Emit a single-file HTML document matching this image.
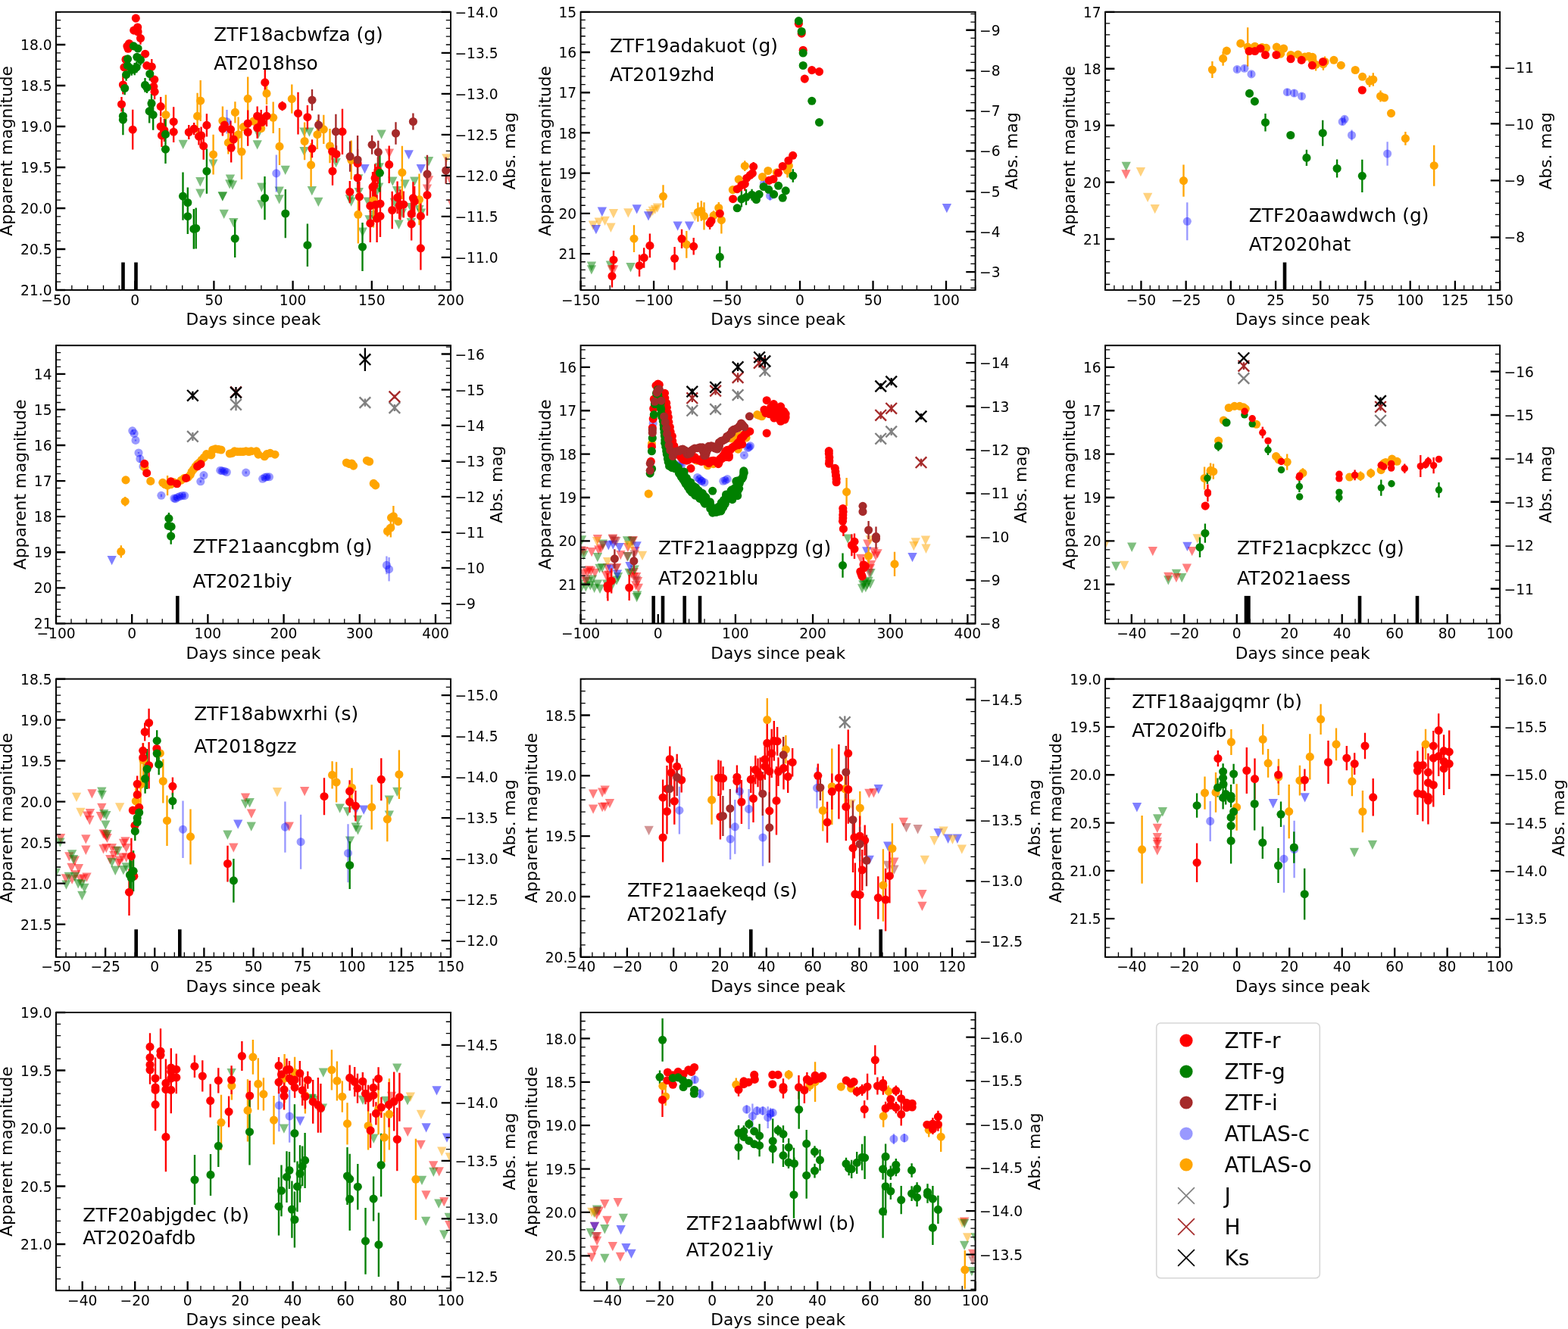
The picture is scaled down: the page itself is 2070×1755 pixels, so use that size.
<!DOCTYPE html>
<html lang="en"><head><meta charset="utf-8"><title>Light curves</title>
<style>html,body{margin:0;padding:0;background:#fff}body{width:2070px;height:1755px;overflow:hidden}svg{display:block}</style>
</head><body>
<svg xmlns="http://www.w3.org/2000/svg" width="2070" height="1755" viewBox="0 0 2070 1755">
<style>text{font-family:"DejaVu Sans","Liberation Sans",sans-serif;fill:#000}.t0{font-size:18.67px}.t1{font-size:21.78px}.t2{font-size:24.89px}.t3{font-size:28.0px}.fr{fill:none;stroke:#000;stroke-width:1.95;stroke-linejoin:miter}.mj{fill:none;stroke:#000;stroke-width:2.31}.mn{fill:none;stroke:#000;stroke-width:1.30}.e{fill:none;stroke-width:2.35}</style>
<rect width="2070" height="1755" fill="#fff"/>
<g id="p00">
<clipPath id="c0"><rect x="74" y="15.8" width="521" height="367.2"/></clipPath>
<g clip-path="url(#c0)">
<g fill="#008000" fill-opacity="0.5"><path d="M235.6 184.7h12.3l-6.2 12.3z"/><path d="M333.6 185.3h12.3l-6.2 12.3z"/><path d="M334.8 170.9h12.3l-6.2 12.3z"/></g>
<g fill="#008000" fill-opacity="0.5"><path d="M395.4 168.4h12.3l-6.2 12.3z"/><path d="M402.3 168.4h12.3l-6.2 12.3z"/><path d="M497.5 171.5h12.3l-6.2 12.3z"/></g>
<g fill="#008000" fill-opacity="0.5"><path d="M275.2 210.5h12.3l-6.2 12.3z"/><path d="M258.2 234.1h12.3l-6.2 12.3z"/><path d="M258.2 249.5h12.3l-6.2 12.3z"/><path d="M297.8 230.6h12.3l-6.2 12.3z"/><path d="M297.1 237.2h12.3l-6.2 12.3z"/><path d="M300.9 238.5h12.3l-6.2 12.3z"/><path d="M287.7 253.3h12.3l-6.2 12.3z"/><path d="M287.7 253.5h12.3l-6.2 12.3z"/><path d="M289.6 276.8h12.3l-6.2 12.3z"/><path d="M302.2 288.1h12.3l-6.2 12.3z"/><path d="M339.2 241.6h12.3l-6.2 12.3z"/><path d="M339.2 264.2h12.3l-6.2 12.3z"/><path d="M362.5 246.6h12.3l-6.2 12.3z"/><path d="M362.5 257.3h12.3l-6.2 12.3z"/><path d="M370.6 218.7h12.3l-6.2 12.3z"/></g>
<g fill="#008000" fill-opacity="0.5"><path d="M395.4 193.9h12.3l-6.2 12.3z"/><path d="M437.5 208.9h12.3l-6.2 12.3z"/><path d="M405.7 246h12.3l-6.2 12.3z"/><path d="M414.2 260.7h12.3l-6.2 12.3z"/><path d="M455.7 257.3h12.3l-6.2 12.3z"/><path d="M457.6 260.4h12.3l-6.2 12.3z"/><path d="M467.6 247.9h12.3l-6.2 12.3z"/><path d="M467 230.3h12.3l-6.2 12.3z"/><path d="M494.6 215.2h12.3l-6.2 12.3z"/><path d="M494 241.6h12.3l-6.2 12.3z"/><path d="M479.6 260.4h12.3l-6.2 12.3z"/><path d="M512.2 233.4h12.3l-6.2 12.3z"/><path d="M528.5 237.2h12.3l-6.2 12.3z"/><path d="M541.1 233.4h12.3l-6.2 12.3z"/><path d="M517.9 246h12.3l-6.2 12.3z"/><path d="M559.9 207.1h12.3l-6.2 12.3z"/><path d="M486.5 278h12.3l-6.2 12.3z"/><path d="M481.4 284.3h12.3l-6.2 12.3z"/><path d="M472.6 300.6h12.3l-6.2 12.3z"/><path d="M520.4 290.6h12.3l-6.2 12.3z"/><path d="M524.8 275.5h12.3l-6.2 12.3z"/><path d="M536.7 288.1h12.3l-6.2 12.3z"/><path d="M536.1 268h12.3l-6.2 12.3z"/><path d="M547.4 271.1h12.3l-6.2 12.3z"/><path d="M549.9 275.5h12.3l-6.2 12.3z"/><path d="M514.7 261.7h12.3l-6.2 12.3z"/><path d="M490.9 247.9h12.3l-6.2 12.3z"/></g>
<g fill="#0000ff" fill-opacity="0.5"><path d="M533.6 198.3h12.3l-6.2 12.3z"/><path d="M475.4 217.1h12.3l-6.2 12.3z"/><path d="M549.6 217.1h12.3l-6.2 12.3z"/></g>
<g fill="#ff0000" fill-opacity="0.5"><path d="M507.8 196.4h12.3l-6.2 12.3z"/><path d="M559.9 232.2h12.3l-6.2 12.3z"/><path d="M557.8 243.5h12.3l-6.2 12.3z"/><path d="M588.8 232.8h12.3l-6.2 12.3z"/><path d="M590.1 263h12.3l-6.2 12.3z"/></g>
<g fill="#ffa500" fill-opacity="0.5"><path d="M583.2 203.3h12.3l-6.2 12.3z"/></g>
<path class="e" stroke="#0000ff" stroke-opacity="0.4" d="M299.5 145v31.4"/>
<path class="e" stroke="#0000ff" stroke-opacity="0.4" d="M364.8 204.4v49"/>
<path class="e" stroke="#ffa500" d="M218.9 125.2v52.8M264.7 106.1v54M260.6 122.7v61.5M293.9 140.6v37.7M310.4 134.3v28.1M327.2 101.4v57.8M352 109v28.9M385.3 111.5v38.2M360.7 134.6v41.4M314.6 154.4v46.5M301.4 173.3v30.1M369 168.9v49M402.1 161.6v49.7M281.6 177.7v52.8M319 163.9v72.9"/>
<path class="e" stroke="#ffa500" d="M427.3 151.7v38.2M418.9 158.2v38.9M435.5 170.1v45.2"/>
<path class="e" stroke="#ffa500" d="M410.6 189v57.8M463.7 185.6v51.5M472.8 245v76.6M493 228.9v71.6M530.9 192.7v70.3M553.5 229.5v67.8"/>
<path class="e" stroke="#ff0000" d="M185.5 42.4v16.3M200.3 78.1v20.1M204.1 111.1v20.1M162.4 99.4v25.1M160.5 127.9v19.6M212.2 128.1v25.1M175.2 144.8v52.8M212.2 154.4v25.1M216.9 157v30.1M213.5 163.9v30.1M229.2 141.3v38.9M229.2 160.3v27.6M249.3 165.1v18.8M256.2 162v16.3M272.9 150.3v30.1M262.5 168.9v22.6M265.6 167.6v22.6M268.7 174.8v35.9M293.9 160.7v18.8M296.4 157.6v15.1M304.5 159.5v22.6M308.3 173.9v20.1M305.2 176v38.4M327.2 145.4v35.2M327.2 156.3v36.4M339.7 140.6v25.1M344.7 145v22.6M352 139.4v27.6M339.7 155.1v27.6M349.8 91.3v35.2M372.7 133.7v12.6M393.5 121.8v55.8"/>
<path class="e" stroke="#ff0000" d="M405.9 139v31.4M452 143.8v60.3"/>
<path class="e" stroke="#ff0000" d="M412 184.3v23.9M438.6 188.7v22.6M444 192.2v22.6M439 207.6v37.2M472.1 196.9v37.7M472.1 216.1v37.7M461.8 239v28.9M474.4 239.8v40.2M495.1 216.4v37.7M498.9 207.6v35.2M492 227v40.2M493.9 226.4v37.7M488.8 249.3v45.2M495.7 249v42.7M502 246.5v45.2M497.6 257.2v62.8M502 257.8v55.3M488.8 269.7v50.2M513.7 192.6v49.5M517.7 252.8v49.5M524.6 239.6v42.7M528.4 250.3v40.2M532.8 252.4v35.2M527.2 254v35.2M545.4 240.2v42.7M547.2 245.9v40.2M543.2 263.7v37.7M543.2 274.3v43.2M555.4 266.6v37.7M555.4 299.1v57.3M564 230.3v54.5"/>
<path class="e" stroke="#008000" d="M185.5 71.5v15.1M180.2 81.2v15.1M173.7 84.7v15.1M177.7 82.9v16.3M166.6 90.4v16.3M197.8 88.8v17.6M164.7 107.7v17.6M191.5 102.9v18.8M194 108v15.1M200 124v25.1M197.2 131.2v31.4M202.2 131.5v40.2M162.4 134.3v37.7M162.4 138.1v40.2M218.5 157.3v40.2M218.5 178.3v37.7"/>
<path class="e" stroke="#008000" d="M272.9 196.5v59.3M241.5 227.4v63.3M247.8 247.4v40.2M247.8 262.3v46.7M255.8 276v52.8M258.7 274.6v53.8M310.2 289.8v50.2M349.5 232.9v57.3M376.8 249.9v64.3"/>
<path class="e" stroke="#008000" d="M405.9 295.6v56.3M478.5 294.1v63.8M501.4 203.2v50.2"/>
<path class="e" stroke="#a52a2a" d="M412 118v28.1M420.6 151.3v27.6M443.4 150.7v46.5M491.1 178.7v25.1M499.3 185.8v30.1M522.5 161.2v29.6M545.4 149.4v22.1"/>
<path class="e" stroke="#a52a2a" d="M462.1 186.5v40.2M472.1 178.9v64.1M564 204.8v50.2M588.7 207.6v35.2"/>
<g fill="#0000ff" fill-opacity="0.4"><circle cx="299.5" cy="160.7" r="5.55"/></g>
<g fill="#0000ff" fill-opacity="0.4"><circle cx="364.8" cy="228.9" r="5.55"/></g>
<g fill="#ffa500"><circle cx="218.9" cy="151.6" r="5.55"/><circle cx="264.7" cy="133.1" r="5.55"/><circle cx="260.6" cy="153.4" r="5.55"/><circle cx="293.9" cy="159.5" r="5.55"/><circle cx="310.4" cy="148.4" r="5.55"/><circle cx="327.2" cy="130.3" r="5.55"/><circle cx="352" cy="123.4" r="5.55"/><circle cx="385.3" cy="130.6" r="5.55"/><circle cx="360.7" cy="155.3" r="5.55"/><circle cx="334.7" cy="160.1" r="5.55"/><circle cx="321.5" cy="167.6" r="5.55"/><circle cx="344.7" cy="169.5" r="5.55"/><circle cx="314.6" cy="177.7" r="5.55"/><circle cx="301.4" cy="188.4" r="5.55"/><circle cx="369" cy="193.4" r="5.55"/><circle cx="402.1" cy="186.5" r="5.55"/><circle cx="281.6" cy="204.1" r="5.55"/><circle cx="319" cy="200.3" r="5.55"/></g>
<g fill="#ffa500"><circle cx="427.3" cy="170.8" r="5.55"/><circle cx="418.9" cy="177.7" r="5.55"/><circle cx="435.5" cy="192.8" r="5.55"/></g>
<g fill="#ffa500"><circle cx="410.6" cy="217.9" r="5.55"/><circle cx="463.7" cy="211.3" r="5.55"/><circle cx="472.8" cy="283.3" r="5.55"/><circle cx="493" cy="264.7" r="5.55"/><circle cx="530.9" cy="227.9" r="5.55"/><circle cx="553.5" cy="263.5" r="5.55"/></g>
<g fill="#ff0000"><circle cx="179.3" cy="24.1" r="5.55"/><circle cx="181.7" cy="36" r="5.55"/><circle cx="176.7" cy="40.1" r="5.55"/><circle cx="182.1" cy="42" r="5.55"/><circle cx="185.5" cy="50.6" r="5.55"/><circle cx="170.5" cy="57.5" r="5.55"/><circle cx="167.9" cy="60.9" r="5.55"/><circle cx="169.1" cy="64.3" r="5.55"/><circle cx="191.7" cy="71.2" r="5.55"/><circle cx="166" cy="78.5" r="5.55"/><circle cx="163.9" cy="88.8" r="5.55"/><circle cx="193.8" cy="86.6" r="5.55"/><circle cx="200.3" cy="88.1" r="5.55"/><circle cx="203.8" cy="105.1" r="5.55"/><circle cx="202.8" cy="114.3" r="5.55"/><circle cx="204.1" cy="121.2" r="5.55"/><circle cx="162.4" cy="112" r="5.55"/><circle cx="160.5" cy="137.7" r="5.55"/><circle cx="212.2" cy="140.6" r="5.55"/><circle cx="175.2" cy="171.2" r="5.55"/><circle cx="212.2" cy="167" r="5.55"/><circle cx="216.9" cy="172" r="5.55"/><circle cx="213.5" cy="178.9" r="5.55"/><circle cx="229.2" cy="160.7" r="5.55"/><circle cx="229.2" cy="174.2" r="5.55"/><circle cx="249.3" cy="174.5" r="5.55"/><circle cx="256.2" cy="170.1" r="5.55"/><circle cx="272.9" cy="165.4" r="5.55"/><circle cx="262.5" cy="180.2" r="5.55"/><circle cx="265.6" cy="178.9" r="5.55"/><circle cx="268.7" cy="192.8" r="5.55"/><circle cx="293.9" cy="170.1" r="5.55"/><circle cx="296.4" cy="165.1" r="5.55"/><circle cx="304.5" cy="170.8" r="5.55"/><circle cx="308.3" cy="184" r="5.55"/><circle cx="305.2" cy="195.3" r="5.55"/><circle cx="327.2" cy="163" r="5.55"/><circle cx="327.2" cy="174.5" r="5.55"/><circle cx="339.7" cy="153.2" r="5.55"/><circle cx="344.7" cy="156.3" r="5.55"/><circle cx="352" cy="153.2" r="5.55"/><circle cx="346" cy="161.4" r="5.55"/><circle cx="339.7" cy="168.9" r="5.55"/><circle cx="349.8" cy="108.9" r="5.55"/><circle cx="372.7" cy="140" r="5.55"/><circle cx="393.5" cy="149.7" r="5.55"/></g>
<g fill="#ff0000"><circle cx="405.9" cy="154.7" r="5.55"/><circle cx="452" cy="173.9" r="5.55"/></g>
<g fill="#ff0000"><circle cx="412" cy="196.3" r="5.55"/><circle cx="438.6" cy="200" r="5.55"/><circle cx="444" cy="203.5" r="5.55"/><circle cx="439" cy="226.1" r="5.55"/><circle cx="472.1" cy="215.7" r="5.55"/><circle cx="472.1" cy="234.9" r="5.55"/><circle cx="461.8" cy="253.4" r="5.55"/><circle cx="474.4" cy="259.9" r="5.55"/><circle cx="495.1" cy="235.2" r="5.55"/><circle cx="498.9" cy="225.1" r="5.55"/><circle cx="492" cy="247.1" r="5.55"/><circle cx="493.9" cy="245.2" r="5.55"/><circle cx="488.8" cy="271.9" r="5.55"/><circle cx="495.7" cy="270.4" r="5.55"/><circle cx="502" cy="269.1" r="5.55"/><circle cx="497.6" cy="288.6" r="5.55"/><circle cx="502" cy="285.4" r="5.55"/><circle cx="488.8" cy="294.9" r="5.55"/><circle cx="513.7" cy="217.4" r="5.55"/><circle cx="517.7" cy="277.5" r="5.55"/><circle cx="524.6" cy="260.9" r="5.55"/><circle cx="528.4" cy="270.4" r="5.55"/><circle cx="532.8" cy="270" r="5.55"/><circle cx="527.2" cy="271.6" r="5.55"/><circle cx="545.4" cy="261.6" r="5.55"/><circle cx="547.2" cy="266" r="5.55"/><circle cx="543.2" cy="282.5" r="5.55"/><circle cx="543.2" cy="295.9" r="5.55"/><circle cx="555.4" cy="285.4" r="5.55"/><circle cx="555.4" cy="327.8" r="5.55"/><circle cx="564" cy="257.6" r="5.55"/></g>
<g fill="#008000"><circle cx="176.4" cy="60.9" r="5.55"/><circle cx="182.1" cy="64" r="5.55"/><circle cx="180.8" cy="75.3" r="5.55"/><circle cx="185.5" cy="79.1" r="5.55"/><circle cx="168.6" cy="77.8" r="5.55"/><circle cx="168.3" cy="86.6" r="5.55"/><circle cx="180.2" cy="88.8" r="5.55"/><circle cx="173.7" cy="92.3" r="5.55"/><circle cx="177.7" cy="91" r="5.55"/><circle cx="166.6" cy="98.6" r="5.55"/><circle cx="197.8" cy="97.5" r="5.55"/><circle cx="164.7" cy="116.5" r="5.55"/><circle cx="191.5" cy="112.4" r="5.55"/><circle cx="194" cy="115.5" r="5.55"/><circle cx="200" cy="136.6" r="5.55"/><circle cx="197.2" cy="146.9" r="5.55"/><circle cx="202.2" cy="151.6" r="5.55"/><circle cx="162.4" cy="153.2" r="5.55"/><circle cx="162.4" cy="158.2" r="5.55"/><circle cx="218.5" cy="177.4" r="5.55"/><circle cx="218.5" cy="197.2" r="5.55"/></g>
<g fill="#008000"><circle cx="272.9" cy="226.1" r="5.55"/><circle cx="241.5" cy="259.1" r="5.55"/><circle cx="247.8" cy="267.5" r="5.55"/><circle cx="247.8" cy="285.7" r="5.55"/><circle cx="255.8" cy="302.4" r="5.55"/><circle cx="258.7" cy="301.5" r="5.55"/><circle cx="310.2" cy="315" r="5.55"/><circle cx="349.5" cy="261.6" r="5.55"/><circle cx="376.8" cy="282" r="5.55"/></g>
<g fill="#008000"><circle cx="405.9" cy="323.7" r="5.55"/><circle cx="478.5" cy="326" r="5.55"/><circle cx="501.4" cy="228.3" r="5.55"/></g>
<g fill="#a52a2a"><circle cx="412" cy="132.1" r="5.55"/><circle cx="420.6" cy="165.1" r="5.55"/><circle cx="443.4" cy="173.9" r="5.55"/><circle cx="491.1" cy="191.2" r="5.55"/><circle cx="499.3" cy="200.9" r="5.55"/><circle cx="522.5" cy="176" r="5.55"/><circle cx="545.4" cy="160.5" r="5.55"/></g>
<g fill="#a52a2a"><circle cx="462.1" cy="206.6" r="5.55"/><circle cx="472.1" cy="211" r="5.55"/><circle cx="564" cy="229.9" r="5.55"/><circle cx="588.7" cy="225.1" r="5.55"/></g>
<rect x="160.2" y="346.5" width="4.6" height="37" fill="#000"/>
<rect x="177.2" y="346.5" width="4.6" height="37" fill="#000"/>
</g>
<path class="mn" d="M94.84 383v-6.2M115.68 383v-6.2M136.52 383v-6.2M157.36 383v-6.2M199.04 383v-6.2M219.88 383v-6.2M240.72 383v-6.2M261.56 383v-6.2M303.24 383v-6.2M324.08 383v-6.2M344.92 383v-6.2M365.76 383v-6.2M407.44 383v-6.2M428.28 383v-6.2M449.12 383v-6.2M469.96 383v-6.2M511.64 383v-6.2M532.48 383v-6.2M553.32 383v-6.2M574.16 383v-6.2M74 15.80h6.2M74 26.60h6.2M74 37.40h6.2M74 48.20h6.2M74 69.80h6.2M74 80.60h6.2M74 91.40h6.2M74 102.20h6.2M74 123.80h6.2M74 134.60h6.2M74 145.40h6.2M74 156.20h6.2M74 177.80h6.2M74 188.60h6.2M74 199.40h6.2M74 210.20h6.2M74 231.80h6.2M74 242.60h6.2M74 253.40h6.2M74 264.20h6.2M74 285.80h6.2M74 296.60h6.2M74 307.40h6.2M74 318.20h6.2M74 339.80h6.2M74 350.60h6.2M74 361.40h6.2M74 372.20h6.2M595 26.60h-6.2M595 37.40h-6.2M595 48.20h-6.2M595 59.00h-6.2M595 80.60h-6.2M595 91.40h-6.2M595 102.20h-6.2M595 113.00h-6.2M595 134.60h-6.2M595 145.40h-6.2M595 156.20h-6.2M595 167.00h-6.2M595 188.60h-6.2M595 199.40h-6.2M595 210.20h-6.2M595 221.00h-6.2M595 242.60h-6.2M595 253.40h-6.2M595 264.20h-6.2M595 275.00h-6.2M595 296.60h-6.2M595 307.40h-6.2M595 318.20h-6.2M595 329.00h-6.2M595 350.60h-6.2M595 361.40h-6.2M595 372.20h-6.2M595 383.00h-6.2"/>
<path class="mj" d="M74.00 383v-12.3M178.20 383v-12.3M282.40 383v-12.3M386.60 383v-12.3M490.80 383v-12.3M595.00 383v-12.3M74 59.00h12.3M74 113.00h12.3M74 167.00h12.3M74 221.00h12.3M74 275.00h12.3M74 329.00h12.3M74 383.00h12.3M595 15.80h-12.3M595 69.80h-12.3M595 123.80h-12.3M595 177.80h-12.3M595 231.80h-12.3M595 285.80h-12.3M595 339.80h-12.3"/>
<rect class="fr" x="74" y="15.8" width="521" height="367.2"/>
</g>
<g id="p01">
<clipPath id="c1"><rect x="766.6" y="15.8" width="521" height="367.2"/></clipPath>
<g clip-path="url(#c1)">
<g fill="#ffa500" fill-opacity="0.5"><path d="M776.8 291.6h12.3l-6.2 12.3z"/><path d="M784.6 287.4h12.3l-6.2 12.3z"/><path d="M792.5 285.8h12.3l-6.2 12.3z"/><path d="M800.3 294.6h12.3l-6.2 12.3z"/><path d="M803.8 275.9h12.3l-6.2 12.3z"/><path d="M823.2 275.3h12.3l-6.2 12.3z"/><path d="M852.4 275.9h12.3l-6.2 12.3z"/><path d="M855.6 272.8h12.3l-6.2 12.3z"/><path d="M858.7 270.7h12.3l-6.2 12.3z"/><path d="M861.8 268.4h12.3l-6.2 12.3z"/><path d="M911.2 280.2h12.3l-6.2 12.3z"/></g>
<g fill="#0000ff" fill-opacity="0.5"><path d="M788.7 273.6h12.3l-6.2 12.3z"/><path d="M780.8 296.9h12.3l-6.2 12.3z"/><path d="M834.6 270.2h12.3l-6.2 12.3z"/><path d="M849.9 279.3h12.3l-6.2 12.3z"/><path d="M888.5 292.5h12.3l-6.2 12.3z"/><path d="M903.9 292.5h12.3l-6.2 12.3z"/></g>
<g fill="#0000ff" fill-opacity="0.5"><path d="M1243.8 268.9h12.3l-6.2 12.3z"/></g>
<g fill="#008000" fill-opacity="0.5"><path d="M774.8 345.6h12.3l-6.2 12.3z"/><path d="M774.8 350.3h12.3l-6.2 12.3z"/><path d="M799.7 344.6h12.3l-6.2 12.3z"/><path d="M826.4 347.1h12.3l-6.2 12.3z"/></g>
<g fill="#ff0000" fill-opacity="0.5"><path d="M801.6 350.3h12.3l-6.2 12.3z"/><path d="M804.1 350.3h12.3l-6.2 12.3z"/></g>
<path class="e" stroke="#0000ff" stroke-opacity="0.4" d="M1008.4 238.4v7.5M1016.6 252.2v12.6"/>
<path class="e" stroke="#ffa500" d="M875.5 244.2v30.1M837 297.2v35.9M906.3 305v35.7M921.4 267.6v25.1M925.8 265.3v26.4M929.5 267.2v36.4M948.8 267v15.1M942.1 278.3v12.6M952.4 272.7v35.9"/>
<path class="e" stroke="#ffa500" d="M983.3 212.3v13.8M1039.5 215.7v18.8"/>
<path class="e" stroke="#ff0000" d="M810 331v24.4M808 349.5v30.1M844.1 336.3v28.9M850.2 327.3v26.4M857.9 308.5v31.7M890.6 326v30.6M900 302.8v25.1M915.7 313.9v22.6M937.1 286.7v16.3M939 285.4v12.6"/>
<path class="e" stroke="#ff0000" d="M978.9 237.1v15.1M983.3 233.3v18.8M994.7 213.9v12.6"/>
<path class="e" stroke="#008000" d="M950.3 325.4v28.1"/>
<path class="e" stroke="#008000" d="M978.9 252.2v21.4M985 250v20.7M992.6 249.7v15.1M1046.8 223.2v17.6"/>
<g fill="#0000ff" fill-opacity="0.4"><circle cx="1008.4" cy="242.1" r="5.55"/><circle cx="1016.6" cy="258.5" r="5.55"/></g>
<g fill="#ffa500"><circle cx="875.5" cy="259.3" r="5.55"/><circle cx="837" cy="315.2" r="5.55"/><circle cx="906.3" cy="322.9" r="5.55"/><circle cx="921.4" cy="280.2" r="5.55"/><circle cx="925.8" cy="278.5" r="5.55"/><circle cx="929.5" cy="285.4" r="5.55"/><circle cx="948.8" cy="274.5" r="5.55"/><circle cx="942.1" cy="284.6" r="5.55"/><circle cx="952.4" cy="290.7" r="5.55"/></g>
<g fill="#ffa500"><circle cx="983.3" cy="219.2" r="5.55"/><circle cx="975.2" cy="236.8" r="5.55"/><circle cx="967.3" cy="250.6" r="5.55"/><circle cx="1006.5" cy="233.5" r="5.55"/><circle cx="1013.9" cy="225.5" r="5.55"/><circle cx="1025.4" cy="227.7" r="5.55"/><circle cx="1041.4" cy="218.9" r="5.55"/><circle cx="1039.5" cy="225.2" r="5.55"/></g>
<g fill="#ff0000"><circle cx="810" cy="343.2" r="5.55"/><circle cx="808" cy="364.6" r="5.55"/><circle cx="844.1" cy="350.7" r="5.55"/><circle cx="850.2" cy="340.4" r="5.55"/><circle cx="857.9" cy="324.4" r="5.55"/><circle cx="890.6" cy="341.3" r="5.55"/><circle cx="900" cy="315.3" r="5.55"/><circle cx="915.7" cy="325.3" r="5.55"/><circle cx="937.1" cy="294.9" r="5.55"/><circle cx="939" cy="291.7" r="5.55"/><circle cx="950.3" cy="282" r="5.55"/></g>
<g fill="#ff0000"><circle cx="967.6" cy="262.7" r="5.55"/><circle cx="973.2" cy="249.7" r="5.55"/><circle cx="978.9" cy="244.6" r="5.55"/><circle cx="983.3" cy="242.8" r="5.55"/><circle cx="985.8" cy="235.2" r="5.55"/><circle cx="990.2" cy="231.4" r="5.55"/><circle cx="993.3" cy="228.9" r="5.55"/><circle cx="994.7" cy="220.1" r="5.55"/><circle cx="1015.3" cy="238.4" r="5.55"/><circle cx="1021" cy="236.5" r="5.55"/><circle cx="1027.4" cy="228.3" r="5.55"/><circle cx="1033.2" cy="219.5" r="5.55"/><circle cx="1040.9" cy="212" r="5.55"/><circle cx="1046.7" cy="205.3" r="5.55"/></g>
<g fill="#ff0000"><circle cx="1054.4" cy="31.3" r="5.55"/><circle cx="1058.2" cy="44.1" r="5.55"/><circle cx="1060.2" cy="66.2" r="5.55"/><circle cx="1071.8" cy="92.6" r="5.55"/><circle cx="1081.5" cy="94.6" r="5.55"/><circle cx="1062.3" cy="104.1" r="5.55"/></g>
<g fill="#008000"><circle cx="950.3" cy="339.4" r="5.55"/></g>
<g fill="#008000"><circle cx="973.2" cy="274.8" r="5.55"/><circle cx="978.9" cy="262.9" r="5.55"/><circle cx="985" cy="260.3" r="5.55"/><circle cx="992.6" cy="257.2" r="5.55"/><circle cx="998.4" cy="263.5" r="5.55"/><circle cx="1002.1" cy="256.6" r="5.55"/><circle cx="1008.1" cy="246.5" r="5.55"/><circle cx="1014.7" cy="250.3" r="5.55"/><circle cx="1021.6" cy="256.6" r="5.55"/><circle cx="1027.6" cy="245.3" r="5.55"/><circle cx="1037.2" cy="251.9" r="5.55"/><circle cx="1033.2" cy="261.3" r="5.55"/><circle cx="1046.8" cy="232" r="5.55"/></g>
<g fill="#008000"><circle cx="1054.4" cy="27.6" r="5.55"/><circle cx="1058.2" cy="41.5" r="5.55"/><circle cx="1060.2" cy="70" r="5.55"/><circle cx="1060.2" cy="86.5" r="5.55"/><circle cx="1071.8" cy="133.3" r="5.55"/><circle cx="1081.5" cy="161.6" r="5.55"/></g>
</g>
<path class="mn" d="M785.90 383v-6.2M805.19 383v-6.2M824.49 383v-6.2M843.79 383v-6.2M882.38 383v-6.2M901.67 383v-6.2M920.97 383v-6.2M940.27 383v-6.2M978.86 383v-6.2M998.16 383v-6.2M1017.45 383v-6.2M1036.75 383v-6.2M1075.34 383v-6.2M1094.64 383v-6.2M1113.93 383v-6.2M1133.23 383v-6.2M1171.82 383v-6.2M1191.12 383v-6.2M1210.41 383v-6.2M1229.71 383v-6.2M1268.30 383v-6.2M1287.60 383v-6.2M766.6 26.44h6.2M766.6 37.09h6.2M766.6 47.73h6.2M766.6 58.37h6.2M766.6 79.66h6.2M766.6 90.30h6.2M766.6 100.95h6.2M766.6 111.59h6.2M766.6 132.88h6.2M766.6 143.52h6.2M766.6 154.17h6.2M766.6 164.81h6.2M766.6 186.10h6.2M766.6 196.74h6.2M766.6 207.38h6.2M766.6 218.03h6.2M766.6 239.31h6.2M766.6 249.96h6.2M766.6 260.60h6.2M766.6 271.24h6.2M766.6 292.53h6.2M766.6 303.17h6.2M766.6 313.82h6.2M766.6 324.46h6.2M766.6 345.75h6.2M766.6 356.39h6.2M766.6 367.03h6.2M766.6 377.68h6.2M1287.6 18.46h-6.2M1287.6 29.10h-6.2M1287.6 50.39h-6.2M1287.6 61.03h-6.2M1287.6 71.68h-6.2M1287.6 82.32h-6.2M1287.6 103.61h-6.2M1287.6 114.25h-6.2M1287.6 124.90h-6.2M1287.6 135.54h-6.2M1287.6 156.83h-6.2M1287.6 167.47h-6.2M1287.6 178.11h-6.2M1287.6 188.76h-6.2M1287.6 210.04h-6.2M1287.6 220.69h-6.2M1287.6 231.33h-6.2M1287.6 241.97h-6.2M1287.6 263.26h-6.2M1287.6 273.90h-6.2M1287.6 284.55h-6.2M1287.6 295.19h-6.2M1287.6 316.48h-6.2M1287.6 327.12h-6.2M1287.6 337.77h-6.2M1287.6 348.41h-6.2M1287.6 369.70h-6.2M1287.6 380.34h-6.2"/>
<path class="mj" d="M766.60 383v-12.3M863.08 383v-12.3M959.56 383v-12.3M1056.04 383v-12.3M1152.53 383v-12.3M1249.01 383v-12.3M766.6 15.80h12.3M766.6 69.02h12.3M766.6 122.23h12.3M766.6 175.45h12.3M766.6 228.67h12.3M766.6 281.89h12.3M766.6 335.10h12.3M1287.6 39.75h-12.3M1287.6 92.97h-12.3M1287.6 146.18h-12.3M1287.6 199.40h-12.3M1287.6 252.62h-12.3M1287.6 305.83h-12.3M1287.6 359.05h-12.3"/>
<rect class="fr" x="766.6" y="15.8" width="521" height="367.2"/>
</g>
<g id="p02">
<clipPath id="c2"><rect x="1459.1" y="15.8" width="521" height="367.2"/></clipPath>
<g clip-path="url(#c2)">
<g fill="#008000" fill-opacity="0.5"><path d="M1480.6 213.7h12.3l-6.2 12.3z"/></g>
<g fill="#ff0000" fill-opacity="0.5"><path d="M1480.3 224.2h12.3l-6.2 12.3z"/></g>
<g fill="#ffa500" fill-opacity="0.5"><path d="M1499.8 221h12.3l-6.2 12.3z"/><path d="M1509 254.7h12.3l-6.2 12.3z"/><path d="M1518.6 270h12.3l-6.2 12.3z"/></g>
<path class="e" stroke="#0000ff" stroke-opacity="0.4" d="M1567.3 267.3v50"/>
<path class="e" stroke="#0000ff" stroke-opacity="0.4" d="M1633.2 87.8v7.5M1642.9 86.6v7.5M1652 94.1v7.5M1699.4 117.3v8.8M1708.5 118.6v8.8M1718.5 122.7v8.8M1772.2 156.3v8.8M1775 153.5v7.5M1784.5 171.6v13.8"/>
<path class="e" stroke="#0000ff" stroke-opacity="0.4" d="M1831.6 187.3v31.4"/>
<path class="e" stroke="#ffa500" d="M1562.5 217.5v42.2"/>
<path class="e" stroke="#ffa500" d="M1600.4 80.9v22.1M1614.6 68v18.8M1647.2 36.3v51.5M1737.1 77.2v16.3M1746.9 76.5v16.3M1749 74.6v13.8M1808 99.8v15.1M1812.8 96.2v17.6M1822.5 119.5v15.1"/>
<path class="e" stroke="#ffa500" d="M1855.4 174.1v17.6M1893.2 191.7v54"/>
<path class="e" stroke="#008000" d="M1670.5 150v23.4M1746.2 158.8v33.9M1724.9 197.7v21.4"/>
<path class="e" stroke="#008000" d="M1765.1 210.5v23.9M1798.3 210.7v43.2"/>
<g fill="#0000ff" fill-opacity="0.4"><circle cx="1567.3" cy="292.3" r="5.55"/></g>
<g fill="#0000ff" fill-opacity="0.4"><circle cx="1633.2" cy="91.6" r="5.55"/><circle cx="1642.9" cy="90.3" r="5.55"/><circle cx="1652" cy="97.9" r="5.55"/><circle cx="1699.4" cy="121.7" r="5.55"/><circle cx="1708.5" cy="123" r="5.55"/><circle cx="1718.5" cy="127.1" r="5.55"/><circle cx="1772.2" cy="160.7" r="5.55"/><circle cx="1775" cy="157.3" r="5.55"/><circle cx="1784.5" cy="178.5" r="5.55"/></g>
<g fill="#0000ff" fill-opacity="0.4"><circle cx="1831.6" cy="203" r="5.55"/></g>
<g fill="#ffa500"><circle cx="1562.5" cy="238.6" r="5.55"/></g>
<g fill="#ffa500"><circle cx="1600.4" cy="92" r="5.55"/><circle cx="1614.6" cy="77.4" r="5.55"/><circle cx="1619.4" cy="67.1" r="5.55"/><circle cx="1637.8" cy="57.4" r="5.55"/><circle cx="1647.2" cy="62.1" r="5.55"/><circle cx="1656.7" cy="61.2" r="5.55"/><circle cx="1666.1" cy="62.5" r="5.55"/><circle cx="1671.5" cy="63.3" r="5.55"/><circle cx="1685.3" cy="62.1" r="5.55"/><circle cx="1694.6" cy="64" r="5.55"/><circle cx="1690.6" cy="71.2" r="5.55"/><circle cx="1704.1" cy="72.5" r="5.55"/><circle cx="1713.6" cy="72.1" r="5.55"/><circle cx="1722.6" cy="75" r="5.55"/><circle cx="1727.6" cy="74.4" r="5.55"/><circle cx="1732.7" cy="75.3" r="5.55"/><circle cx="1732.7" cy="80.3" r="5.55"/><circle cx="1737.1" cy="85.3" r="5.55"/><circle cx="1746.9" cy="84.7" r="5.55"/><circle cx="1749" cy="81.5" r="5.55"/><circle cx="1760.9" cy="79.3" r="5.55"/><circle cx="1770.3" cy="86.2" r="5.55"/><circle cx="1789.2" cy="92.5" r="5.55"/><circle cx="1798.6" cy="101.3" r="5.55"/><circle cx="1808" cy="107.3" r="5.55"/><circle cx="1812.8" cy="105" r="5.55"/><circle cx="1822.5" cy="127" r="5.55"/><circle cx="1827.5" cy="129" r="5.55"/></g>
<g fill="#ffa500"><circle cx="1836.5" cy="149.6" r="5.55"/><circle cx="1855.4" cy="182.9" r="5.55"/><circle cx="1893.2" cy="218.7" r="5.55"/></g>
<g fill="#ff0000"><circle cx="1649.1" cy="67.5" r="5.55"/><circle cx="1656.7" cy="67.5" r="5.55"/><circle cx="1664" cy="64" r="5.55"/><circle cx="1670.5" cy="72.5" r="5.55"/><circle cx="1684.9" cy="72.5" r="5.55"/><circle cx="1704" cy="77.8" r="5.55"/><circle cx="1718.2" cy="79.4" r="5.55"/><circle cx="1732.3" cy="86.3" r="5.55"/><circle cx="1746.5" cy="81.5" r="5.55"/><circle cx="1798.3" cy="119" r="5.55"/></g>
<g fill="#008000"><circle cx="1649.5" cy="123.4" r="5.55"/><circle cx="1656.4" cy="133.9" r="5.55"/><circle cx="1670.5" cy="161.7" r="5.55"/><circle cx="1703.8" cy="178.5" r="5.55"/><circle cx="1746.2" cy="175.7" r="5.55"/><circle cx="1724.9" cy="208.4" r="5.55"/></g>
<g fill="#008000"><circle cx="1765.1" cy="222.5" r="5.55"/><circle cx="1798.3" cy="232.3" r="5.55"/></g>
<rect x="1693.7" y="346.5" width="4.6" height="37" fill="#000"/>
</g>
<path class="mn" d="M1459.10 383v-6.2M1470.94 383v-6.2M1482.78 383v-6.2M1494.62 383v-6.2M1518.30 383v-6.2M1530.15 383v-6.2M1541.99 383v-6.2M1553.83 383v-6.2M1577.51 383v-6.2M1589.35 383v-6.2M1601.19 383v-6.2M1613.03 383v-6.2M1636.71 383v-6.2M1648.55 383v-6.2M1660.40 383v-6.2M1672.24 383v-6.2M1695.92 383v-6.2M1707.76 383v-6.2M1719.60 383v-6.2M1731.44 383v-6.2M1755.12 383v-6.2M1766.96 383v-6.2M1778.80 383v-6.2M1790.65 383v-6.2M1814.33 383v-6.2M1826.17 383v-6.2M1838.01 383v-6.2M1849.85 383v-6.2M1873.53 383v-6.2M1885.37 383v-6.2M1897.21 383v-6.2M1909.05 383v-6.2M1932.74 383v-6.2M1944.58 383v-6.2M1956.42 383v-6.2M1968.26 383v-6.2M1459.1 30.79h6.2M1459.1 45.78h6.2M1459.1 60.76h6.2M1459.1 75.75h6.2M1459.1 105.73h6.2M1459.1 120.71h6.2M1459.1 135.70h6.2M1459.1 150.69h6.2M1459.1 180.67h6.2M1459.1 195.65h6.2M1459.1 210.64h6.2M1459.1 225.63h6.2M1459.1 255.60h6.2M1459.1 270.59h6.2M1459.1 285.58h6.2M1459.1 300.57h6.2M1459.1 330.54h6.2M1459.1 345.53h6.2M1459.1 360.52h6.2M1459.1 375.51h6.2M1980.1 28.54h-6.2M1980.1 43.53h-6.2M1980.1 58.52h-6.2M1980.1 73.50h-6.2M1980.1 103.48h-6.2M1980.1 118.47h-6.2M1980.1 133.45h-6.2M1980.1 148.44h-6.2M1980.1 178.42h-6.2M1980.1 193.40h-6.2M1980.1 208.39h-6.2M1980.1 223.38h-6.2M1980.1 253.36h-6.2M1980.1 268.34h-6.2M1980.1 283.33h-6.2M1980.1 298.32h-6.2M1980.1 328.29h-6.2M1980.1 343.28h-6.2M1980.1 358.27h-6.2M1980.1 373.26h-6.2"/>
<path class="mj" d="M1506.46 383v-12.3M1565.67 383v-12.3M1624.87 383v-12.3M1684.08 383v-12.3M1743.28 383v-12.3M1802.49 383v-12.3M1861.69 383v-12.3M1920.90 383v-12.3M1980.10 383v-12.3M1459.1 15.80h12.3M1459.1 90.74h12.3M1459.1 165.68h12.3M1459.1 240.62h12.3M1459.1 315.56h12.3M1980.1 88.49h-12.3M1980.1 163.43h-12.3M1980.1 238.37h-12.3M1980.1 313.31h-12.3"/>
<rect class="fr" x="1459.1" y="15.8" width="521" height="367.2"/>
</g>
<g id="p10">
<clipPath id="c3"><rect x="74" y="456.2" width="521" height="367.2"/></clipPath>
<g clip-path="url(#c3)">
<g fill="#0000ff" fill-opacity="0.5"><path d="M141.5 733.9h12.3l-6.2 12.3z"/></g>
<path class="e" stroke="#0000ff" stroke-opacity="0.4" d="M174.8 567.3v3M177.1 570.9v3M179 580.4v2M183 597v2M184.9 600.9v10M189 614.7v2.5M212.9 652.4v3.8M264.8 634.3v3M269 625.7v3.8M231.7 656.1v5M234.3 654.3v5M237.4 653v5M240.5 652v5M243.7 652.1v5M229.9 655.5v5M290.8 618.7v5M293.3 619.3v5M296.4 619.7v5M299.3 621.6v3.8M324.7 622.6v3M346.7 629.8v5M349.8 627.9v5M352.3 627.2v5M355.5 627.2v5"/>
<path class="e" stroke="#0000ff" stroke-opacity="0.4" d="M510.4 734.4v23.9M513.6 736v31.4"/>
<path class="e" stroke="#ffa500" d="M165.2 655.9v12.6M159.8 720.2v16.3M221.1 627.9v26.4"/>
<path class="e" stroke="#ffa500" d="M519.4 667.9v27.6M515.8 684.5v25.1M511.5 694.6v13.8"/>
<path class="e" stroke="#008000" d="M222.9 677.1v15.1M225.7 697.3v21.4"/>
<path class="e" stroke="#808080" stroke-width="2.0" d="M254.4 570.9v11M311.5 526.3v16M481.9 526.4v10.4M520.9 534v9"/>
<path class="e" stroke="#a52a2a" stroke-width="2.0" d="M520.9 521.4v5"/>
<path class="e" stroke="#000000" stroke-width="2.0" d="M254.4 516.8v11M311.5 510.9v15M481.9 459.5v30.4"/>
<g fill="#0000ff" fill-opacity="0.4"><circle cx="174.8" cy="568.8" r="5.55"/><circle cx="177.1" cy="572.4" r="5.55"/><circle cx="179" cy="581.4" r="5.55"/><circle cx="183" cy="598" r="5.55"/><circle cx="184.9" cy="605.9" r="5.55"/><circle cx="189" cy="615.9" r="5.55"/><circle cx="212.9" cy="654.3" r="5.55"/><circle cx="264.8" cy="635.8" r="5.55"/><circle cx="269" cy="627.6" r="5.55"/><circle cx="231.7" cy="658.6" r="5.55"/><circle cx="234.3" cy="656.8" r="5.55"/><circle cx="237.4" cy="655.5" r="5.55"/><circle cx="240.5" cy="654.5" r="5.55"/><circle cx="243.7" cy="654.6" r="5.55"/><circle cx="229.9" cy="658" r="5.55"/><circle cx="290.8" cy="621.2" r="5.55"/><circle cx="293.3" cy="621.8" r="5.55"/><circle cx="296.4" cy="622.2" r="5.55"/><circle cx="299.3" cy="623.5" r="5.55"/><circle cx="324.7" cy="624.1" r="5.55"/><circle cx="346.7" cy="632.3" r="5.55"/><circle cx="349.8" cy="630.4" r="5.55"/><circle cx="352.3" cy="629.8" r="5.55"/><circle cx="355.5" cy="629.8" r="5.55"/></g>
<g fill="#0000ff" fill-opacity="0.4"><circle cx="510.4" cy="746.4" r="5.55"/><circle cx="513.6" cy="751.7" r="5.55"/></g>
<g fill="#ffa500"><circle cx="166" cy="633.9" r="5.55"/><circle cx="165.2" cy="662.2" r="5.55"/><circle cx="159.8" cy="728.4" r="5.55"/><circle cx="190.9" cy="617.2" r="5.55"/><circle cx="198.8" cy="635.4" r="5.55"/><circle cx="214.8" cy="637.3" r="5.55"/><circle cx="217.9" cy="639.8" r="5.55"/><circle cx="221.1" cy="641.1" r="5.55"/><circle cx="225.5" cy="639.8" r="5.55"/><circle cx="229.2" cy="636.7" r="5.55"/><circle cx="239.3" cy="634.2" r="5.55"/><circle cx="243" cy="631.6" r="5.55"/><circle cx="248.1" cy="630.4" r="5.55"/><circle cx="251.2" cy="627.2" r="5.55"/><circle cx="253.1" cy="622.9" r="5.55"/><circle cx="255.6" cy="619.7" r="5.55"/><circle cx="258.1" cy="615.9" r="5.55"/><circle cx="260.6" cy="612.8" r="5.55"/><circle cx="263.8" cy="610.3" r="5.55"/><circle cx="266.3" cy="607.2" r="5.55"/><circle cx="269.4" cy="604" r="5.55"/><circle cx="272.6" cy="599.6" r="5.55"/><circle cx="275.7" cy="600.2" r="5.55"/><circle cx="278.8" cy="600.9" r="5.55"/><circle cx="280.7" cy="594" r="5.55"/><circle cx="284.5" cy="592.7" r="5.55"/><circle cx="288.3" cy="593.3" r="5.55"/><circle cx="292" cy="594" r="5.55"/><circle cx="303.3" cy="599" r="5.55"/><circle cx="306.5" cy="598.4" r="5.55"/><circle cx="309.6" cy="595.8" r="5.55"/><circle cx="313.4" cy="596.5" r="5.55"/><circle cx="317.2" cy="596.5" r="5.55"/><circle cx="320.9" cy="596.5" r="5.55"/><circle cx="324.7" cy="595.8" r="5.55"/><circle cx="328.5" cy="596.5" r="5.55"/><circle cx="331.6" cy="595.8" r="5.55"/><circle cx="338.5" cy="595.8" r="5.55"/><circle cx="341" cy="600.2" r="5.55"/><circle cx="349.2" cy="602.8" r="5.55"/><circle cx="352.3" cy="599.6" r="5.55"/><circle cx="356.7" cy="598.4" r="5.55"/><circle cx="363" cy="600.2" r="5.55"/></g>
<g fill="#ffa500"><circle cx="457.4" cy="611" r="5.55"/><circle cx="461.2" cy="612.6" r="5.55"/><circle cx="464.3" cy="612" r="5.55"/><circle cx="466.6" cy="615.1" r="5.55"/><circle cx="484.4" cy="608.2" r="5.55"/><circle cx="487.6" cy="609.5" r="5.55"/><circle cx="493.2" cy="638.4" r="5.55"/><circle cx="495.7" cy="640.9" r="5.55"/><circle cx="519.4" cy="681.7" r="5.55"/><circle cx="516.5" cy="683.6" r="5.55"/><circle cx="525.6" cy="688.6" r="5.55"/><circle cx="515.8" cy="697" r="5.55"/><circle cx="511.5" cy="701.5" r="5.55"/></g>
<g fill="#ff0000"><circle cx="190.7" cy="612.4" r="5.55"/><circle cx="193.7" cy="624.7" r="5.55"/><circle cx="225.5" cy="635.8" r="5.55"/><circle cx="233.6" cy="638.8" r="5.55"/><circle cx="245.6" cy="631.4" r="5.55"/><circle cx="260.6" cy="615.9" r="5.55"/><circle cx="265" cy="612.8" r="5.55"/></g>
<g fill="#008000"><circle cx="222.9" cy="684.6" r="5.55"/><circle cx="222.3" cy="694.4" r="5.55"/><circle cx="226.1" cy="695.4" r="5.55"/><circle cx="225.7" cy="708" r="5.55"/></g>
<path fill="none" stroke="#808080" stroke-width="2.35" d="M247.1 569.1l14.6 14.6m0 -14.6l-14.6 14.6M304.2 527l14.6 14.6m0 -14.6l-14.6 14.6M474.6 524.3l14.6 14.6m0 -14.6l-14.6 14.6M513.6 531.2l14.6 14.6m0 -14.6l-14.6 14.6"/>
<path fill="none" stroke="#a52a2a" stroke-width="2.35" d="M304.2 510.4l14.6 14.6m0 -14.6l-14.6 14.6M513.6 516.6l14.6 14.6m0 -14.6l-14.6 14.6"/>
<path fill="none" stroke="#000000" stroke-width="2.35" d="M247.1 515l14.6 14.6m0 -14.6l-14.6 14.6M304.2 511.1l14.6 14.6m0 -14.6l-14.6 14.6M474.6 467.4l14.6 14.6m0 -14.6l-14.6 14.6"/>
<rect x="232" y="786.9" width="4.6" height="37" fill="#000"/>
</g>
<path class="mn" d="M94.04 823.4v-6.2M114.08 823.4v-6.2M134.12 823.4v-6.2M154.15 823.4v-6.2M194.23 823.4v-6.2M214.27 823.4v-6.2M234.31 823.4v-6.2M254.35 823.4v-6.2M294.42 823.4v-6.2M314.46 823.4v-6.2M334.50 823.4v-6.2M354.54 823.4v-6.2M394.62 823.4v-6.2M414.65 823.4v-6.2M434.69 823.4v-6.2M454.73 823.4v-6.2M494.81 823.4v-6.2M514.85 823.4v-6.2M534.88 823.4v-6.2M554.92 823.4v-6.2M595.00 823.4v-6.2M74 456.20h6.2M74 465.62h6.2M74 475.03h6.2M74 484.45h6.2M74 503.28h6.2M74 512.69h6.2M74 522.11h6.2M74 531.52h6.2M74 550.35h6.2M74 559.77h6.2M74 569.18h6.2M74 578.60h6.2M74 597.43h6.2M74 606.85h6.2M74 616.26h6.2M74 625.68h6.2M74 644.51h6.2M74 653.92h6.2M74 663.34h6.2M74 672.75h6.2M74 691.58h6.2M74 701.00h6.2M74 710.42h6.2M74 719.83h6.2M74 738.66h6.2M74 748.08h6.2M74 757.49h6.2M74 766.91h6.2M74 785.74h6.2M74 795.15h6.2M74 804.57h6.2M74 813.98h6.2M595 458.08h-6.2M595 476.91h-6.2M595 486.33h-6.2M595 495.74h-6.2M595 505.16h-6.2M595 523.99h-6.2M595 533.41h-6.2M595 542.82h-6.2M595 552.24h-6.2M595 571.07h-6.2M595 580.48h-6.2M595 589.90h-6.2M595 599.31h-6.2M595 618.14h-6.2M595 627.56h-6.2M595 636.98h-6.2M595 646.39h-6.2M595 665.22h-6.2M595 674.64h-6.2M595 684.05h-6.2M595 693.47h-6.2M595 712.30h-6.2M595 721.71h-6.2M595 731.13h-6.2M595 740.54h-6.2M595 759.38h-6.2M595 768.79h-6.2M595 778.21h-6.2M595 787.62h-6.2M595 806.45h-6.2M595 815.87h-6.2"/>
<path class="mj" d="M74.00 823.4v-12.3M174.19 823.4v-12.3M274.38 823.4v-12.3M374.58 823.4v-12.3M474.77 823.4v-12.3M574.96 823.4v-12.3M74 493.86h12.3M74 540.94h12.3M74 588.02h12.3M74 635.09h12.3M74 682.17h12.3M74 729.25h12.3M74 776.32h12.3M74 823.40h12.3M595 467.50h-12.3M595 514.58h-12.3M595 561.65h-12.3M595 608.73h-12.3M595 655.81h-12.3M595 702.88h-12.3M595 749.96h-12.3M595 797.04h-12.3"/>
<rect class="fr" x="74" y="456.2" width="521" height="367.2"/>
</g>
<g id="p11">
<clipPath id="c4"><rect x="766.6" y="456.2" width="521" height="367.2"/></clipPath>
<g clip-path="url(#c4)">
<g fill="#ff0000" fill-opacity="0.5"><path d="M782.8 706h12.3l-6.2 12.3z"/><path d="M775 723h12.3l-6.2 12.3z"/><path d="M784.1 720.4h12.3l-6.2 12.3z"/><path d="M787.2 718.6h12.3l-6.2 12.3z"/><path d="M764.5 722.1h12.3l-6.2 12.3z"/><path d="M813.2 726.9h12.3l-6.2 12.3z"/><path d="M802.8 705.6h12.3l-6.2 12.3z"/><path d="M805.4 708.6h12.3l-6.2 12.3z"/><path d="M829.8 708.2h12.3l-6.2 12.3z"/><path d="M822.8 716.9h12.3l-6.2 12.3z"/><path d="M832.4 722.1h12.3l-6.2 12.3z"/><path d="M771.5 747.3h12.3l-6.2 12.3z"/><path d="M764.5 751.7h12.3l-6.2 12.3z"/><path d="M768.9 749.9h12.3l-6.2 12.3z"/><path d="M779.3 750.8h12.3l-6.2 12.3z"/><path d="M774.1 748.2h12.3l-6.2 12.3z"/><path d="M795.9 743.9h12.3l-6.2 12.3z"/><path d="M808 743.9h12.3l-6.2 12.3z"/><path d="M797.6 753.4h12.3l-6.2 12.3z"/><path d="M794.1 754.3h12.3l-6.2 12.3z"/><path d="M827.2 751.7h12.3l-6.2 12.3z"/><path d="M830.6 756h12.3l-6.2 12.3z"/><path d="M834.1 756h12.3l-6.2 12.3z"/><path d="M835.9 762.1h12.3l-6.2 12.3z"/><path d="M836.7 770.8h12.3l-6.2 12.3z"/><path d="M833.2 767.3h12.3l-6.2 12.3z"/><path d="M830.6 749.9h12.3l-6.2 12.3z"/><path d="M767.2 762.1h12.3l-6.2 12.3z"/></g>
<g fill="#008000" fill-opacity="0.5"><path d="M761.9 707.3h12.3l-6.2 12.3z"/><path d="M782.8 729.9h12.3l-6.2 12.3z"/><path d="M789.8 712.5h12.3l-6.2 12.3z"/><path d="M785.4 744.7h12.3l-6.2 12.3z"/><path d="M788.9 743.9h12.3l-6.2 12.3z"/><path d="M821.9 708.2h12.3l-6.2 12.3z"/><path d="M828 709.1h12.3l-6.2 12.3z"/><path d="M822.8 729.1h12.3l-6.2 12.3z"/><path d="M764.5 727.3h12.3l-6.2 12.3z"/><path d="M775.9 759.5h12.3l-6.2 12.3z"/><path d="M767.2 769.1h12.3l-6.2 12.3z"/><path d="M773.2 767.3h12.3l-6.2 12.3z"/><path d="M778.5 770.8h12.3l-6.2 12.3z"/><path d="M785.9 771.7h12.3l-6.2 12.3z"/><path d="M782.8 765.6h12.3l-6.2 12.3z"/><path d="M770.6 762.1h12.3l-6.2 12.3z"/><path d="M808 760.4h12.3l-6.2 12.3z"/><path d="M809.8 756h12.3l-6.2 12.3z"/><path d="M795 765.6h12.3l-6.2 12.3z"/><path d="M824.5 750.8h12.3l-6.2 12.3z"/><path d="M831.5 746.5h12.3l-6.2 12.3z"/><path d="M835 780.4h12.3l-6.2 12.3z"/><path d="M834.5 783h12.3l-6.2 12.3z"/><path d="M801.9 767.3h12.3l-6.2 12.3z"/><path d="M758.5 765.6h12.3l-6.2 12.3z"/><path d="M761.1 770.8h12.3l-6.2 12.3z"/></g>
<g fill="#ffa500" fill-opacity="0.5"><path d="M781.9 709.1h12.3l-6.2 12.3z"/><path d="M795.9 736h12.3l-6.2 12.3z"/><path d="M823.7 714.3h12.3l-6.2 12.3z"/><path d="M828 715.2h12.3l-6.2 12.3z"/><path d="M841.9 727.8h12.3l-6.2 12.3z"/></g>
<g fill="#0000ff" fill-opacity="0.5"><path d="M797.2 714.3h12.3l-6.2 12.3z"/><path d="M803.2 713.4h12.3l-6.2 12.3z"/><path d="M811.5 716.9h12.3l-6.2 12.3z"/><path d="M834.5 715.2h12.3l-6.2 12.3z"/><path d="M800.2 745.6h12.3l-6.2 12.3z"/><path d="M808.9 752.5h12.3l-6.2 12.3z"/><path d="M825.4 742.1h12.3l-6.2 12.3z"/></g>
<g fill="#a52a2a" fill-opacity="0.5"><path d="M802.8 706.5h12.3l-6.2 12.3z"/><path d="M807.2 709.1h12.3l-6.2 12.3z"/><path d="M828.9 708.2h12.3l-6.2 12.3z"/><path d="M789.8 714.3h12.3l-6.2 12.3z"/><path d="M821.9 729.1h12.3l-6.2 12.3z"/><path d="M767.2 759.5h12.3l-6.2 12.3z"/><path d="M807.2 744.7h12.3l-6.2 12.3z"/><path d="M834.1 760.4h12.3l-6.2 12.3z"/><path d="M761.1 721.2h12.3l-6.2 12.3z"/><path d="M831.5 726.5h12.3l-6.2 12.3z"/></g>
<g fill="#008000" fill-opacity="0.5"><path d="M1113.1 705.4h12.3l-6.2 12.3z"/><path d="M1143.4 750.9h12.3l-6.2 12.3z"/><path d="M1135.6 762.9h12.3l-6.2 12.3z"/><path d="M1140.4 761.7h12.3l-6.2 12.3z"/><path d="M1142.8 765.3h12.3l-6.2 12.3z"/><path d="M1133.2 766.5h12.3l-6.2 12.3z"/><path d="M1132 771.2h12.3l-6.2 12.3z"/><path d="M1136.8 770h12.3l-6.2 12.3z"/><path d="M1134.4 765.3h12.3l-6.2 12.3z"/><path d="M1138.6 766.5h12.3l-6.2 12.3z"/></g>
<g fill="#ff0000" fill-opacity="0.5"><path d="M1139.2 712.6h12.3l-6.2 12.3z"/><path d="M1147.6 722.8h12.3l-6.2 12.3z"/><path d="M1152.4 725.2h12.3l-6.2 12.3z"/><path d="M1150 728.2h12.3l-6.2 12.3z"/><path d="M1130.2 731.8h12.3l-6.2 12.3z"/><path d="M1144 740.1h12.3l-6.2 12.3z"/><path d="M1142.8 744.9h12.3l-6.2 12.3z"/></g>
<g fill="#ffa500" fill-opacity="0.5"><path d="M1142.8 707.2h12.3l-6.2 12.3z"/><path d="M1202.6 710.2h12.3l-6.2 12.3z"/><path d="M1200.2 715h12.3l-6.2 12.3z"/><path d="M1215.8 707.6h12.3l-6.2 12.3z"/><path d="M1216.4 718.6h12.3l-6.2 12.3z"/></g>
<g fill="#0000ff" fill-opacity="0.5"><path d="M1138 722.2h12.3l-6.2 12.3z"/><path d="M1198.4 730h12.3l-6.2 12.3z"/></g>
<g fill="#a52a2a" fill-opacity="0.5"><path d="M1141.6 750.9h12.3l-6.2 12.3z"/></g>
<path class="e" stroke="#0000ff" stroke-opacity="0.4" d="M862.2 557.9v2.2M899.5 612.6v3.2M920.7 628.8v3.2M925.5 632.6v4.3M929.9 634.8v4.3M926.6 633.2v4.3M923.4 631v3.2M954.8 633.2v4.3M960.2 630.5v4.3M957.5 632.1v4.3M982.4 599.9v2.6M987.2 589.9v3.2M990.5 586.6v4.3M988.9 588.8v3.2M897.4 611v3.2"/>
<path class="e" stroke="#ffa500" d="M1117.6 631.1v37.1M1146.6 722.4v23.9M1181 728.7v32.3"/>
<path class="e" stroke="#ff0000" d="M807.2 750.4v33M802 757v33M802.4 760.4v33M830.7 759.1v33.9"/>
<path class="e" stroke="#ff0000" d="M1113.4 688.9v19.1M1128 704.4v21.5M1124.4 705.6v28.7M1128 711.6v26.3M1140 736.1v19.1"/>
<path class="e" stroke="#008000" d="M1112.5 730.5v32.3"/>
<path class="e" stroke="#a52a2a" d="M811.4 725.2v25.2M836.8 727.8v26.1"/>
<path class="e" stroke="#a52a2a" d="M1146.6 688v23.9M1156.5 695.4v26.3M1156.5 698.4v26.3"/>
<path class="e" stroke="#808080" stroke-width="2.0" d="M913.8 536.8v10.8M944.6 534.9v10.8M974.1 516.2v10.8M1009.8 484.1v12.2"/>
<path class="e" stroke="#808080" stroke-width="2.0" d="M1162.7 574.3v10M1176.7 565v10"/>
<path class="e" stroke="#a52a2a" stroke-width="2.0" d="M913.8 520.3v10.8M944.6 510.8v10.8M974.1 492.5v12.2M1002.3 473.3v12.2"/>
<path class="e" stroke="#a52a2a" stroke-width="2.0" d="M1162.7 543.3v10M1176.7 534.3v10M1216 605.7v10"/>
<path class="e" stroke="#000000" stroke-width="2.0" d="M913.8 513v8.1M944.6 506.5v9.5M974.1 479.1v10.8M1002.6 466.4v10.8M1009.8 468.9v16.2"/>
<path class="e" stroke="#000000" stroke-width="2.0" d="M1162.7 506v8M1176.7 499v10M1216 546v8"/>
<g fill="#0000ff" fill-opacity="0.4"><circle cx="862.2" cy="559" r="5.55"/><circle cx="899.5" cy="614.2" r="5.55"/><circle cx="920.7" cy="630.5" r="5.55"/><circle cx="925.5" cy="634.8" r="5.55"/><circle cx="929.9" cy="637" r="5.55"/><circle cx="926.6" cy="635.3" r="5.55"/><circle cx="923.4" cy="632.6" r="5.55"/><circle cx="954.8" cy="635.3" r="5.55"/><circle cx="960.2" cy="632.6" r="5.55"/><circle cx="957.5" cy="634.3" r="5.55"/><circle cx="982.4" cy="601.2" r="5.55"/><circle cx="987.2" cy="591.5" r="5.55"/><circle cx="990.5" cy="588.8" r="5.55"/><circle cx="988.9" cy="590.4" r="5.55"/><circle cx="897.4" cy="612.6" r="5.55"/></g>
<g fill="#ffa500"><circle cx="856.2" cy="652.1" r="5.55"/><circle cx="860.4" cy="586.1" r="5.55"/><circle cx="999.7" cy="547.6" r="5.55"/><circle cx="1005.7" cy="549.8" r="5.55"/><circle cx="934.2" cy="614.8" r="5.55"/><circle cx="974.3" cy="593.1" r="5.55"/><circle cx="985.1" cy="578" r="5.55"/><circle cx="971" cy="575.8" r="5.55"/><circle cx="941.8" cy="612.6" r="5.55"/><circle cx="1002.4" cy="548.7" r="5.55"/><circle cx="920.1" cy="608.3" r="5.55"/><circle cx="965.6" cy="579" r="5.55"/><circle cx="978.6" cy="574.7" r="5.55"/></g>
<g fill="#ffa500"><circle cx="1117.6" cy="649.6" r="5.55"/><circle cx="1146.6" cy="734.3" r="5.55"/><circle cx="1181" cy="744.9" r="5.55"/></g>
<g fill="#ff0000"><circle cx="859.3" cy="609.4" r="5.55"/><circle cx="860.4" cy="589.9" r="5.55"/><circle cx="861.3" cy="565" r="5.55"/><circle cx="862.2" cy="553.1" r="5.55"/><circle cx="862.7" cy="539.5" r="5.55"/><circle cx="863.3" cy="527.1" r="5.55"/><circle cx="868.7" cy="507" r="5.55"/><circle cx="866" cy="509.2" r="5.55"/><circle cx="870.3" cy="508.1" r="5.55"/><circle cx="912" cy="618.6" r="5.55"/><circle cx="1012.2" cy="572" r="5.55"/><circle cx="877.5" cy="519.2" r="5.55"/><circle cx="877.8" cy="525.6" r="5.55"/><circle cx="879.7" cy="532.2" r="5.55"/><circle cx="880.3" cy="538.2" r="5.55"/><circle cx="881.3" cy="544.9" r="5.55"/><circle cx="882.3" cy="550.9" r="5.55"/><circle cx="882.8" cy="557.3" r="5.55"/><circle cx="884.4" cy="564.1" r="5.55"/><circle cx="885.1" cy="570.2" r="5.55"/><circle cx="887.4" cy="576.1" r="5.55"/><circle cx="887.7" cy="582.5" r="5.55"/><circle cx="889.8" cy="588.7" r="5.55"/><circle cx="893.1" cy="594.6" r="5.55"/><circle cx="896.1" cy="599.5" r="5.55"/><circle cx="898.3" cy="603.1" r="5.55"/><circle cx="901.1" cy="606" r="5.55"/><circle cx="901.2" cy="604.9" r="5.55"/><circle cx="903.3" cy="607.3" r="5.55"/><circle cx="906.4" cy="608.2" r="5.55"/><circle cx="908.2" cy="607.7" r="5.55"/><circle cx="909.8" cy="604" r="5.55"/><circle cx="912.4" cy="604.8" r="5.55"/><circle cx="911.5" cy="604.8" r="5.55"/><circle cx="916.9" cy="603.5" r="5.55"/><circle cx="917.1" cy="606.5" r="5.55"/><circle cx="918.4" cy="605.3" r="5.55"/><circle cx="922" cy="607.6" r="5.55"/><circle cx="924.6" cy="606.9" r="5.55"/><circle cx="925.8" cy="609.4" r="5.55"/><circle cx="927.3" cy="608.7" r="5.55"/><circle cx="930.4" cy="609" r="5.55"/><circle cx="932.5" cy="608.5" r="5.55"/><circle cx="935.8" cy="611.7" r="5.55"/><circle cx="937.2" cy="609.9" r="5.55"/><circle cx="938.6" cy="608.9" r="5.55"/><circle cx="941.5" cy="608.3" r="5.55"/><circle cx="942.2" cy="608.6" r="5.55"/><circle cx="943.4" cy="608.9" r="5.55"/><circle cx="946.5" cy="610" r="5.55"/><circle cx="948.3" cy="610.2" r="5.55"/><circle cx="949.1" cy="610.5" r="5.55"/><circle cx="950.2" cy="606.5" r="5.55"/><circle cx="952.7" cy="605.9" r="5.55"/><circle cx="952.1" cy="604.7" r="5.55"/><circle cx="956.6" cy="603.8" r="5.55"/><circle cx="958.3" cy="603.4" r="5.55"/><circle cx="958.7" cy="601.8" r="5.55"/><circle cx="962.3" cy="601.3" r="5.55"/><circle cx="954.8" cy="601.7" r="5.55"/><circle cx="957.2" cy="597.9" r="5.55"/><circle cx="958.2" cy="596.4" r="5.55"/><circle cx="959.1" cy="594.8" r="5.55"/><circle cx="960.4" cy="594.3" r="5.55"/><circle cx="962.9" cy="593.8" r="5.55"/><circle cx="964.3" cy="593.8" r="5.55"/><circle cx="967.1" cy="590.7" r="5.55"/><circle cx="967.7" cy="590.4" r="5.55"/><circle cx="970.3" cy="588.7" r="5.55"/><circle cx="971.4" cy="588.3" r="5.55"/><circle cx="973.4" cy="585.8" r="5.55"/><circle cx="974.5" cy="584.6" r="5.55"/><circle cx="977.8" cy="580.8" r="5.55"/><circle cx="978.3" cy="579.8" r="5.55"/><circle cx="979.7" cy="577.5" r="5.55"/><circle cx="978.4" cy="578.2" r="5.55"/><circle cx="981.6" cy="576.1" r="5.55"/><circle cx="983" cy="573.8" r="5.55"/><circle cx="985.5" cy="572.1" r="5.55"/><circle cx="984.9" cy="571.6" r="5.55"/><circle cx="989.8" cy="569.7" r="5.55"/><circle cx="979.7" cy="586.6" r="5.55"/><circle cx="975.3" cy="587.7" r="5.55"/><circle cx="962.3" cy="603.9" r="5.55"/><circle cx="948.3" cy="612.6" r="5.55"/><circle cx="1012.2" cy="528.7" r="5.55"/><circle cx="1021.4" cy="533.6" r="5.55"/><circle cx="1030.6" cy="536.8" r="5.55"/><circle cx="1008.9" cy="541.1" r="5.55"/><circle cx="1013.2" cy="543.3" r="5.55"/><circle cx="1018.6" cy="542.2" r="5.55"/><circle cx="1024.1" cy="543.3" r="5.55"/><circle cx="1029.5" cy="545.5" r="5.55"/><circle cx="1034.9" cy="543.3" r="5.55"/><circle cx="1037.1" cy="546.6" r="5.55"/><circle cx="1032.7" cy="550.9" r="5.55"/><circle cx="1024.1" cy="548.7" r="5.55"/><circle cx="1029.5" cy="554.1" r="5.55"/><circle cx="1037.1" cy="550.9" r="5.55"/><circle cx="1017.6" cy="537.9" r="5.55"/><circle cx="1026.2" cy="540.1" r="5.55"/><circle cx="1033.8" cy="547.6" r="5.55"/><circle cx="1011.1" cy="545.5" r="5.55"/><circle cx="1015.4" cy="546.6" r="5.55"/><circle cx="1020.8" cy="547.6" r="5.55"/><circle cx="1027.3" cy="549.8" r="5.55"/><circle cx="1030.6" cy="556.3" r="5.55"/><circle cx="1036" cy="554.1" r="5.55"/><circle cx="1021.9" cy="552" r="5.55"/></g>
<g fill="#ff0000"><circle cx="807.2" cy="767" r="5.55"/><circle cx="802" cy="773.5" r="5.55"/><circle cx="802.4" cy="777" r="5.55"/><circle cx="830.7" cy="776.1" r="5.55"/></g>
<g fill="#ff0000"><circle cx="1094.3" cy="595.6" r="5.55"/><circle cx="1094.3" cy="599.1" r="5.55"/><circle cx="1094.8" cy="603.9" r="5.55"/><circle cx="1094.8" cy="608.7" r="5.55"/><circle cx="1094.5" cy="612.3" r="5.55"/><circle cx="1102.3" cy="618.3" r="5.55"/><circle cx="1102.9" cy="623.1" r="5.55"/><circle cx="1103.5" cy="627.9" r="5.55"/><circle cx="1104.1" cy="632.6" r="5.55"/><circle cx="1104.1" cy="636.8" r="5.55"/><circle cx="1112.8" cy="671.5" r="5.55"/><circle cx="1113.1" cy="675.7" r="5.55"/><circle cx="1112.8" cy="679.9" r="5.55"/><circle cx="1112.8" cy="684.1" r="5.55"/><circle cx="1112.5" cy="688.3" r="5.55"/><circle cx="1113.4" cy="698.4" r="5.55"/><circle cx="1128" cy="715.2" r="5.55"/><circle cx="1124.4" cy="720" r="5.55"/><circle cx="1128" cy="724.8" r="5.55"/><circle cx="1140" cy="745.7" r="5.55"/><circle cx="1142.4" cy="747.5" r="5.55"/><circle cx="1135.8" cy="754.7" r="5.55"/><circle cx="1138.2" cy="761.2" r="5.55"/><circle cx="1140.6" cy="749.9" r="5.55"/><circle cx="1137" cy="758.3" r="5.55"/></g>
<g fill="#008000"><circle cx="858.2" cy="625.1" r="5.55"/><circle cx="860.6" cy="619.1" r="5.55"/><circle cx="860.4" cy="595.8" r="5.55"/><circle cx="861.3" cy="578.5" r="5.55"/><circle cx="863.3" cy="547.6" r="5.55"/><circle cx="864.4" cy="533.6" r="5.55"/><circle cx="868.2" cy="514.6" r="5.55"/><circle cx="866.5" cy="519.5" r="5.55"/><circle cx="940.7" cy="648.3" r="5.55"/><circle cx="868.8" cy="521.5" r="5.55"/><circle cx="870.4" cy="526.9" r="5.55"/><circle cx="872.3" cy="531.6" r="5.55"/><circle cx="871.9" cy="536.9" r="5.55"/><circle cx="872.6" cy="540.2" r="5.55"/><circle cx="873.1" cy="546.3" r="5.55"/><circle cx="873.8" cy="550.7" r="5.55"/><circle cx="875.3" cy="555.9" r="5.55"/><circle cx="876.1" cy="561.1" r="5.55"/><circle cx="876.4" cy="566" r="5.55"/><circle cx="877" cy="571" r="5.55"/><circle cx="877.4" cy="575.6" r="5.55"/><circle cx="877.8" cy="581.1" r="5.55"/><circle cx="877.7" cy="585.2" r="5.55"/><circle cx="878.8" cy="590.2" r="5.55"/><circle cx="879.7" cy="595.5" r="5.55"/><circle cx="880.3" cy="599.7" r="5.55"/><circle cx="881.4" cy="605.8" r="5.55"/><circle cx="882.2" cy="610.1" r="5.55"/><circle cx="883.6" cy="615.4" r="5.55"/><circle cx="887.1" cy="617.6" r="5.55"/><circle cx="891.2" cy="618.9" r="5.55"/><circle cx="885.7" cy="609.1" r="5.55"/><circle cx="888" cy="610.5" r="5.55"/><circle cx="888.2" cy="611.5" r="5.55"/><circle cx="890.9" cy="614.1" r="5.55"/><circle cx="892" cy="616.6" r="5.55"/><circle cx="895.1" cy="617.4" r="5.55"/><circle cx="894" cy="618.7" r="5.55"/><circle cx="897.3" cy="621.7" r="5.55"/><circle cx="896.5" cy="625.2" r="5.55"/><circle cx="897.2" cy="624.9" r="5.55"/><circle cx="898.6" cy="627.2" r="5.55"/><circle cx="899.1" cy="629.3" r="5.55"/><circle cx="901.6" cy="632.8" r="5.55"/><circle cx="903.7" cy="631.7" r="5.55"/><circle cx="903.8" cy="636.2" r="5.55"/><circle cx="905.3" cy="639.2" r="5.55"/><circle cx="907.9" cy="638.8" r="5.55"/><circle cx="908.1" cy="643" r="5.55"/><circle cx="909.7" cy="643.7" r="5.55"/><circle cx="910.7" cy="644.3" r="5.55"/><circle cx="910.6" cy="647" r="5.55"/><circle cx="914.6" cy="647" r="5.55"/><circle cx="913.2" cy="650.1" r="5.55"/><circle cx="917.6" cy="654.1" r="5.55"/><circle cx="919" cy="652.2" r="5.55"/><circle cx="922.4" cy="656.2" r="5.55"/><circle cx="923" cy="655.5" r="5.55"/><circle cx="923.9" cy="658.4" r="5.55"/><circle cx="926.8" cy="659.1" r="5.55"/><circle cx="927.2" cy="658.5" r="5.55"/><circle cx="928.9" cy="662.3" r="5.55"/><circle cx="930.5" cy="665.1" r="5.55"/><circle cx="932" cy="663.8" r="5.55"/><circle cx="934.1" cy="662.5" r="5.55"/><circle cx="935.6" cy="663.3" r="5.55"/><circle cx="937.4" cy="662.9" r="5.55"/><circle cx="935.8" cy="664.1" r="5.55"/><circle cx="938.3" cy="667.6" r="5.55"/><circle cx="937.7" cy="671.6" r="5.55"/><circle cx="940.6" cy="672.5" r="5.55"/><circle cx="942" cy="675.7" r="5.55"/><circle cx="940.7" cy="677.1" r="5.55"/><circle cx="945.1" cy="676.4" r="5.55"/><circle cx="947.1" cy="675.9" r="5.55"/><circle cx="948.1" cy="675.3" r="5.55"/><circle cx="951.4" cy="675" r="5.55"/><circle cx="952.1" cy="674.3" r="5.55"/><circle cx="951.8" cy="671.6" r="5.55"/><circle cx="954.7" cy="669.8" r="5.55"/><circle cx="956" cy="666.6" r="5.55"/><circle cx="957.3" cy="665.3" r="5.55"/><circle cx="956.5" cy="662.3" r="5.55"/><circle cx="959.1" cy="660.1" r="5.55"/><circle cx="960" cy="656.8" r="5.55"/><circle cx="958.6" cy="654.3" r="5.55"/><circle cx="960.2" cy="655.3" r="5.55"/><circle cx="962.3" cy="656.5" r="5.55"/><circle cx="963.3" cy="658.4" r="5.55"/><circle cx="966.8" cy="659.6" r="5.55"/><circle cx="965.7" cy="656.5" r="5.55"/><circle cx="965.1" cy="657.4" r="5.55"/><circle cx="965.9" cy="653" r="5.55"/><circle cx="967.3" cy="649.1" r="5.55"/><circle cx="970.9" cy="649.8" r="5.55"/><circle cx="969.9" cy="651" r="5.55"/><circle cx="971.9" cy="651.6" r="5.55"/><circle cx="973.7" cy="654.6" r="5.55"/><circle cx="973.2" cy="650.2" r="5.55"/><circle cx="975.7" cy="645.3" r="5.55"/><circle cx="972.6" cy="647.1" r="5.55"/><circle cx="973.9" cy="643.2" r="5.55"/><circle cx="973.4" cy="643.1" r="5.55"/><circle cx="973.8" cy="638.5" r="5.55"/><circle cx="971.9" cy="635.4" r="5.55"/><circle cx="975.1" cy="636.1" r="5.55"/><circle cx="974.4" cy="634.9" r="5.55"/><circle cx="976" cy="638.2" r="5.55"/><circle cx="976" cy="638.7" r="5.55"/><circle cx="977" cy="635" r="5.55"/><circle cx="979.2" cy="632.6" r="5.55"/><circle cx="980.5" cy="630.6" r="5.55"/><circle cx="981" cy="629.1" r="5.55"/><circle cx="981.9" cy="624.9" r="5.55"/><circle cx="982.1" cy="624.2" r="5.55"/><circle cx="981.8" cy="621.9" r="5.55"/><circle cx="903.1" cy="623" r="5.55"/><circle cx="901.9" cy="625.3" r="5.55"/><circle cx="902.9" cy="626.5" r="5.55"/><circle cx="906.3" cy="631.2" r="5.55"/><circle cx="906.7" cy="633.4" r="5.55"/><circle cx="909.6" cy="636.2" r="5.55"/><circle cx="911.7" cy="637" r="5.55"/><circle cx="915" cy="641.7" r="5.55"/><circle cx="915.6" cy="642.3" r="5.55"/><circle cx="918.6" cy="643.8" r="5.55"/><circle cx="918.3" cy="645.4" r="5.55"/><circle cx="922.3" cy="647.9" r="5.55"/><circle cx="927.2" cy="651.4" r="5.55"/><circle cx="927.2" cy="652.1" r="5.55"/><circle cx="929.8" cy="655.4" r="5.55"/><circle cx="931.8" cy="656.6" r="5.55"/><circle cx="938.9" cy="670.4" r="5.55"/><circle cx="941" cy="671.3" r="5.55"/><circle cx="942.9" cy="672.5" r="5.55"/><circle cx="943.3" cy="672.3" r="5.55"/><circle cx="948.1" cy="669.6" r="5.55"/><circle cx="950.9" cy="667.9" r="5.55"/><circle cx="952.3" cy="663.9" r="5.55"/><circle cx="954.7" cy="664" r="5.55"/><circle cx="955.4" cy="660.4" r="5.55"/><circle cx="957.4" cy="659.8" r="5.55"/><circle cx="958.6" cy="653" r="5.55"/><circle cx="962.9" cy="653.5" r="5.55"/><circle cx="963.6" cy="651.6" r="5.55"/><circle cx="965.1" cy="648" r="5.55"/><circle cx="966.2" cy="646.7" r="5.55"/><circle cx="969.7" cy="644.9" r="5.55"/><circle cx="972.8" cy="641.9" r="5.55"/><circle cx="973.1" cy="638" r="5.55"/><circle cx="973.2" cy="635.8" r="5.55"/><circle cx="976.9" cy="634.3" r="5.55"/></g>
<g fill="#008000"><circle cx="1112.5" cy="746.6" r="5.55"/></g>
<g fill="#a52a2a"><circle cx="858.2" cy="621.3" r="5.55"/><circle cx="858.2" cy="612.1" r="5.55"/><circle cx="861.3" cy="571.5" r="5.55"/><circle cx="861.3" cy="567.7" r="5.55"/><circle cx="864.4" cy="530.3" r="5.55"/><circle cx="868.7" cy="515.7" r="5.55"/><circle cx="867.1" cy="518.4" r="5.55"/><circle cx="873" cy="529.2" r="5.55"/><circle cx="870.3" cy="514.1" r="5.55"/><circle cx="989.4" cy="549.8" r="5.55"/><circle cx="876.7" cy="550" r="5.55"/><circle cx="878.3" cy="557.5" r="5.55"/><circle cx="879.7" cy="565.3" r="5.55"/><circle cx="880.6" cy="573" r="5.55"/><circle cx="882.3" cy="580" r="5.55"/><circle cx="883.1" cy="588.1" r="5.55"/><circle cx="884.8" cy="594.6" r="5.55"/><circle cx="888.2" cy="602.5" r="5.55"/><circle cx="889.9" cy="598" r="5.55"/><circle cx="892.7" cy="596.1" r="5.55"/><circle cx="896.7" cy="595.6" r="5.55"/><circle cx="898.8" cy="593.8" r="5.55"/><circle cx="901.3" cy="593" r="5.55"/><circle cx="904.3" cy="594.7" r="5.55"/><circle cx="906.4" cy="597.4" r="5.55"/><circle cx="907.3" cy="599.9" r="5.55"/><circle cx="908.9" cy="599.5" r="5.55"/><circle cx="911.5" cy="598.4" r="5.55"/><circle cx="912.2" cy="595.4" r="5.55"/><circle cx="914.2" cy="593.9" r="5.55"/><circle cx="917.1" cy="592.1" r="5.55"/><circle cx="921.2" cy="591.7" r="5.55"/><circle cx="924.1" cy="590.8" r="5.55"/><circle cx="927.4" cy="590.9" r="5.55"/><circle cx="927.5" cy="592.9" r="5.55"/><circle cx="928.2" cy="595.5" r="5.55"/><circle cx="929.8" cy="598.9" r="5.55"/><circle cx="929.8" cy="601.5" r="5.55"/><circle cx="931.5" cy="601.1" r="5.55"/><circle cx="932.4" cy="598.1" r="5.55"/><circle cx="932.6" cy="595.4" r="5.55"/><circle cx="934.3" cy="593.7" r="5.55"/><circle cx="935.6" cy="589.3" r="5.55"/><circle cx="939" cy="588.8" r="5.55"/><circle cx="942.4" cy="589.8" r="5.55"/><circle cx="943.4" cy="591.9" r="5.55"/><circle cx="946.2" cy="592.2" r="5.55"/><circle cx="946.9" cy="593" r="5.55"/><circle cx="949.1" cy="590.4" r="5.55"/><circle cx="949.5" cy="587.7" r="5.55"/><circle cx="949.4" cy="584.2" r="5.55"/><circle cx="952" cy="582.3" r="5.55"/><circle cx="953.1" cy="582.3" r="5.55"/><circle cx="956.2" cy="580.9" r="5.55"/><circle cx="958.6" cy="579.3" r="5.55"/><circle cx="959.7" cy="576.2" r="5.55"/><circle cx="963.3" cy="573.9" r="5.55"/><circle cx="965.7" cy="572" r="5.55"/><circle cx="966.5" cy="569" r="5.55"/><circle cx="968.6" cy="567.2" r="5.55"/><circle cx="972.6" cy="565.7" r="5.55"/><circle cx="975" cy="564.7" r="5.55"/><circle cx="976.4" cy="562.5" r="5.55"/><circle cx="978.5" cy="559" r="5.55"/><circle cx="980.6" cy="561.3" r="5.55"/><circle cx="982.8" cy="563.9" r="5.55"/></g>
<g fill="#a52a2a"><circle cx="811.4" cy="737.8" r="5.55"/><circle cx="836.8" cy="740.9" r="5.55"/></g>
<g fill="#a52a2a"><circle cx="1139" cy="668.3" r="5.55"/><circle cx="1139" cy="675.7" r="5.55"/><circle cx="1146.6" cy="700" r="5.55"/><circle cx="1156.5" cy="708.6" r="5.55"/><circle cx="1156.5" cy="711.6" r="5.55"/></g>
<path fill="none" stroke="#808080" stroke-width="2.35" d="M906.5 534.9l14.6 14.6m0 -14.6l-14.6 14.6M937.3 533.1l14.6 14.6m0 -14.6l-14.6 14.6M966.8 514.3l14.6 14.6m0 -14.6l-14.6 14.6M1002.5 482.9l14.6 14.6m0 -14.6l-14.6 14.6"/>
<path fill="none" stroke="#808080" stroke-width="2.35" d="M1155.4 572l14.6 14.6m0 -14.6l-14.6 14.6M1169.4 562.7l14.6 14.6m0 -14.6l-14.6 14.6"/>
<path fill="none" stroke="#a52a2a" stroke-width="2.35" d="M906.5 518.4l14.6 14.6m0 -14.6l-14.6 14.6M937.3 508.9l14.6 14.6m0 -14.6l-14.6 14.6M966.8 491.3l14.6 14.6m0 -14.6l-14.6 14.6M995 472l14.6 14.6m0 -14.6l-14.6 14.6"/>
<path fill="none" stroke="#a52a2a" stroke-width="2.35" d="M1155.4 541l14.6 14.6m0 -14.6l-14.6 14.6M1169.4 532l14.6 14.6m0 -14.6l-14.6 14.6M1208.7 603.4l14.6 14.6m0 -14.6l-14.6 14.6"/>
<path fill="none" stroke="#000000" stroke-width="2.35" d="M906.5 509.8l14.6 14.6m0 -14.6l-14.6 14.6M937.3 504l14.6 14.6m0 -14.6l-14.6 14.6M966.8 477.3l14.6 14.6m0 -14.6l-14.6 14.6M995.3 464.5l14.6 14.6m0 -14.6l-14.6 14.6M1002.5 469.7l14.6 14.6m0 -14.6l-14.6 14.6"/>
<path fill="none" stroke="#000000" stroke-width="2.35" d="M1155.4 502.7l14.6 14.6m0 -14.6l-14.6 14.6M1169.4 496.7l14.6 14.6m0 -14.6l-14.6 14.6M1208.7 542.7l14.6 14.6m0 -14.6l-14.6 14.6"/>
<rect x="860.4" y="786.9" width="4.6" height="37" fill="#000"/>
<rect x="872.7" y="786.9" width="4.6" height="37" fill="#000"/>
<rect x="901.4" y="786.9" width="4.6" height="37" fill="#000"/>
<rect x="921.7" y="786.9" width="4.6" height="37" fill="#000"/>
</g>
<path class="mn" d="M787.03 823.4v-6.2M807.46 823.4v-6.2M827.89 823.4v-6.2M848.33 823.4v-6.2M889.19 823.4v-6.2M909.62 823.4v-6.2M930.05 823.4v-6.2M950.48 823.4v-6.2M991.35 823.4v-6.2M1011.78 823.4v-6.2M1032.21 823.4v-6.2M1052.64 823.4v-6.2M1093.50 823.4v-6.2M1113.93 823.4v-6.2M1134.36 823.4v-6.2M1154.80 823.4v-6.2M1195.66 823.4v-6.2M1216.09 823.4v-6.2M1236.52 823.4v-6.2M1256.95 823.4v-6.2M766.6 461.94h6.2M766.6 473.41h6.2M766.6 496.36h6.2M766.6 507.84h6.2M766.6 519.31h6.2M766.6 530.79h6.2M766.6 553.74h6.2M766.6 565.21h6.2M766.6 576.69h6.2M766.6 588.16h6.2M766.6 611.11h6.2M766.6 622.59h6.2M766.6 634.06h6.2M766.6 645.54h6.2M766.6 668.49h6.2M766.6 679.96h6.2M766.6 691.44h6.2M766.6 702.91h6.2M766.6 725.86h6.2M766.6 737.34h6.2M766.6 748.81h6.2M766.6 760.29h6.2M766.6 783.24h6.2M766.6 794.71h6.2M766.6 806.19h6.2M766.6 817.66h6.2M1287.6 456.20h-6.2M1287.6 467.67h-6.2M1287.6 490.62h-6.2M1287.6 502.10h-6.2M1287.6 513.57h-6.2M1287.6 525.05h-6.2M1287.6 548.00h-6.2M1287.6 559.47h-6.2M1287.6 570.95h-6.2M1287.6 582.42h-6.2M1287.6 605.37h-6.2M1287.6 616.85h-6.2M1287.6 628.32h-6.2M1287.6 639.80h-6.2M1287.6 662.75h-6.2M1287.6 674.23h-6.2M1287.6 685.70h-6.2M1287.6 697.17h-6.2M1287.6 720.12h-6.2M1287.6 731.60h-6.2M1287.6 743.08h-6.2M1287.6 754.55h-6.2M1287.6 777.50h-6.2M1287.6 788.97h-6.2M1287.6 800.45h-6.2M1287.6 811.92h-6.2"/>
<path class="mj" d="M766.60 823.4v-12.3M868.76 823.4v-12.3M970.91 823.4v-12.3M1073.07 823.4v-12.3M1175.23 823.4v-12.3M1277.38 823.4v-12.3M766.6 484.89h12.3M766.6 542.26h12.3M766.6 599.64h12.3M766.6 657.01h12.3M766.6 714.39h12.3M766.6 771.76h12.3M1287.6 479.15h-12.3M1287.6 536.52h-12.3M1287.6 593.90h-12.3M1287.6 651.27h-12.3M1287.6 708.65h-12.3M1287.6 766.02h-12.3M1287.6 823.40h-12.3"/>
<rect class="fr" x="766.6" y="456.2" width="521" height="367.2"/>
</g>
<g id="p12">
<clipPath id="c5"><rect x="1459.1" y="456.2" width="521" height="367.2"/></clipPath>
<g clip-path="url(#c5)">
<g fill="#008000" fill-opacity="0.5"><path d="M1488.1 716.6h12.3l-6.2 12.3z"/><path d="M1467.1 741.7h12.3l-6.2 12.3z"/><path d="M1546.8 751.8h12.3l-6.2 12.3z"/><path d="M1536.2 760.2h12.3l-6.2 12.3z"/><path d="M1554.1 757h12.3l-6.2 12.3z"/></g>
<g fill="#ff0000" fill-opacity="0.5"><path d="M1515.7 721.9h12.3l-6.2 12.3z"/><path d="M1567.6 721.9h12.3l-6.2 12.3z"/><path d="M1560.7 744.5h12.3l-6.2 12.3z"/><path d="M1536.2 755.8h12.3l-6.2 12.3z"/><path d="M1546.8 757h12.3l-6.2 12.3z"/></g>
<g fill="#0000ff" fill-opacity="0.5"><path d="M1561.3 715.8h12.3l-6.2 12.3z"/></g>
<g fill="#ffa500" fill-opacity="0.5"><path d="M1574.5 705.3h12.3l-6.2 12.3z"/><path d="M1478.1 740.7h12.3l-6.2 12.3z"/><path d="M1452.9 713.1h12.3l-6.2 12.3z"/></g>
<path class="e" stroke="#ffa500" d="M1699.2 599.4v21.4M1590.1 616.4v30.1M1598.1 611.4v20.1M1601.8 612.6v20.1M1719.9 618.3v12.6M1796.1 622.4v12.6M1809.7 618.7v12.6"/>
<path class="e" stroke="#008000" d="M1608.4 581.9v13.8"/>
<path class="e" stroke="#008000" d="M1590.9 691.6v25.1M1584 709.6v26.4"/>
<path class="e" stroke="#008000" d="M1593.9 623.9v15.1M1674 587.3v13.8M1715.4 635v15.1"/>
<path class="e" stroke="#008000" d="M1767.9 650.7v12.6M1823.3 633.4v21.4M1899.5 636.9v20.1"/>
<path class="e" stroke="#ff0000" d="M1594.4 639.5v21.4M1594.4 641v21.4"/>
<path class="e" stroke="#ff0000" d="M1666.8 563.6v15.1"/>
<path class="e" stroke="#ff0000" d="M1788.6 620.5v13.8M1854.3 612.4v12.6M1875.3 601.1v28.9M1881.9 608.6v10M1885.4 603.6v11.3M1892.6 603.9v21.4"/>
<path class="e" stroke="#a52a2a" stroke-width="2.0" d="M1641.9 478.2v10"/>
<path class="e" stroke="#a52a2a" stroke-width="2.0" d="M1822.5 532.3v10"/>
<path class="e" stroke="#000000" stroke-width="2.0" d="M1822.5 524.5v10"/>
<g fill="#ffa500"><circle cx="1622.2" cy="538.5" r="5.55"/><circle cx="1629.7" cy="536.4" r="5.55"/><circle cx="1636.6" cy="536.4" r="5.55"/><circle cx="1641.6" cy="537.9" r="5.55"/><circle cx="1644.2" cy="539.8" r="5.55"/><circle cx="1615.3" cy="555.1" r="5.55"/><circle cx="1608.6" cy="582.1" r="5.55"/><circle cx="1658.6" cy="560.3" r="5.55"/><circle cx="1684.6" cy="602.6" r="5.55"/><circle cx="1688.1" cy="607" r="5.55"/><circle cx="1699.2" cy="610.1" r="5.55"/><circle cx="1590.1" cy="631.5" r="5.55"/><circle cx="1598.1" cy="621.4" r="5.55"/><circle cx="1601.8" cy="622.7" r="5.55"/><circle cx="1719.9" cy="624.6" r="5.55"/><circle cx="1781.7" cy="630" r="5.55"/><circle cx="1796.1" cy="628.7" r="5.55"/><circle cx="1809.7" cy="624.9" r="5.55"/></g>
<g fill="#ffa500"><circle cx="1823.2" cy="620.6" r="5.55"/><circle cx="1826.7" cy="611.8" r="5.55"/><circle cx="1829.2" cy="610.5" r="5.55"/><circle cx="1837.7" cy="606.1" r="5.55"/><circle cx="1844.3" cy="609.3" r="5.55"/></g>
<g fill="#008000"><circle cx="1619" cy="558" r="5.55"/><circle cx="1608.4" cy="588.8" r="5.55"/></g>
<g fill="#008000"><circle cx="1590.9" cy="704.2" r="5.55"/><circle cx="1584" cy="722.7" r="5.55"/></g>
<g fill="#008000"><circle cx="1593.9" cy="631.5" r="4.7"/><circle cx="1642.9" cy="547.9" r="4.7"/><circle cx="1653.2" cy="559.9" r="4.7"/><circle cx="1674" cy="594.2" r="4.7"/><circle cx="1691.5" cy="620.5" r="4.7"/><circle cx="1715.4" cy="642.5" r="4.7"/></g>
<g fill="#008000"><circle cx="1767.9" cy="650.1" r="4.7"/><circle cx="1767.9" cy="657" r="4.7"/><circle cx="1823.3" cy="644.1" r="4.7"/><circle cx="1837" cy="638.8" r="4.7"/><circle cx="1899.5" cy="647" r="4.7"/></g>
<g fill="#ff0000"><circle cx="1591.2" cy="668.1" r="5.55"/></g>
<g fill="#ff0000"><circle cx="1594.4" cy="650.1" r="4.7"/><circle cx="1594.4" cy="651.7" r="4.7"/></g>
<g fill="#ff0000"><circle cx="1643.2" cy="543.3" r="4.7"/><circle cx="1653.2" cy="552.7" r="4.7"/><circle cx="1666.8" cy="571.2" r="4.7"/><circle cx="1674" cy="582.1" r="4.7"/><circle cx="1691.5" cy="609.5" r="4.7"/><circle cx="1715.7" cy="628.1" r="4.7"/><circle cx="1715.1" cy="630.2" r="4.7"/></g>
<g fill="#ff0000"><circle cx="1767.9" cy="626.2" r="4.7"/><circle cx="1767.9" cy="631.9" r="4.7"/><circle cx="1788.6" cy="627.4" r="4.7"/><circle cx="1823.2" cy="614.3" r="4.7"/><circle cx="1826.7" cy="616.2" r="4.7"/><circle cx="1836.7" cy="612.4" r="4.7"/><circle cx="1836.7" cy="618.1" r="4.7"/><circle cx="1854.3" cy="618.7" r="4.7"/><circle cx="1875.3" cy="615.6" r="4.7"/><circle cx="1881.9" cy="613.7" r="4.7"/><circle cx="1885.4" cy="609.3" r="4.7"/><circle cx="1892.6" cy="614.6" r="4.7"/><circle cx="1899.5" cy="606.4" r="4.7"/></g>
<path fill="none" stroke="#808080" stroke-width="2.35" d="M1634.6 492.3l14.6 14.6m0 -14.6l-14.6 14.6"/>
<path fill="none" stroke="#808080" stroke-width="2.35" d="M1815.2 548l14.6 14.6m0 -14.6l-14.6 14.6"/>
<path fill="none" stroke="#a52a2a" stroke-width="2.35" d="M1634.6 476l14.6 14.6m0 -14.6l-14.6 14.6"/>
<path fill="none" stroke="#a52a2a" stroke-width="2.35" d="M1815.2 530l14.6 14.6m0 -14.6l-14.6 14.6"/>
<path fill="none" stroke="#000000" stroke-width="2.35" d="M1634.6 465.5l14.6 14.6m0 -14.6l-14.6 14.6"/>
<path fill="none" stroke="#000000" stroke-width="2.35" d="M1815.2 522.2l14.6 14.6m0 -14.6l-14.6 14.6"/>
<g fill="#008000"><circle cx="1715.7" cy="656" r="4.7"/></g>
<rect x="1642.7" y="786.9" width="8" height="37" fill="#000"/>
<rect x="1792.7" y="786.9" width="4.6" height="37" fill="#000"/>
<rect x="1868.7" y="786.9" width="4.6" height="37" fill="#000"/>
</g>
<path class="mn" d="M1459.10 823.4v-6.2M1476.47 823.4v-6.2M1511.20 823.4v-6.2M1528.57 823.4v-6.2M1545.93 823.4v-6.2M1580.67 823.4v-6.2M1598.03 823.4v-6.2M1615.40 823.4v-6.2M1650.13 823.4v-6.2M1667.50 823.4v-6.2M1684.87 823.4v-6.2M1719.60 823.4v-6.2M1736.97 823.4v-6.2M1754.33 823.4v-6.2M1789.07 823.4v-6.2M1806.43 823.4v-6.2M1823.80 823.4v-6.2M1858.53 823.4v-6.2M1875.90 823.4v-6.2M1893.27 823.4v-6.2M1928.00 823.4v-6.2M1945.37 823.4v-6.2M1962.73 823.4v-6.2M1459.1 461.94h6.2M1459.1 473.41h6.2M1459.1 496.36h6.2M1459.1 507.84h6.2M1459.1 519.31h6.2M1459.1 530.79h6.2M1459.1 553.74h6.2M1459.1 565.21h6.2M1459.1 576.69h6.2M1459.1 588.16h6.2M1459.1 611.11h6.2M1459.1 622.59h6.2M1459.1 634.06h6.2M1459.1 645.54h6.2M1459.1 668.49h6.2M1459.1 679.96h6.2M1459.1 691.44h6.2M1459.1 702.91h6.2M1459.1 725.86h6.2M1459.1 737.34h6.2M1459.1 748.81h6.2M1459.1 760.29h6.2M1459.1 783.24h6.2M1459.1 794.71h6.2M1459.1 806.19h6.2M1459.1 817.66h6.2M1980.1 456.20h-6.2M1980.1 467.68h-6.2M1980.1 479.15h-6.2M1980.1 502.10h-6.2M1980.1 513.58h-6.2M1980.1 525.05h-6.2M1980.1 536.53h-6.2M1980.1 559.48h-6.2M1980.1 570.95h-6.2M1980.1 582.43h-6.2M1980.1 593.90h-6.2M1980.1 616.85h-6.2M1980.1 628.33h-6.2M1980.1 639.80h-6.2M1980.1 651.28h-6.2M1980.1 674.23h-6.2M1980.1 685.70h-6.2M1980.1 697.18h-6.2M1980.1 708.65h-6.2M1980.1 731.60h-6.2M1980.1 743.08h-6.2M1980.1 754.55h-6.2M1980.1 766.03h-6.2M1980.1 788.98h-6.2M1980.1 800.45h-6.2M1980.1 811.93h-6.2M1980.1 823.40h-6.2"/>
<path class="mj" d="M1493.83 823.4v-12.3M1563.30 823.4v-12.3M1632.77 823.4v-12.3M1702.23 823.4v-12.3M1771.70 823.4v-12.3M1841.17 823.4v-12.3M1910.63 823.4v-12.3M1980.10 823.4v-12.3M1459.1 484.89h12.3M1459.1 542.26h12.3M1459.1 599.64h12.3M1459.1 657.01h12.3M1459.1 714.39h12.3M1459.1 771.76h12.3M1980.1 490.63h-12.3M1980.1 548.00h-12.3M1980.1 605.38h-12.3M1980.1 662.75h-12.3M1980.1 720.13h-12.3M1980.1 777.50h-12.3"/>
<rect class="fr" x="1459.1" y="456.2" width="521" height="367.2"/>
</g>
<g id="p20">
<clipPath id="c6"><rect x="74" y="896.6" width="521" height="367.2"/></clipPath>
<g clip-path="url(#c6)">
<g fill="#ffa500" fill-opacity="0.5"><path d="M94.9 1046.7h12.3l-6.2 12.3z"/><path d="M100.3 1066.8h12.3l-6.2 12.3z"/><path d="M152 1060.2h12.3l-6.2 12.3z"/></g>
<g fill="#ffa500" fill-opacity="0.5"><path d="M359.9 1040.1h12.3l-6.2 12.3z"/></g>
<g fill="#ff0000" fill-opacity="0.5"><path d="M115.3 1042.2h12.3l-6.2 12.3z"/><path d="M128.2 1060.8h12.3l-6.2 12.3z"/><path d="M112.8 1068.1h12.3l-6.2 12.3z"/><path d="M109.1 1071.5h12.3l-6.2 12.3z"/><path d="M126.7 1072.1h12.3l-6.2 12.3z"/></g>
<g fill="#ff0000" fill-opacity="0.5"><path d="M112.2 1077.1h12.3l-6.2 12.3z"/><path d="M130.4 1095.3h12.3l-6.2 12.3z"/><path d="M134.2 1098.5h12.3l-6.2 12.3z"/><path d="M107.2 1102.2h12.3l-6.2 12.3z"/><path d="M73.9 1101h12.3l-6.2 12.3z"/><path d="M135.4 1100.9h12.3l-6.2 12.3z"/><path d="M132.3 1096.5h12.3l-6.2 12.3z"/><path d="M107.2 1116.6h12.3l-6.2 12.3z"/><path d="M130.4 1115.3h12.3l-6.2 12.3z"/><path d="M134.2 1114h12.3l-6.2 12.3z"/><path d="M141.7 1114h12.3l-6.2 12.3z"/><path d="M159.3 1105.3h12.3l-6.2 12.3z"/><path d="M156.8 1107.8h12.3l-6.2 12.3z"/><path d="M160.6 1114h12.3l-6.2 12.3z"/><path d="M85.2 1125.3h12.3l-6.2 12.3z"/><path d="M92.7 1130.4h12.3l-6.2 12.3z"/><path d="M88.3 1139.8h12.3l-6.2 12.3z"/><path d="M97.8 1141h12.3l-6.2 12.3z"/><path d="M94 1149.2h12.3l-6.2 12.3z"/><path d="M80.8 1154.2h12.3l-6.2 12.3z"/><path d="M89 1155.5h12.3l-6.2 12.3z"/><path d="M100.3 1155.5h12.3l-6.2 12.3z"/><path d="M104 1154.2h12.3l-6.2 12.3z"/><path d="M108.4 1152.4h12.3l-6.2 12.3z"/><path d="M139.2 1129.1h12.3l-6.2 12.3z"/><path d="M144.2 1124.1h12.3l-6.2 12.3z"/><path d="M151.8 1130.4h12.3l-6.2 12.3z"/><path d="M155.5 1126.6h12.3l-6.2 12.3z"/><path d="M150.5 1134.1h12.3l-6.2 12.3z"/><path d="M160.6 1126.6h12.3l-6.2 12.3z"/><path d="M302.2 1113.4h12.3l-6.2 12.3z"/><path d="M146.7 1117.8h12.3l-6.2 12.3z"/></g>
<g fill="#ff0000" fill-opacity="0.5"><path d="M317.9 1047.4h12.3l-6.2 12.3z"/><path d="M325.8 1068.4h12.3l-6.2 12.3z"/><path d="M375.6 1085.5h12.3l-6.2 12.3z"/><path d="M396 1039h12.3l-6.2 12.3z"/></g>
<g fill="#008000" fill-opacity="0.5"><path d="M128.2 1039.5h12.3l-6.2 12.3z"/><path d="M128.5 1043.9h12.3l-6.2 12.3z"/><path d="M131 1069h12.3l-6.2 12.3z"/><path d="M134.2 1070.9h12.3l-6.2 12.3z"/></g>
<g fill="#008000" fill-opacity="0.5"><path d="M133.2 1083.4h12.3l-6.2 12.3z"/><path d="M135.4 1096h12.3l-6.2 12.3z"/><path d="M294.3 1096.6h12.3l-6.2 12.3z"/><path d="M73.3 1106.5h12.3l-6.2 12.3z"/><path d="M89 1122.2h12.3l-6.2 12.3z"/><path d="M90.9 1129.1h12.3l-6.2 12.3z"/><path d="M149.3 1117.8h12.3l-6.2 12.3z"/><path d="M141.7 1132.9h12.3l-6.2 12.3z"/><path d="M146.1 1143.6h12.3l-6.2 12.3z"/><path d="M156.8 1142.9h12.3l-6.2 12.3z"/><path d="M160.6 1139.2h12.3l-6.2 12.3z"/><path d="M81.4 1162.4h12.3l-6.2 12.3z"/><path d="M84.6 1151.7h12.3l-6.2 12.3z"/><path d="M92.7 1151.7h12.3l-6.2 12.3z"/><path d="M97.1 1161.1h12.3l-6.2 12.3z"/><path d="M101.5 1161.8h12.3l-6.2 12.3z"/><path d="M105.3 1166.8h12.3l-6.2 12.3z"/><path d="M102.2 1176.8h12.3l-6.2 12.3z"/><path d="M67.6 1146.7h12.3l-6.2 12.3z"/></g>
<g fill="#008000" fill-opacity="0.5"><path d="M317.9 1055.8h12.3l-6.2 12.3z"/><path d="M323.5 1054.1h12.3l-6.2 12.3z"/><path d="M325.6 1085.5h12.3l-6.2 12.3z"/><path d="M442.5 1061.4h12.3l-6.2 12.3z"/><path d="M452.8 1065.9h12.3l-6.2 12.3z"/><path d="M466.1 1076.8h12.3l-6.2 12.3z"/><path d="M463.6 1086.6h12.3l-6.2 12.3z"/><path d="M466.4 1090.1h12.3l-6.2 12.3z"/><path d="M455.9 1104.4h12.3l-6.2 12.3z"/><path d="M507.7 1050.6h12.3l-6.2 12.3z"/><path d="M518.2 1039.7h12.3l-6.2 12.3z"/><path d="M507.7 1070.5h12.3l-6.2 12.3z"/></g>
<g fill="#0000ff" fill-opacity="0.5"><path d="M308.1 1082.4h12.3l-6.2 12.3z"/><path d="M463.6 1063.5h12.3l-6.2 12.3z"/><path d="M474.1 1063.5h12.3l-6.2 12.3z"/></g>
<path class="e" stroke="#0000ff" stroke-opacity="0.4" d="M241.5 1057.5v75.4"/>
<path class="e" stroke="#0000ff" stroke-opacity="0.4" d="M376.4 1058.5v67.2M397.1 1075.7v72M459.5 1088.2v77.1"/>
<path class="e" stroke="#ffa500" d="M189.1 980.9v45.2M185.6 1002.3v67.8M179.3 1040.2v35.2M215.3 1002.6v57.8M220.5 1050.4v66.6M251.5 1068.5v72.9"/>
<path class="e" stroke="#ffa500" d="M438.6 1005.2v36.4M444.1 1006.3v53.2M464.5 1014.3v51.8M490.7 1036.2v59.4M511.3 1052.4v58.8M526.9 990.5v64.4"/>
<path class="e" stroke="#ff0000" d="M196.6 935.7v37.7M191.2 954.5v23.9M188.7 981.3v20.1M196.6 979.9v61.5M181.2 1024.6v21.4M227.9 1026.4v23.9"/>
<path class="e" stroke="#ff0000" d="M173.4 1106.8v47.7M170.5 1147.4v61.5M300.5 1116.7v47.7"/>
<path class="e" stroke="#ff0000" d="M428 1027.2v49M461.6 1030.2v29.4M461.6 1044.9v28M469.4 1044v40.6M503.3 1001.3v56"/>
<path class="e" stroke="#008000" d="M207.2 964.3v27.6M207.2 982.4v25.1M209.7 995.6v27.6M194.1 989.1v52.8M191.6 1008.8v38.9M227.9 1047.1v21.4M178.3 1085.2v25.1"/>
<path class="e" stroke="#008000" d="M176.1 1123.3v54M171.5 1132.8v45.2M173.4 1136.8v45.2M308.4 1134v57.8"/>
<path class="e" stroke="#008000" d="M461.7 1111v63"/>
<g fill="#0000ff" fill-opacity="0.4"><circle cx="241.5" cy="1095.2" r="5.55"/></g>
<g fill="#0000ff" fill-opacity="0.4"><circle cx="376.4" cy="1092.1" r="5.55"/><circle cx="397.1" cy="1111.7" r="5.55"/><circle cx="459.5" cy="1126.7" r="5.55"/></g>
<g fill="#ffa500"><circle cx="211.3" cy="994.7" r="5.55"/><circle cx="189.1" cy="1003.5" r="5.55"/><circle cx="185.6" cy="1036.2" r="5.55"/><circle cx="179.3" cy="1057.8" r="5.55"/><circle cx="215.3" cy="1031.5" r="5.55"/><circle cx="220.5" cy="1083.7" r="5.55"/><circle cx="251.5" cy="1104.9" r="5.55"/></g>
<g fill="#ffa500"><circle cx="438.6" cy="1023.4" r="5.55"/><circle cx="444.1" cy="1033" r="5.55"/><circle cx="464.5" cy="1040.2" r="5.55"/><circle cx="490.7" cy="1065.9" r="5.55"/><circle cx="511.3" cy="1081.8" r="5.55"/><circle cx="526.9" cy="1022.7" r="5.55"/></g>
<g fill="#ff0000"><circle cx="196.6" cy="954.5" r="5.55"/><circle cx="191.2" cy="966.5" r="5.55"/><circle cx="188.7" cy="991.3" r="5.55"/><circle cx="188.7" cy="1000.4" r="5.55"/><circle cx="196.6" cy="1010.7" r="5.55"/><circle cx="181.2" cy="1035.3" r="5.55"/><circle cx="181.2" cy="1049.4" r="5.55"/><circle cx="183.7" cy="1066.3" r="5.55"/><circle cx="175.3" cy="1070.1" r="5.55"/><circle cx="178" cy="1090.2" r="5.55"/><circle cx="227.9" cy="1038.3" r="5.55"/><circle cx="206.9" cy="988.5" r="5.55"/></g>
<g fill="#ff0000"><circle cx="173.4" cy="1130.6" r="5.55"/><circle cx="170.5" cy="1178.2" r="5.55"/><circle cx="300.5" cy="1140.5" r="5.55"/><circle cx="176.8" cy="1157.2" r="5.55"/></g>
<g fill="#ff0000"><circle cx="428" cy="1051.7" r="5.55"/><circle cx="461.6" cy="1044.9" r="5.55"/><circle cx="461.6" cy="1058.9" r="5.55"/><circle cx="469.4" cy="1064.3" r="5.55"/><circle cx="503.3" cy="1029.3" r="5.55"/></g>
<g fill="#008000"><circle cx="207.2" cy="978.2" r="5.55"/><circle cx="207.2" cy="995" r="5.55"/><circle cx="209.7" cy="1009.4" r="5.55"/><circle cx="194.1" cy="1015.5" r="5.55"/><circle cx="191.6" cy="1028.3" r="5.55"/><circle cx="227.9" cy="1057.8" r="5.55"/><circle cx="183.7" cy="1073" r="5.55"/><circle cx="181.2" cy="1080.1" r="5.55"/><circle cx="181.2" cy="1085.8" r="5.55"/><circle cx="178.3" cy="1097.7" r="5.55"/></g>
<g fill="#008000"><circle cx="176.1" cy="1150.3" r="5.55"/><circle cx="171.5" cy="1155.4" r="5.55"/><circle cx="173.4" cy="1159.4" r="5.55"/><circle cx="308.4" cy="1162.9" r="5.55"/></g>
<g fill="#008000"><circle cx="461.7" cy="1142.5" r="5.55"/></g>
<rect x="177.4" y="1227.3" width="4.6" height="37" fill="#000"/>
<rect x="235" y="1227.3" width="4.6" height="37" fill="#000"/>
</g>
<path class="mn" d="M87.03 1263.8v-6.2M100.05 1263.8v-6.2M113.07 1263.8v-6.2M126.10 1263.8v-6.2M152.15 1263.8v-6.2M165.18 1263.8v-6.2M178.20 1263.8v-6.2M191.23 1263.8v-6.2M217.28 1263.8v-6.2M230.30 1263.8v-6.2M243.33 1263.8v-6.2M256.35 1263.8v-6.2M282.40 1263.8v-6.2M295.42 1263.8v-6.2M308.45 1263.8v-6.2M321.48 1263.8v-6.2M347.53 1263.8v-6.2M360.55 1263.8v-6.2M373.57 1263.8v-6.2M386.60 1263.8v-6.2M412.65 1263.8v-6.2M425.68 1263.8v-6.2M438.70 1263.8v-6.2M451.72 1263.8v-6.2M477.78 1263.8v-6.2M490.80 1263.8v-6.2M503.82 1263.8v-6.2M516.85 1263.8v-6.2M542.90 1263.8v-6.2M555.92 1263.8v-6.2M568.95 1263.8v-6.2M581.97 1263.8v-6.2M74 907.40h6.2M74 918.20h6.2M74 929.00h6.2M74 939.80h6.2M74 961.40h6.2M74 972.20h6.2M74 983.00h6.2M74 993.80h6.2M74 1015.40h6.2M74 1026.20h6.2M74 1037.00h6.2M74 1047.80h6.2M74 1069.40h6.2M74 1080.20h6.2M74 1091.00h6.2M74 1101.80h6.2M74 1123.40h6.2M74 1134.20h6.2M74 1145.00h6.2M74 1155.80h6.2M74 1177.40h6.2M74 1188.20h6.2M74 1199.00h6.2M74 1209.80h6.2M74 1231.40h6.2M74 1242.20h6.2M74 1253.00h6.2M74 1263.80h6.2M595 896.60h-6.2M595 907.40h-6.2M595 929.00h-6.2M595 939.80h-6.2M595 950.60h-6.2M595 961.40h-6.2M595 983.00h-6.2M595 993.80h-6.2M595 1004.60h-6.2M595 1015.40h-6.2M595 1037.00h-6.2M595 1047.80h-6.2M595 1058.60h-6.2M595 1069.40h-6.2M595 1091.00h-6.2M595 1101.80h-6.2M595 1112.60h-6.2M595 1123.40h-6.2M595 1145.00h-6.2M595 1155.80h-6.2M595 1166.60h-6.2M595 1177.40h-6.2M595 1199.00h-6.2M595 1209.80h-6.2M595 1220.60h-6.2M595 1231.40h-6.2M595 1253.00h-6.2M595 1263.80h-6.2"/>
<path class="mj" d="M74.00 1263.8v-12.3M139.12 1263.8v-12.3M204.25 1263.8v-12.3M269.38 1263.8v-12.3M334.50 1263.8v-12.3M399.62 1263.8v-12.3M464.75 1263.8v-12.3M529.88 1263.8v-12.3M595.00 1263.8v-12.3M74 896.60h12.3M74 950.60h12.3M74 1004.60h12.3M74 1058.60h12.3M74 1112.60h12.3M74 1166.60h12.3M74 1220.60h12.3M595 918.20h-12.3M595 972.20h-12.3M595 1026.20h-12.3M595 1080.20h-12.3M595 1134.20h-12.3M595 1188.20h-12.3M595 1242.20h-12.3"/>
<rect class="fr" x="74" y="896.6" width="521" height="367.2"/>
</g>
<g id="p21">
<clipPath id="c7"><rect x="766.6" y="896.6" width="521" height="367.2"/></clipPath>
<g clip-path="url(#c7)">
<g fill="#ff0000" fill-opacity="0.5"><path d="M777 1042.4h12.3l-6.2 12.3z"/><path d="M789 1040.6h12.3l-6.2 12.3z"/><path d="M792.5 1037.4h12.3l-6.2 12.3z"/><path d="M777 1062.5h12.3l-6.2 12.3z"/><path d="M789 1060h12.3l-6.2 12.3z"/><path d="M792.5 1059.4h12.3l-6.2 12.3z"/><path d="M798.8 1055h12.3l-6.2 12.3z"/></g>
<g fill="#a52a2a" fill-opacity="0.5"><path d="M850.5 1090.8h12.3l-6.2 12.3z"/></g>
<g fill="#ff0000" fill-opacity="0.5"><path d="M1141.2 1041.8h12.3l-6.2 12.3z"/><path d="M1147.3 1041.1h12.3l-6.2 12.3z"/><path d="M1186.7 1079.7h12.3l-6.2 12.3z"/></g>
<g fill="#0000ff" fill-opacity="0.5"><path d="M1153.6 1036.1h12.3l-6.2 12.3z"/><path d="M1232.5 1093.9h12.3l-6.2 12.3z"/></g>
<g fill="#ffa500" fill-opacity="0.5"><path d="M1117.6 1055.6h12.3l-6.2 12.3z"/><path d="M1239.4 1091.6h12.3l-6.2 12.3z"/></g>
<g fill="#a52a2a" fill-opacity="0.5"><path d="M1190.4 1087h12.3l-6.2 12.3z"/><path d="M1205.5 1089.1h12.3l-6.2 12.3z"/></g>
<g fill="#0000ff" fill-opacity="0.5"><path d="M1166.1 1111.6h12.3l-6.2 12.3z"/><path d="M1141.6 1129.8h12.3l-6.2 12.3z"/><path d="M1245.5 1101.6h12.3l-6.2 12.3z"/><path d="M1257.8 1101.6h12.3l-6.2 12.3z"/></g>
<g fill="#ffa500" fill-opacity="0.5"><path d="M1227.3 1104.1h12.3l-6.2 12.3z"/><path d="M1251.4 1102.8h12.3l-6.2 12.3z"/><path d="M1263.7 1115.4h12.3l-6.2 12.3z"/><path d="M1214.7 1129.8h12.3l-6.2 12.3z"/></g>
<g fill="#ff0000" fill-opacity="0.5"><path d="M1174.3 1132.4h12.3l-6.2 12.3z"/><path d="M1211.3 1175.1h12.3l-6.2 12.3z"/><path d="M1211.3 1190.8h12.3l-6.2 12.3z"/></g>
<g fill="#a52a2a" fill-opacity="0.5"><path d="M1165.4 1136.7h12.3l-6.2 12.3z"/><path d="M1174.3 1142.4h12.3l-6.2 12.3z"/></g>
<path class="e" stroke="#0000ff" stroke-opacity="0.4" d="M896.9 1038.8v62.8M976.4 1025.6v38.9M970.3 1056.1v71.6M964.1 1081v54M988.6 1042.1v52.8M1007 1068.3v75.4"/>
<path class="e" stroke="#0000ff" stroke-opacity="0.4" d="M1078.5 1013.6v54"/>
<path class="e" stroke="#ffa500" d="M939.6 1024v64.8M1012.8 922v57.3"/>
<path class="e" stroke="#ffa500" d="M1037.4 970.9v37.7M1098.3 988.5v100.5M1086.3 1043.4v54M1115.6 1023v37.7M1135.3 1045v44"/>
<path class="e" stroke="#ffa500" d="M1177.9 1087.3v66.6M1165.9 1121.3v95.5"/>
<path class="e" stroke="#ff0000" d="M884.3 985.5v33.9M893.7 995.8v32.7M886.2 1002.8v35.2M899.7 1013.7v32.7M880.5 1010.9v61.5M875.1 1029.4v47.7M890.3 1027.2v61.5M880.5 1041.3v60.3M875.1 1073.3v65.3M948.4 1003.4v47.7M951.5 1004.6v45.2M954.6 1012.2v31.4M972.9 1010.5v31.4M972.9 1016.6v30.1M950.9 1048.3v60.3M978.9 1030.1v57.8M991.3 1011.8v35.2M994.5 1023.1v62.8M997.3 997.7v37.7M1000.5 1001.5v37.7M1003.6 1000.2v50.2M1009.7 985.2v35.2M1009.9 994.6v35.2M1012.8 951.3v60.3M1015.8 980.8v75.4M1018.7 962.8v64.1M1021.8 951.9v52.8M1026.2 960v37.7M1015.8 1045.7v50.2M1025 1012.2v90.4M1027.5 1000.2v37.7"/>
<path class="e" stroke="#ff0000" d="M1034.5 986v56.5M1040.2 1004.2v42.7M1046.2 987.9v37.7M1079.8 1008.6v31.4M1098.3 1021.4v47.7M1107.4 982.9v89.2M1107.4 998.6v82.9M1119.7 963.4v62.8M1119.7 997.3v90.4M1116.8 1020.5v89.7M1092.1 1058.8v54"/>
<path class="e" stroke="#ff0000" d="M1127.9 1078.2v55.3M1135.1 1077.6v52.8M1141.7 1089.5v40.2M1126 1087.9v64.1M1138.3 1121.9v54M1128.9 1139.4v82.9M1135.2 1135.7v91.7M1174.4 1120.9v71.6M1159.3 1157.3v56.5M1169.1 1146.7v82.9"/>
<path class="e" stroke="#a52a2a" d="M893.7 1001.9v49M884 1017.8v47.7M954.4 1051.1v52.8M963.8 1041.9v51.5M1006.8 1019.3v57.8M1015.8 1046.3v92.9"/>
<path class="e" stroke="#a52a2a" d="M1034.2 973.1v47.7M1082.9 1023v33.9M1116.8 985.1v69.1M1125.9 1057.3v50.2"/>
<path class="e" stroke="#a52a2a" d="M1135.1 1092v45.2M1144 1102.5v67.8"/>
<path class="e" stroke="#808080" stroke-width="2.0" d="M1115.3 945.4v16.3"/>
<g fill="#0000ff" fill-opacity="0.4"><circle cx="896.9" cy="1070.2" r="5.55"/><circle cx="976.4" cy="1045.1" r="5.55"/><circle cx="970.3" cy="1091.9" r="5.55"/><circle cx="964.1" cy="1108" r="5.55"/><circle cx="988.6" cy="1068.4" r="5.55"/><circle cx="1007" cy="1106" r="5.55"/></g>
<g fill="#0000ff" fill-opacity="0.4"><circle cx="1078.5" cy="1040.6" r="5.55"/></g>
<g fill="#ffa500"><circle cx="939.6" cy="1056.4" r="5.55"/><circle cx="1012.8" cy="950.6" r="5.55"/></g>
<g fill="#ffa500"><circle cx="1037.4" cy="989.8" r="5.55"/><circle cx="1098.3" cy="1038.7" r="5.55"/><circle cx="1086.3" cy="1070.4" r="5.55"/><circle cx="1115.6" cy="1041.9" r="5.55"/><circle cx="1135.3" cy="1067" r="5.55"/></g>
<g fill="#ffa500"><circle cx="1177.9" cy="1120.5" r="5.55"/><circle cx="1165.9" cy="1169" r="5.55"/></g>
<g fill="#ff0000"><circle cx="884.3" cy="1002.5" r="5.55"/><circle cx="893.7" cy="1012.2" r="5.55"/><circle cx="886.2" cy="1020.3" r="5.55"/><circle cx="899.7" cy="1030" r="5.55"/><circle cx="880.5" cy="1041.7" r="5.55"/><circle cx="875.1" cy="1053.2" r="5.55"/><circle cx="890.3" cy="1058" r="5.55"/><circle cx="880.5" cy="1071.5" r="5.55"/><circle cx="875.1" cy="1106" r="5.55"/><circle cx="948.4" cy="1027.2" r="5.55"/><circle cx="951.5" cy="1027.2" r="5.55"/><circle cx="954.6" cy="1027.9" r="5.55"/><circle cx="972.9" cy="1026.2" r="5.55"/><circle cx="972.9" cy="1031.6" r="5.55"/><circle cx="950.9" cy="1078.5" r="5.55"/><circle cx="978.9" cy="1059" r="5.55"/><circle cx="991.3" cy="1029.4" r="5.55"/><circle cx="994.5" cy="1054.5" r="5.55"/><circle cx="997.3" cy="1016.6" r="5.55"/><circle cx="1000.5" cy="1020.3" r="5.55"/><circle cx="1003.6" cy="1025.4" r="5.55"/><circle cx="1009.7" cy="1002.8" r="5.55"/><circle cx="1009.9" cy="1012.2" r="5.55"/><circle cx="1012.8" cy="981.4" r="5.55"/><circle cx="1015.8" cy="1018.5" r="5.55"/><circle cx="1018.7" cy="994.8" r="5.55"/><circle cx="1021.8" cy="978.3" r="5.55"/><circle cx="1026.2" cy="978.9" r="5.55"/><circle cx="1015.8" cy="1070.8" r="5.55"/><circle cx="1025" cy="1057.4" r="5.55"/><circle cx="1027.5" cy="1019.1" r="5.55"/></g>
<g fill="#ff0000"><circle cx="1034.5" cy="1014.3" r="5.55"/><circle cx="1040.2" cy="1025.6" r="5.55"/><circle cx="1046.2" cy="1006.7" r="5.55"/><circle cx="1079.8" cy="1024.3" r="5.55"/><circle cx="1098.3" cy="1045.3" r="5.55"/><circle cx="1107.4" cy="1027.4" r="5.55"/><circle cx="1107.4" cy="1040" r="5.55"/><circle cx="1119.7" cy="994.8" r="5.55"/><circle cx="1119.7" cy="1042.5" r="5.55"/><circle cx="1116.8" cy="1065.4" r="5.55"/><circle cx="1092.1" cy="1085.8" r="5.55"/></g>
<g fill="#ff0000"><circle cx="1127.9" cy="1105.8" r="5.55"/><circle cx="1135.1" cy="1104" r="5.55"/><circle cx="1141.7" cy="1109.6" r="5.55"/><circle cx="1126" cy="1119.9" r="5.55"/><circle cx="1138.3" cy="1148.9" r="5.55"/><circle cx="1128.9" cy="1180.8" r="5.55"/><circle cx="1135.2" cy="1181.6" r="5.55"/><circle cx="1174.4" cy="1156.7" r="5.55"/><circle cx="1159.3" cy="1185.6" r="5.55"/><circle cx="1169.1" cy="1188.1" r="5.55"/></g>
<g fill="#a52a2a"><circle cx="893.7" cy="1026.4" r="5.55"/><circle cx="884" cy="1041.7" r="5.55"/><circle cx="954.4" cy="1077.5" r="5.55"/><circle cx="963.8" cy="1067.7" r="5.55"/><circle cx="1006.8" cy="1048.2" r="5.55"/><circle cx="1015.8" cy="1092.8" r="5.55"/></g>
<g fill="#a52a2a"><circle cx="1034.2" cy="996.9" r="5.55"/><circle cx="1082.9" cy="1040" r="5.55"/><circle cx="1116.8" cy="1019.7" r="5.55"/><circle cx="1125.9" cy="1082.5" r="5.55"/></g>
<g fill="#a52a2a"><circle cx="1135.1" cy="1114.6" r="5.55"/><circle cx="1144" cy="1136.4" r="5.55"/></g>
<path fill="none" stroke="#808080" stroke-width="2.35" d="M1108 946.3l14.6 14.6m0 -14.6l-14.6 14.6"/>
<rect x="989" y="1227.3" width="4.6" height="37" fill="#000"/>
<rect x="1160.4" y="1227.3" width="4.6" height="37" fill="#000"/>
</g>
<path class="mn" d="M781.92 1263.8v-6.2M797.25 1263.8v-6.2M812.57 1263.8v-6.2M843.22 1263.8v-6.2M858.54 1263.8v-6.2M873.86 1263.8v-6.2M904.51 1263.8v-6.2M919.84 1263.8v-6.2M935.16 1263.8v-6.2M965.81 1263.8v-6.2M981.13 1263.8v-6.2M996.45 1263.8v-6.2M1027.10 1263.8v-6.2M1042.42 1263.8v-6.2M1057.75 1263.8v-6.2M1088.39 1263.8v-6.2M1103.72 1263.8v-6.2M1119.04 1263.8v-6.2M1149.69 1263.8v-6.2M1165.01 1263.8v-6.2M1180.34 1263.8v-6.2M1210.98 1263.8v-6.2M1226.31 1263.8v-6.2M1241.63 1263.8v-6.2M1272.28 1263.8v-6.2M1287.60 1263.8v-6.2M766.6 896.60h6.2M766.6 912.57h6.2M766.6 928.53h6.2M766.6 960.46h6.2M766.6 976.43h6.2M766.6 992.39h6.2M766.6 1008.36h6.2M766.6 1040.29h6.2M766.6 1056.25h6.2M766.6 1072.22h6.2M766.6 1088.18h6.2M766.6 1120.11h6.2M766.6 1136.08h6.2M766.6 1152.04h6.2M766.6 1168.01h6.2M766.6 1199.94h6.2M766.6 1215.90h6.2M766.6 1231.87h6.2M766.6 1247.83h6.2M1287.6 907.78h-6.2M1287.6 939.71h-6.2M1287.6 955.67h-6.2M1287.6 971.64h-6.2M1287.6 987.60h-6.2M1287.6 1019.53h-6.2M1287.6 1035.50h-6.2M1287.6 1051.46h-6.2M1287.6 1067.43h-6.2M1287.6 1099.36h-6.2M1287.6 1115.32h-6.2M1287.6 1131.29h-6.2M1287.6 1147.25h-6.2M1287.6 1179.18h-6.2M1287.6 1195.15h-6.2M1287.6 1211.11h-6.2M1287.6 1227.08h-6.2M1287.6 1259.01h-6.2"/>
<path class="mj" d="M766.60 1263.8v-12.3M827.89 1263.8v-12.3M889.19 1263.8v-12.3M950.48 1263.8v-12.3M1011.78 1263.8v-12.3M1073.07 1263.8v-12.3M1134.36 1263.8v-12.3M1195.66 1263.8v-12.3M1256.95 1263.8v-12.3M766.6 944.50h12.3M766.6 1024.32h12.3M766.6 1104.15h12.3M766.6 1183.97h12.3M766.6 1263.80h12.3M1287.6 923.74h-12.3M1287.6 1003.57h-12.3M1287.6 1083.39h-12.3M1287.6 1163.22h-12.3M1287.6 1243.05h-12.3"/>
<rect class="fr" x="766.6" y="896.6" width="521" height="367.2"/>
</g>
<g id="p22">
<clipPath id="c8"><rect x="1459.1" y="896.6" width="521" height="367.2"/></clipPath>
<g clip-path="url(#c8)">
<g fill="#0000ff" fill-opacity="0.5"><path d="M1494.8 1060.1h12.3l-6.2 12.3z"/><path d="M1674.6 1055.1h12.3l-6.2 12.3z"/><path d="M1716.5 1047.3h12.3l-6.2 12.3z"/></g>
<g fill="#008000" fill-opacity="0.5"><path d="M1528.7 1066.1h12.3l-6.2 12.3z"/><path d="M1522 1075.2h12.3l-6.2 12.3z"/></g>
<g fill="#008000" fill-opacity="0.5"><path d="M1781.8 1119.8h12.3l-6.2 12.3z"/><path d="M1805.8 1109.8h12.3l-6.2 12.3z"/></g>
<g fill="#ff0000" fill-opacity="0.5"><path d="M1521.7 1087.7h12.3l-6.2 12.3z"/><path d="M1521.7 1100h12.3l-6.2 12.3z"/><path d="M1521.7 1105.9h12.3l-6.2 12.3z"/><path d="M1521.7 1109.1h12.3l-6.2 12.3z"/><path d="M1521.7 1117.2h12.3l-6.2 12.3z"/></g>
<path class="e" stroke="#0000ff" stroke-opacity="0.4" d="M1597.7 1058.1v52.8M1708.6 1083.8v75.4"/>
<path class="e" stroke="#0000ff" stroke-opacity="0.4" d="M1695 1089.6v89.2"/>
<path class="e" stroke="#ffa500" d="M1625.4 963v33.9M1667.2 956.3v40.2M1674.1 989v37.7M1729.3 969.3v60.3M1590.5 1025.5v43.2M1605 1020v52.8M1632.6 1035.2v61.5M1687.9 1002.2v47.7M1701.7 1036.1v71.1M1715.9 1010.8v39.7M1507.6 1077v89.7"/>
<path class="e" stroke="#ffa500" d="M1743.6 929.7v40.2M1764 961.5v42.7M1784.9 1012.4v38.9M1798.9 1044v55.3M1882 962.8v40.2"/>
<path class="e" stroke="#ff0000" d="M1607.9 990.9v21.4M1645.8 987v61M1656.5 1001.5v54M1687.6 1011.8v22.6M1722.4 1015.6v28.9"/>
<path class="e" stroke="#ff0000" d="M1580.1 1113.5v51.5"/>
<path class="e" stroke="#ff0000" d="M1753.5 978v57M1777.8 985v32.2M1788.2 994.2v28.9M1802 967.8v34.4M1812.7 1027.9v49.7M1899.2 942.3v44.7M1892.3 965v40.2M1906.1 970.3v42.7M1913.2 964.6v56.5M1892.3 975.9v50.2M1899.2 972.2v52.8M1906.1 980.3v50.2M1913.2 975.3v66.6M1906.1 979.7v70.3M1871.4 991.6v37.7M1878.3 985.4v50.2M1871.4 992.9v50.2M1885.4 994.8v50.2M1885.4 1008.6v50.2M1892.3 1007.6v57.8M1871.4 1019.5v56.5M1878.3 1013v71.6M1885.4 1021.2v62.8M1885.4 1025.6v62.8"/>
<path class="e" stroke="#008000" d="M1614.6 1008.2v21.4M1628.6 1008.8v26.4M1607.5 1027.5v25.1M1618.2 1034.8v27.6M1614.6 1038.3v30.1M1625.1 1036.1v30.1M1580.1 1047.6v32.2M1656.2 1026.3v70.3M1625.1 1080.3v60.3M1691 1058.6v33.4M1666.8 1091.4v42.7M1708.3 1098.3v41.4"/>
<path class="e" stroke="#008000" d="M1687.5 1120v46M1722.2 1146.8v67.8"/>
<g fill="#0000ff" fill-opacity="0.4"><circle cx="1597.7" cy="1084.4" r="5.55"/><circle cx="1708.6" cy="1121.5" r="5.55"/></g>
<g fill="#0000ff" fill-opacity="0.4"><circle cx="1695" cy="1134.2" r="5.55"/></g>
<g fill="#ffa500"><circle cx="1625.4" cy="979.9" r="5.55"/><circle cx="1667.2" cy="976.4" r="5.55"/><circle cx="1674.1" cy="1007.8" r="5.55"/><circle cx="1729.3" cy="999.4" r="5.55"/><circle cx="1590.5" cy="1047.1" r="5.55"/><circle cx="1605" cy="1046.4" r="5.55"/><circle cx="1632.6" cy="1066" r="5.55"/><circle cx="1687.9" cy="1026" r="5.55"/><circle cx="1701.7" cy="1071.6" r="5.55"/><circle cx="1715.9" cy="1030.7" r="5.55"/><circle cx="1507.6" cy="1121.9" r="5.55"/></g>
<g fill="#ffa500"><circle cx="1743.6" cy="949.8" r="5.55"/><circle cx="1764" cy="982.9" r="5.55"/><circle cx="1784.9" cy="1031.8" r="5.55"/><circle cx="1798.9" cy="1071.7" r="5.55"/><circle cx="1882" cy="982.9" r="5.55"/></g>
<g fill="#ff0000"><circle cx="1607.9" cy="1001.5" r="5.55"/><circle cx="1645.8" cy="1017.5" r="5.55"/><circle cx="1656.5" cy="1028.6" r="5.55"/><circle cx="1687.6" cy="1023.2" r="5.55"/><circle cx="1722.4" cy="1030.1" r="5.55"/></g>
<g fill="#ff0000"><circle cx="1580.1" cy="1139.2" r="5.55"/></g>
<g fill="#ff0000"><circle cx="1753.5" cy="1006.5" r="5.55"/><circle cx="1777.8" cy="1001.1" r="5.55"/><circle cx="1788.2" cy="1008.6" r="5.55"/><circle cx="1802" cy="985" r="5.55"/><circle cx="1812.7" cy="1052.8" r="5.55"/><circle cx="1899.2" cy="964.6" r="5.55"/><circle cx="1892.3" cy="985.1" r="5.55"/><circle cx="1906.1" cy="991.6" r="5.55"/><circle cx="1913.2" cy="992.9" r="5.55"/><circle cx="1892.3" cy="1001.1" r="5.55"/><circle cx="1899.2" cy="998.6" r="5.55"/><circle cx="1906.1" cy="1005.5" r="5.55"/><circle cx="1913.2" cy="1008.6" r="5.55"/><circle cx="1906.1" cy="1014.9" r="5.55"/><circle cx="1871.4" cy="1010.5" r="5.55"/><circle cx="1878.3" cy="1010.5" r="5.55"/><circle cx="1871.4" cy="1018" r="5.55"/><circle cx="1885.4" cy="1019.9" r="5.55"/><circle cx="1885.4" cy="1033.7" r="5.55"/><circle cx="1892.3" cy="1036.5" r="5.55"/><circle cx="1871.4" cy="1047.8" r="5.55"/><circle cx="1878.3" cy="1048.8" r="5.55"/><circle cx="1885.4" cy="1052.6" r="5.55"/><circle cx="1885.4" cy="1057" r="5.55"/></g>
<g fill="#008000"><circle cx="1614.6" cy="1018.9" r="5.55"/><circle cx="1628.6" cy="1022" r="5.55"/><circle cx="1614.6" cy="1027.3" r="5.55"/><circle cx="1615" cy="1035.5" r="5.55"/><circle cx="1607.5" cy="1040.1" r="5.55"/><circle cx="1618.2" cy="1048.6" r="5.55"/><circle cx="1614.6" cy="1053.4" r="5.55"/><circle cx="1625.1" cy="1051.2" r="5.55"/><circle cx="1625.1" cy="1054.9" r="5.55"/><circle cx="1580.1" cy="1063.7" r="5.55"/><circle cx="1656.2" cy="1061.5" r="5.55"/><circle cx="1628.6" cy="1071.9" r="5.55"/><circle cx="1625.1" cy="1079.4" r="5.55"/><circle cx="1625.1" cy="1090.5" r="5.55"/><circle cx="1625.1" cy="1110.4" r="5.55"/><circle cx="1691" cy="1075.3" r="5.55"/><circle cx="1666.8" cy="1112.7" r="5.55"/><circle cx="1708.3" cy="1119" r="5.55"/></g>
<g fill="#008000"><circle cx="1687.5" cy="1143" r="5.55"/><circle cx="1722.2" cy="1180.7" r="5.55"/></g>
</g>
<path class="mn" d="M1459.10 1263.8v-6.2M1476.47 1263.8v-6.2M1511.20 1263.8v-6.2M1528.57 1263.8v-6.2M1545.93 1263.8v-6.2M1580.67 1263.8v-6.2M1598.03 1263.8v-6.2M1615.40 1263.8v-6.2M1650.13 1263.8v-6.2M1667.50 1263.8v-6.2M1684.87 1263.8v-6.2M1719.60 1263.8v-6.2M1736.97 1263.8v-6.2M1754.33 1263.8v-6.2M1789.07 1263.8v-6.2M1806.43 1263.8v-6.2M1823.80 1263.8v-6.2M1858.53 1263.8v-6.2M1875.90 1263.8v-6.2M1893.27 1263.8v-6.2M1928.00 1263.8v-6.2M1945.37 1263.8v-6.2M1962.73 1263.8v-6.2M1459.1 909.26h6.2M1459.1 921.92h6.2M1459.1 934.59h6.2M1459.1 947.25h6.2M1459.1 972.57h6.2M1459.1 985.23h6.2M1459.1 997.90h6.2M1459.1 1010.56h6.2M1459.1 1035.88h6.2M1459.1 1048.54h6.2M1459.1 1061.21h6.2M1459.1 1073.87h6.2M1459.1 1099.19h6.2M1459.1 1111.86h6.2M1459.1 1124.52h6.2M1459.1 1137.18h6.2M1459.1 1162.50h6.2M1459.1 1175.17h6.2M1459.1 1187.83h6.2M1459.1 1200.49h6.2M1459.1 1225.81h6.2M1459.1 1238.48h6.2M1459.1 1251.14h6.2M1459.1 1263.80h6.2M1980.1 909.26h-6.2M1980.1 921.92h-6.2M1980.1 934.59h-6.2M1980.1 947.25h-6.2M1980.1 972.57h-6.2M1980.1 985.23h-6.2M1980.1 997.90h-6.2M1980.1 1010.56h-6.2M1980.1 1035.88h-6.2M1980.1 1048.54h-6.2M1980.1 1061.21h-6.2M1980.1 1073.87h-6.2M1980.1 1099.19h-6.2M1980.1 1111.86h-6.2M1980.1 1124.52h-6.2M1980.1 1137.18h-6.2M1980.1 1162.50h-6.2M1980.1 1175.17h-6.2M1980.1 1187.83h-6.2M1980.1 1200.49h-6.2M1980.1 1225.81h-6.2M1980.1 1238.48h-6.2M1980.1 1251.14h-6.2M1980.1 1263.80h-6.2"/>
<path class="mj" d="M1493.83 1263.8v-12.3M1563.30 1263.8v-12.3M1632.77 1263.8v-12.3M1702.23 1263.8v-12.3M1771.70 1263.8v-12.3M1841.17 1263.8v-12.3M1910.63 1263.8v-12.3M1980.10 1263.8v-12.3M1459.1 896.60h12.3M1459.1 959.91h12.3M1459.1 1023.22h12.3M1459.1 1086.53h12.3M1459.1 1149.84h12.3M1459.1 1213.15h12.3M1980.1 896.60h-12.3M1980.1 959.91h-12.3M1980.1 1023.22h-12.3M1980.1 1086.53h-12.3M1980.1 1149.84h-12.3M1980.1 1213.15h-12.3"/>
<rect class="fr" x="1459.1" y="896.6" width="521" height="367.2"/>
</g>
<g id="p30">
<clipPath id="c9"><rect x="74" y="1337" width="521" height="367.2"/></clipPath>
<g clip-path="url(#c9)">
<g fill="#008000" fill-opacity="0.5"><path d="M299.5 1411h12.3l-6.2 12.3z"/><path d="M368.8 1484.5h12.3l-6.2 12.3z"/><path d="M405.6 1445h12.3l-6.2 12.3z"/><path d="M408.7 1446.8h12.3l-6.2 12.3z"/></g>
<g fill="#0000ff" fill-opacity="0.5"><path d="M390.1 1474.5h12.3l-6.2 12.3z"/></g>
<g fill="#008000" fill-opacity="0.5"><path d="M420.7 1410.4h12.3l-6.2 12.3z"/><path d="M518.1 1404.5h12.3l-6.2 12.3z"/><path d="M472.9 1446.7h12.3l-6.2 12.3z"/><path d="M503.2 1447.8h12.3l-6.2 12.3z"/><path d="M531.9 1447.3h12.3l-6.2 12.3z"/><path d="M487.2 1497.6h12.3l-6.2 12.3z"/><path d="M404.7 1444.6h12.3l-6.2 12.3z"/><path d="M419.8 1457.5h12.3l-6.2 12.3z"/></g>
<g fill="#ffa500" fill-opacity="0.5"><path d="M535.7 1442.6h12.3l-6.2 12.3z"/><path d="M549.8 1465.7h12.3l-6.2 12.3z"/><path d="M577.1 1514.4h12.3l-6.2 12.3z"/></g>
<g fill="#ff0000" fill-opacity="0.5"><path d="M510.8 1441.8h12.3l-6.2 12.3z"/><path d="M532.1 1488.7h12.3l-6.2 12.3z"/><path d="M549.5 1505.7h12.3l-6.2 12.3z"/><path d="M566 1533.3h12.3l-6.2 12.3z"/></g>
<g fill="#0000ff" fill-opacity="0.5"><path d="M570.4 1434.3h12.3l-6.2 12.3z"/><path d="M556.5 1483.2h12.3l-6.2 12.3z"/><path d="M583.9 1496.5h12.3l-6.2 12.3z"/></g>
<g fill="#008000" fill-opacity="0.5"><path d="M550.9 1552.8h12.3l-6.2 12.3z"/><path d="M566.2 1541.7h12.3l-6.2 12.3z"/><path d="M573.1 1583.4h12.3l-6.2 12.3z"/><path d="M556 1606.7h12.3l-6.2 12.3z"/><path d="M580.1 1624.6h12.3l-6.2 12.3z"/><path d="M586.6 1601.8h12.3l-6.2 12.3z"/></g>
<g fill="#ff0000" fill-opacity="0.5"><path d="M573.6 1541.2h12.3l-6.2 12.3z"/><path d="M556.3 1572.3h12.3l-6.2 12.3z"/><path d="M580.1 1580.9h12.3l-6.2 12.3z"/><path d="M587.1 1612.1h12.3l-6.2 12.3z"/></g>
<g fill="#ffa500" fill-opacity="0.5"><path d="M587.7 1522.3h12.3l-6.2 12.3z"/></g>
<path class="e" stroke="#0000ff" stroke-opacity="0.4" d="M368.4 1425.1v69.1M382.2 1439.2v69.6"/>
<path class="e" stroke="#ffa500" d="M333.9 1373v45.7M305.9 1414.9v37.7M340.8 1397.2v68.3M347.9 1423.2v43.2M292 1445.8v72.9M327 1425.2v82.4M361.5 1447.1v64.1M375.6 1392.1v64.1M389.1 1395.8v41.4M402.9 1422.9v47.7"/>
<path class="e" stroke="#ffa500" d="M437.9 1386.3v53.1M444.9 1401.4v52M451.8 1427.6v41.1M458.5 1456.3v55.2M486.1 1454.7v63.9M507.4 1469.7v65M513.9 1424.2v94.2M499.6 1431.2v67.1"/>
<path class="e" stroke="#ffa500" d="M548.9 1503.7v107.2"/>
<path class="e" stroke="#ff0000" d="M198 1364.2v36.4M198 1394v37.7M212 1358.2v60.3M212 1361.9v62.8M205.1 1396.5v55.3M205.1 1424.1v69.1M218.9 1398.4v64.1M225.8 1384.3v51.5M225.8 1408.7v61.5M232.8 1391.4v41.4M232.8 1401.5v42.7M218.9 1455.5v91.7M256.9 1393.5v29.4M267.3 1400.2v41.4M277.7 1431.6v44M288.3 1410.2v33.4M305.6 1407.2v37.7M302.1 1447.6v40.9M319.4 1375.1v38.9M329.7 1426.9v40.2M368 1396.1v22.6M368 1414.1v30.1M378.5 1397.7v30.1M382 1401.1v22.6M389.1 1422.2v27.6M375.1 1429.1v36.4M395.8 1401.1v32.7M399.2 1419.7v40.2M402.9 1431.6v32.7M406.3 1414.7v23.1M413.2 1426v57.8M419.9 1422.9v72.9M423.4 1431v64.8"/>
<path class="e" stroke="#ff0000" d="M461.7 1406.6v33.6M468.2 1409v39M472 1417.7v39M478.8 1416.1v23.8M482.5 1430.1v28.2M486.1 1432.8v34.7M492.9 1424.4v23.8M492.9 1431.2v30.3M499.6 1409.3v30.3M496.4 1455.3v30.3M503.4 1448.8v27.1M513.5 1429v59.6M520.2 1415.5v78M527.4 1416.8v63.9M489.1 1470.2v45.5M524.3 1462.8v83.4"/>
<path class="e" stroke="#008000" d="M288.3 1485.7v55.3M329.5 1450.7v87.9M388.9 1458.3v76.6M402.6 1496v72.9"/>
<path class="e" stroke="#008000" d="M257 1525.1v65.8M278 1524.1v54.8M382 1521.1v49M378.5 1520.3v67.8M396 1512.3v75.4M399.2 1513.5v52.8M392.5 1533.6v66.6M371.5 1538.5v67.8M368 1554.8v76.6M385.4 1559.4v75.4M388.9 1573.4v74.1"/>
<path class="e" stroke="#008000" d="M458.5 1515.1v75.8M461.7 1523.8v66.1M461.7 1541.7v83.4M472.3 1536.9v60.6M493.1 1553.6v58.9M503.1 1496.8v83.4M482.5 1595v87.7M499.9 1601.5v84.5"/>
<g fill="#0000ff" fill-opacity="0.4"><circle cx="368.4" cy="1459.7" r="5.55"/><circle cx="382.2" cy="1474" r="5.55"/></g>
<g fill="#ffa500"><circle cx="333.9" cy="1395.8" r="5.55"/><circle cx="305.9" cy="1433.8" r="5.55"/><circle cx="340.8" cy="1431.4" r="5.55"/><circle cx="347.9" cy="1444.8" r="5.55"/><circle cx="292" cy="1482.3" r="5.55"/><circle cx="327" cy="1466.4" r="5.55"/><circle cx="361.5" cy="1479.1" r="5.55"/><circle cx="375.6" cy="1424.1" r="5.55"/><circle cx="389.1" cy="1416.6" r="5.55"/><circle cx="402.9" cy="1446.7" r="5.55"/></g>
<g fill="#ffa500"><circle cx="437.9" cy="1412.8" r="5.55"/><circle cx="444.9" cy="1427.4" r="5.55"/><circle cx="451.8" cy="1448.2" r="5.55"/><circle cx="458.5" cy="1483.9" r="5.55"/><circle cx="486.1" cy="1486.7" r="5.55"/><circle cx="507.4" cy="1502.1" r="5.55"/><circle cx="513.9" cy="1471.3" r="5.55"/><circle cx="499.6" cy="1464.8" r="5.55"/></g>
<g fill="#ffa500"><circle cx="548.9" cy="1557.3" r="5.55"/></g>
<g fill="#ff0000"><circle cx="198" cy="1382.4" r="5.55"/><circle cx="198" cy="1396.5" r="5.55"/><circle cx="198" cy="1406.1" r="5.55"/><circle cx="198" cy="1412.8" r="5.55"/><circle cx="212" cy="1388.3" r="5.55"/><circle cx="212" cy="1393.3" r="5.55"/><circle cx="205.1" cy="1424.1" r="5.55"/><circle cx="205.1" cy="1436" r="5.55"/><circle cx="205.1" cy="1439.4" r="5.55"/><circle cx="205.1" cy="1458.6" r="5.55"/><circle cx="218.9" cy="1430.4" r="5.55"/><circle cx="218.9" cy="1438.6" r="5.55"/><circle cx="225.8" cy="1410" r="5.55"/><circle cx="225.8" cy="1415.3" r="5.55"/><circle cx="225.8" cy="1424.1" r="5.55"/><circle cx="225.8" cy="1439.4" r="5.55"/><circle cx="232.8" cy="1412.2" r="5.55"/><circle cx="232.8" cy="1422.9" r="5.55"/><circle cx="218.9" cy="1501.4" r="5.55"/><circle cx="256.9" cy="1408.2" r="5.55"/><circle cx="267.3" cy="1421" r="5.55"/><circle cx="277.7" cy="1453.6" r="5.55"/><circle cx="288.3" cy="1426.9" r="5.55"/><circle cx="305.6" cy="1426" r="5.55"/><circle cx="302.1" cy="1468.1" r="5.55"/><circle cx="319.4" cy="1394.6" r="5.55"/><circle cx="329.7" cy="1447" r="5.55"/><circle cx="368" cy="1407.4" r="5.55"/><circle cx="368" cy="1429.1" r="5.55"/><circle cx="371.5" cy="1418.8" r="5.55"/><circle cx="378.5" cy="1412.8" r="5.55"/><circle cx="382" cy="1412.4" r="5.55"/><circle cx="382.2" cy="1424.1" r="5.55"/><circle cx="385.4" cy="1427.9" r="5.55"/><circle cx="389.1" cy="1426" r="5.55"/><circle cx="389.1" cy="1436" r="5.55"/><circle cx="375.1" cy="1438.8" r="5.55"/><circle cx="375.1" cy="1447.3" r="5.55"/><circle cx="395.8" cy="1417.4" r="5.55"/><circle cx="399.2" cy="1439.8" r="5.55"/><circle cx="402.9" cy="1448" r="5.55"/><circle cx="406.3" cy="1426.2" r="5.55"/><circle cx="413.2" cy="1454.9" r="5.55"/><circle cx="419.9" cy="1459.3" r="5.55"/><circle cx="423.4" cy="1463.4" r="5.55"/></g>
<g fill="#ff0000"><circle cx="461.7" cy="1423.4" r="5.55"/><circle cx="468.2" cy="1428.5" r="5.55"/><circle cx="472" cy="1437.2" r="5.55"/><circle cx="478.8" cy="1428" r="5.55"/><circle cx="482.5" cy="1444.2" r="5.55"/><circle cx="486.1" cy="1450.2" r="5.55"/><circle cx="492.9" cy="1436.3" r="5.55"/><circle cx="492.9" cy="1446.4" r="5.55"/><circle cx="499.6" cy="1424.5" r="5.55"/><circle cx="496.4" cy="1470.4" r="5.55"/><circle cx="503.4" cy="1462.3" r="5.55"/><circle cx="513.5" cy="1458.8" r="5.55"/><circle cx="520.2" cy="1454.5" r="5.55"/><circle cx="527.4" cy="1448.8" r="5.55"/><circle cx="489.1" cy="1492.9" r="5.55"/><circle cx="524.3" cy="1504.5" r="5.55"/></g>
<g fill="#008000"><circle cx="288.3" cy="1513.3" r="5.55"/><circle cx="329.5" cy="1494.7" r="5.55"/><circle cx="388.9" cy="1496.6" r="5.55"/><circle cx="402.6" cy="1532.4" r="5.55"/></g>
<g fill="#008000"><circle cx="257" cy="1558" r="5.55"/><circle cx="278" cy="1551.4" r="5.55"/><circle cx="382" cy="1545.5" r="5.55"/><circle cx="378.5" cy="1554.2" r="5.55"/><circle cx="396" cy="1549.9" r="5.55"/><circle cx="399.2" cy="1539.9" r="5.55"/><circle cx="392.5" cy="1566.9" r="5.55"/><circle cx="371.5" cy="1572.4" r="5.55"/><circle cx="368" cy="1593.2" r="5.55"/><circle cx="385.4" cy="1597" r="5.55"/><circle cx="388.9" cy="1610.5" r="5.55"/></g>
<g fill="#008000"><circle cx="458.5" cy="1553" r="5.55"/><circle cx="461.7" cy="1556.8" r="5.55"/><circle cx="461.7" cy="1583.4" r="5.55"/><circle cx="472.3" cy="1567.2" r="5.55"/><circle cx="493.1" cy="1583.1" r="5.55"/><circle cx="503.1" cy="1538.5" r="5.55"/><circle cx="482.5" cy="1638.9" r="5.55"/><circle cx="499.9" cy="1643.7" r="5.55"/></g>
</g>
<path class="mn" d="M74.00 1704.2v-6.2M91.37 1704.2v-6.2M126.10 1704.2v-6.2M143.47 1704.2v-6.2M160.83 1704.2v-6.2M195.57 1704.2v-6.2M212.93 1704.2v-6.2M230.30 1704.2v-6.2M265.03 1704.2v-6.2M282.40 1704.2v-6.2M299.77 1704.2v-6.2M334.50 1704.2v-6.2M351.87 1704.2v-6.2M369.23 1704.2v-6.2M403.97 1704.2v-6.2M421.33 1704.2v-6.2M438.70 1704.2v-6.2M473.43 1704.2v-6.2M490.80 1704.2v-6.2M508.17 1704.2v-6.2M542.90 1704.2v-6.2M560.27 1704.2v-6.2M577.63 1704.2v-6.2M74 1352.30h6.2M74 1367.60h6.2M74 1382.90h6.2M74 1398.20h6.2M74 1428.80h6.2M74 1444.10h6.2M74 1459.40h6.2M74 1474.70h6.2M74 1505.30h6.2M74 1520.60h6.2M74 1535.90h6.2M74 1551.20h6.2M74 1581.80h6.2M74 1597.10h6.2M74 1612.40h6.2M74 1627.70h6.2M74 1658.30h6.2M74 1673.60h6.2M74 1688.90h6.2M74 1704.20h6.2M595 1349.24h-6.2M595 1364.54h-6.2M595 1395.14h-6.2M595 1410.44h-6.2M595 1425.74h-6.2M595 1441.04h-6.2M595 1471.64h-6.2M595 1486.94h-6.2M595 1502.24h-6.2M595 1517.54h-6.2M595 1548.14h-6.2M595 1563.44h-6.2M595 1578.74h-6.2M595 1594.04h-6.2M595 1624.64h-6.2M595 1639.94h-6.2M595 1655.24h-6.2M595 1670.54h-6.2M595 1701.14h-6.2"/>
<path class="mj" d="M108.73 1704.2v-12.3M178.20 1704.2v-12.3M247.67 1704.2v-12.3M317.13 1704.2v-12.3M386.60 1704.2v-12.3M456.07 1704.2v-12.3M525.53 1704.2v-12.3M595.00 1704.2v-12.3M74 1337.00h12.3M74 1413.50h12.3M74 1490.00h12.3M74 1566.50h12.3M74 1643.00h12.3M595 1379.84h-12.3M595 1456.34h-12.3M595 1532.84h-12.3M595 1609.34h-12.3M595 1685.84h-12.3"/>
<rect class="fr" x="74" y="1337" width="521" height="367.2"/>
</g>
<g id="p31">
<clipPath id="c10"><rect x="766.6" y="1337" width="521" height="367.2"/></clipPath>
<g clip-path="url(#c10)">
<g fill="#ff0000" fill-opacity="0.5"><path d="M792.2 1583.9h12.3l-6.2 12.3z"/><path d="M809.6 1581.9h12.3l-6.2 12.3z"/><path d="M784.8 1593.4h12.3l-6.2 12.3z"/><path d="M781.6 1598.1h12.3l-6.2 12.3z"/><path d="M795.4 1605.7h12.3l-6.2 12.3z"/><path d="M782 1626.9h12.3l-6.2 12.3z"/><path d="M782 1632.8h12.3l-6.2 12.3z"/><path d="M802.7 1640h12.3l-6.2 12.3z"/><path d="M778.6 1644.8h12.3l-6.2 12.3z"/><path d="M775 1654.5h12.3l-6.2 12.3z"/><path d="M812.8 1653.8h12.3l-6.2 12.3z"/><path d="M778.8 1613.7h12.3l-6.2 12.3z"/></g>
<g fill="#008000" fill-opacity="0.5"><path d="M782 1591.4h12.3l-6.2 12.3z"/><path d="M778.4 1595.8h12.3l-6.2 12.3z"/><path d="M816.7 1602.7h12.3l-6.2 12.3z"/><path d="M792.2 1617.1h12.3l-6.2 12.3z"/><path d="M773.6 1622.1h12.3l-6.2 12.3z"/><path d="M792.2 1655.8h12.3l-6.2 12.3z"/><path d="M812.9 1687.9h12.3l-6.2 12.3z"/></g>
<g fill="#ffa500" fill-opacity="0.5"><path d="M775.2 1594.8h12.3l-6.2 12.3z"/><path d="M778.8 1595.4h12.3l-6.2 12.3z"/></g>
<g fill="#0000ff" fill-opacity="0.5"><path d="M778.8 1613.7h12.3l-6.2 12.3z"/><path d="M813.5 1618.1h12.3l-6.2 12.3z"/><path d="M820.3 1642h12.3l-6.2 12.3z"/><path d="M827.4 1649.8h12.3l-6.2 12.3z"/></g>
<g fill="#a52a2a" fill-opacity="0.5"><path d="M782 1593.4h12.3l-6.2 12.3z"/><path d="M780.4 1626.9h12.3l-6.2 12.3z"/></g>
<g fill="#ffa500" fill-opacity="0.5"><path d="M1264.1 1608.6h12.3l-6.2 12.3z"/><path d="M1271 1628.3h12.3l-6.2 12.3z"/></g>
<g fill="#ff0000" fill-opacity="0.5"><path d="M1267 1607.4h12.3l-6.2 12.3z"/><path d="M1278 1649.8h12.3l-6.2 12.3z"/></g>
<g fill="#008000" fill-opacity="0.5"><path d="M1267 1609.8h12.3l-6.2 12.3z"/><path d="M1267 1638.8h12.3l-6.2 12.3z"/><path d="M1281.5 1628.3h12.3l-6.2 12.3z"/><path d="M1276.8 1672.9h12.3l-6.2 12.3z"/></g>
<g fill="#a52a2a" fill-opacity="0.5"><path d="M1278 1658.4h12.3l-6.2 12.3z"/></g>
<path class="e" stroke="#0000ff" stroke-opacity="0.4" d="M917.2 1420.8v10M924.1 1438v12.6M985.7 1459.3v11.3M993.4 1457.4v32.7M999.5 1461.2v11.3M1007 1461.2v11.3M1013.7 1461.2v28.9M1017.1 1463.1v15.1M1020.2 1464.3v10"/>
<path class="e" stroke="#0000ff" stroke-opacity="0.4" d="M1179.9 1497.2v13.9M1193.8 1497v11.6"/>
<path class="e" stroke="#ffa500" d="M878.6 1436.1v23.9M971.8 1423.5v17.6M1041.2 1412.9v12.6M1069.2 1426v15.1M1076.1 1402.2v52.8"/>
<path class="e" stroke="#ffa500" d="M1172.9 1433.6v15.1M1166.2 1459.5v29M1226.2 1482.9v18.6M1242.2 1481.5v39.4"/>
<path class="e" stroke="#ffa500" d="M1273.8 1651.3v51"/>
<path class="e" stroke="#ff0000" d="M874.5 1429.8v45.2M975 1430.2v17.6M1034 1424.2v22.6M1034 1427.9v22.6M1054.5 1420.1v31.4M1061.9 1421.9v35.2M1065.4 1416v18.8"/>
<path class="e" stroke="#ff0000" d="M1131.2 1435.1v12.8M1138.1 1431.9v15.1M1145.1 1417.7v34.8M1155.3 1380.3v39M1158.4 1422.4v23.2M1165.7 1421.2v18.6M1165.9 1426.1v19.7M1141.2 1453.3v23.2M1182.8 1433.4v13.9M1189.7 1439.7v22M1169.1 1454.8v17.4M1182.8 1455.1v15.1M1189.7 1456.5v30.1M1231.4 1475.9v16.2M1238.4 1466.7v16.2M1231.4 1484.1v13.9M1238.4 1476.3v17.4"/>
<path class="e" stroke="#008000" d="M874.6 1344.8v57M871 1413.5v17.6M1054.7 1439.7v51M988.8 1478.2v12.6M975 1486.1v20.1M981.9 1486.3v15.1M1002.6 1484.2v31.4M1002.6 1498.3v28.9M975 1498.9v32.7M1020.2 1477.3v59M1020.2 1501.8v30.1M1027.1 1485.7v13.8M1034 1486.3v22.6M1034 1510.8v30.1M1041.2 1503.3v23.9"/>
<path class="e" stroke="#008000" d="M1064.7 1491.9v37.1M1064.7 1521.4v61.4M1075.5 1513.3v15.1M1082.5 1518v27.8M1138.1 1510.8v34.8M1141.6 1500.3v56.8M1169.1 1510.6v33.6M1075.5 1536.8v18.6M1117 1528.8v16.2M1120.7 1533.6v18.6M1124.2 1531.7v24.3M1131.2 1520.9v29M1165.6 1529.9v27.8M1175.8 1539.4v18.6M1182.8 1530.1v16.2M1182.8 1535.9v17.4M1203.6 1536.2v18.6M1169.1 1528.4v76.5M1175.8 1562v22M1189.7 1566.1v37.1M1203.6 1566.3v19.7M1210.6 1561.2v17.4M1210.6 1569v24.3M1224.5 1563.2v22M1224.5 1566.7v22M1231.4 1565.9v34.8M1238.4 1578.8v37.1M1165.6 1565.2v69.6M1231.4 1598.8v45.2"/>
<path class="e" stroke="#008000" d="M1048.5 1528.5v16M1048 1515.7v93M1041 1527v16"/>
<g fill="#0000ff" fill-opacity="0.4"><circle cx="917.2" cy="1425.8" r="5.55"/><circle cx="924.1" cy="1444.3" r="5.55"/><circle cx="985.7" cy="1465" r="5.55"/><circle cx="993.4" cy="1473.8" r="5.55"/><circle cx="999.5" cy="1466.9" r="5.55"/><circle cx="1007" cy="1466.9" r="5.55"/><circle cx="1013.7" cy="1475.7" r="5.55"/><circle cx="1017.1" cy="1470.6" r="5.55"/><circle cx="1020.2" cy="1469.4" r="5.55"/></g>
<g fill="#0000ff" fill-opacity="0.4"><circle cx="1179.9" cy="1504.1" r="5.55"/><circle cx="1193.8" cy="1502.8" r="5.55"/></g>
<g fill="#ffa500"><circle cx="874.9" cy="1434.2" r="5.55"/><circle cx="878.6" cy="1448" r="5.55"/><circle cx="971.8" cy="1432.3" r="5.55"/><circle cx="1041.2" cy="1419.1" r="5.55"/><circle cx="1069.2" cy="1433.6" r="5.55"/><circle cx="1076.1" cy="1428.6" r="5.55"/></g>
<g fill="#ffa500"><circle cx="1110.3" cy="1435.1" r="5.55"/><circle cx="1123.6" cy="1437.1" r="5.55"/><circle cx="1172.9" cy="1441.2" r="5.55"/><circle cx="1166.2" cy="1474" r="5.55"/><circle cx="1226.2" cy="1492.2" r="5.55"/><circle cx="1242.2" cy="1501.2" r="5.55"/></g>
<g fill="#ffa500"><circle cx="1273.8" cy="1676.8" r="5.55"/></g>
<g fill="#ff0000"><circle cx="881.4" cy="1416" r="5.55"/><circle cx="888.3" cy="1419.8" r="5.55"/><circle cx="895.2" cy="1415.4" r="5.55"/><circle cx="902.1" cy="1418.5" r="5.55"/><circle cx="908.8" cy="1412.9" r="5.55"/><circle cx="916.6" cy="1409.5" r="5.55"/><circle cx="912.8" cy="1415.4" r="5.55"/><circle cx="880.8" cy="1426.7" r="5.55"/><circle cx="888.3" cy="1432.3" r="5.55"/><circle cx="874.5" cy="1452.4" r="5.55"/><circle cx="975" cy="1439" r="5.55"/><circle cx="981.9" cy="1427.9" r="5.55"/><circle cx="988.2" cy="1429.2" r="5.55"/><circle cx="995.7" cy="1419.4" r="5.55"/><circle cx="996.3" cy="1425.4" r="5.55"/><circle cx="981.9" cy="1431.7" r="5.55"/><circle cx="1019.8" cy="1419.4" r="5.55"/><circle cx="1027.1" cy="1419.4" r="5.55"/><circle cx="1019.8" cy="1431.7" r="5.55"/><circle cx="1034" cy="1435.5" r="5.55"/><circle cx="1034" cy="1439.2" r="5.55"/><circle cx="1054.5" cy="1435.8" r="5.55"/><circle cx="1061.9" cy="1439.5" r="5.55"/><circle cx="1065.4" cy="1425.4" r="5.55"/><circle cx="1069.2" cy="1427.9" r="5.55"/><circle cx="1076.1" cy="1420.4" r="5.55"/><circle cx="1076.1" cy="1425.4" r="5.55"/><circle cx="1082.4" cy="1424.2" r="5.55"/><circle cx="1085.9" cy="1421" r="5.55"/></g>
<g fill="#ff0000"><circle cx="1117.2" cy="1426.9" r="5.55"/><circle cx="1127.1" cy="1428.6" r="5.55"/><circle cx="1123" cy="1431" r="5.55"/><circle cx="1131.2" cy="1441.5" r="5.55"/><circle cx="1138.1" cy="1439.4" r="5.55"/><circle cx="1145.1" cy="1435.1" r="5.55"/><circle cx="1155.3" cy="1399.8" r="5.55"/><circle cx="1158.4" cy="1434" r="5.55"/><circle cx="1165.7" cy="1430.5" r="5.55"/><circle cx="1165.9" cy="1435.9" r="5.55"/><circle cx="1141.2" cy="1464.9" r="5.55"/><circle cx="1182.8" cy="1440.3" r="5.55"/><circle cx="1175.8" cy="1451.6" r="5.55"/><circle cx="1189.7" cy="1450.7" r="5.55"/><circle cx="1169.1" cy="1463.5" r="5.55"/><circle cx="1175.8" cy="1459.7" r="5.55"/><circle cx="1182.8" cy="1462.6" r="5.55"/><circle cx="1189.7" cy="1471.5" r="5.55"/><circle cx="1196.7" cy="1456.2" r="5.55"/><circle cx="1204.2" cy="1457.2" r="5.55"/><circle cx="1196.7" cy="1462.6" r="5.55"/><circle cx="1204.2" cy="1462" r="5.55"/><circle cx="1223.9" cy="1485.2" r="5.55"/><circle cx="1231.4" cy="1484.1" r="5.55"/><circle cx="1238.4" cy="1474.8" r="5.55"/><circle cx="1231.4" cy="1491" r="5.55"/><circle cx="1238.4" cy="1485" r="5.55"/></g>
<g fill="#008000"><circle cx="874.6" cy="1373.3" r="5.55"/><circle cx="871" cy="1422.3" r="5.55"/><circle cx="888.3" cy="1423.5" r="5.55"/><circle cx="895.2" cy="1422.9" r="5.55"/><circle cx="901.5" cy="1426.7" r="5.55"/><circle cx="909" cy="1430.4" r="5.55"/><circle cx="902.1" cy="1435.5" r="5.55"/><circle cx="916.6" cy="1439.2" r="5.55"/><circle cx="916.3" cy="1444.3" r="5.55"/><circle cx="1054.7" cy="1465.2" r="5.55"/><circle cx="988.8" cy="1484.4" r="5.55"/><circle cx="975" cy="1496.1" r="5.55"/><circle cx="981.9" cy="1493.9" r="5.55"/><circle cx="981.9" cy="1501.4" r="5.55"/><circle cx="988.8" cy="1506.4" r="5.55"/><circle cx="995.7" cy="1493.9" r="5.55"/><circle cx="1002.6" cy="1499.9" r="5.55"/><circle cx="995.7" cy="1510.8" r="5.55"/><circle cx="1002.6" cy="1512.7" r="5.55"/><circle cx="975" cy="1515.2" r="5.55"/><circle cx="1020.2" cy="1506.8" r="5.55"/><circle cx="1020.2" cy="1516.9" r="5.55"/><circle cx="1027.1" cy="1492.6" r="5.55"/><circle cx="1034" cy="1497.6" r="5.55"/><circle cx="1034" cy="1525.9" r="5.55"/><circle cx="1041.2" cy="1515.2" r="5.55"/></g>
<g fill="#008000"><circle cx="1064.7" cy="1510.4" r="5.55"/><circle cx="1064.7" cy="1552.2" r="5.55"/><circle cx="1075.5" cy="1520.9" r="5.55"/><circle cx="1082.5" cy="1531.9" r="5.55"/><circle cx="1138.1" cy="1528.2" r="5.55"/><circle cx="1141.6" cy="1528.8" r="5.55"/><circle cx="1169.1" cy="1527.4" r="5.55"/><circle cx="1075.5" cy="1546" r="5.55"/><circle cx="1117" cy="1536.9" r="5.55"/><circle cx="1120.7" cy="1542.9" r="5.55"/><circle cx="1124.2" cy="1543.8" r="5.55"/><circle cx="1131.2" cy="1535.4" r="5.55"/><circle cx="1165.6" cy="1543.8" r="5.55"/><circle cx="1175.8" cy="1548.7" r="5.55"/><circle cx="1182.8" cy="1538.3" r="5.55"/><circle cx="1182.8" cy="1544.6" r="5.55"/><circle cx="1203.6" cy="1545.4" r="5.55"/><circle cx="1169.1" cy="1566.7" r="5.55"/><circle cx="1175.8" cy="1573" r="5.55"/><circle cx="1189.7" cy="1584.6" r="5.55"/><circle cx="1203.6" cy="1576.2" r="5.55"/><circle cx="1210.6" cy="1569.9" r="5.55"/><circle cx="1210.6" cy="1581.2" r="5.55"/><circle cx="1224.5" cy="1574.2" r="5.55"/><circle cx="1224.5" cy="1577.7" r="5.55"/><circle cx="1231.4" cy="1583.2" r="5.55"/><circle cx="1238.4" cy="1597.4" r="5.55"/><circle cx="1165.6" cy="1599.9" r="5.55"/><circle cx="1231.4" cy="1621.4" r="5.55"/></g>
<g fill="#008000"><circle cx="1048.5" cy="1536.5" r="5.55"/><circle cx="1048" cy="1577.7" r="5.55"/><circle cx="1041" cy="1535" r="5.55"/></g>
</g>
<path class="mn" d="M766.60 1704.2v-6.2M783.97 1704.2v-6.2M818.70 1704.2v-6.2M836.07 1704.2v-6.2M853.43 1704.2v-6.2M888.17 1704.2v-6.2M905.53 1704.2v-6.2M922.90 1704.2v-6.2M957.63 1704.2v-6.2M975.00 1704.2v-6.2M992.37 1704.2v-6.2M1027.10 1704.2v-6.2M1044.47 1704.2v-6.2M1061.83 1704.2v-6.2M1096.57 1704.2v-6.2M1113.93 1704.2v-6.2M1131.30 1704.2v-6.2M1166.03 1704.2v-6.2M1183.40 1704.2v-6.2M1200.77 1704.2v-6.2M1235.50 1704.2v-6.2M1252.87 1704.2v-6.2M1270.23 1704.2v-6.2M766.6 1337.00h6.2M766.6 1348.48h6.2M766.6 1359.95h6.2M766.6 1382.90h6.2M766.6 1394.38h6.2M766.6 1405.85h6.2M766.6 1417.32h6.2M766.6 1440.28h6.2M766.6 1451.75h6.2M766.6 1463.23h6.2M766.6 1474.70h6.2M766.6 1497.65h6.2M766.6 1509.12h6.2M766.6 1520.60h6.2M766.6 1532.08h6.2M766.6 1555.03h6.2M766.6 1566.50h6.2M766.6 1577.98h6.2M766.6 1589.45h6.2M766.6 1612.40h6.2M766.6 1623.88h6.2M766.6 1635.35h6.2M766.6 1646.83h6.2M766.6 1669.78h6.2M766.6 1681.25h6.2M766.6 1692.73h6.2M766.6 1704.20h6.2M1287.6 1346.75h-6.2M1287.6 1358.23h-6.2M1287.6 1381.18h-6.2M1287.6 1392.65h-6.2M1287.6 1404.13h-6.2M1287.6 1415.60h-6.2M1287.6 1438.55h-6.2M1287.6 1450.03h-6.2M1287.6 1461.50h-6.2M1287.6 1472.98h-6.2M1287.6 1495.93h-6.2M1287.6 1507.40h-6.2M1287.6 1518.88h-6.2M1287.6 1530.35h-6.2M1287.6 1553.30h-6.2M1287.6 1564.78h-6.2M1287.6 1576.25h-6.2M1287.6 1587.73h-6.2M1287.6 1610.68h-6.2M1287.6 1622.15h-6.2M1287.6 1633.63h-6.2M1287.6 1645.10h-6.2M1287.6 1668.05h-6.2M1287.6 1679.53h-6.2M1287.6 1691.00h-6.2M1287.6 1702.48h-6.2"/>
<path class="mj" d="M801.33 1704.2v-12.3M870.80 1704.2v-12.3M940.27 1704.2v-12.3M1009.73 1704.2v-12.3M1079.20 1704.2v-12.3M1148.67 1704.2v-12.3M1218.13 1704.2v-12.3M1287.60 1704.2v-12.3M766.6 1371.43h12.3M766.6 1428.80h12.3M766.6 1486.18h12.3M766.6 1543.55h12.3M766.6 1600.93h12.3M766.6 1658.30h12.3M1287.6 1369.70h-12.3M1287.6 1427.08h-12.3M1287.6 1484.45h-12.3M1287.6 1541.83h-12.3M1287.6 1599.20h-12.3M1287.6 1656.58h-12.3"/>
<rect class="fr" x="766.6" y="1337" width="521" height="367.2"/>
</g>
<g id="legend">
<rect x="1526.7" y="1351.0" width="215.6" height="336.7" rx="5.5" fill="#fff" fill-opacity="0.8" stroke="#cccccc" stroke-opacity="0.8" stroke-width="1.55"/>
<circle cx="1566.0" cy="1374.0" r="8.6" fill="#ff0000"/>
<circle cx="1566.0" cy="1415.0" r="8.6" fill="#008000"/>
<circle cx="1566.0" cy="1456.0" r="8.6" fill="#a52a2a"/>
<circle cx="1566.0" cy="1497.0" r="8.6" fill="#0000ff" fill-opacity="0.4"/>
<circle cx="1566.0" cy="1538.0" r="8.6" fill="#ffa500"/>
<path fill="none" stroke="#808080" stroke-width="1.6" d="M1555.1 1568.1l21.8 21.8m0 -21.8l-21.8 21.8"/>
<path fill="none" stroke="#a52a2a" stroke-width="1.6" d="M1555.1 1609.1l21.8 21.8m0 -21.8l-21.8 21.8"/>
<path fill="none" stroke="#000000" stroke-width="1.6" d="M1555.1 1650.1l21.8 21.8m0 -21.8l-21.8 21.8"/>
</g>
<g id="labels">
<text class="t0" text-anchor="middle" x="74.00" y="402.58">−50</text>
<text class="t0" text-anchor="middle" x="178.20" y="402.58">0</text>
<text class="t0" text-anchor="middle" x="282.40" y="402.58">50</text>
<text class="t0" text-anchor="middle" x="386.60" y="402.58">100</text>
<text class="t0" text-anchor="middle" x="490.80" y="402.58">150</text>
<text class="t0" text-anchor="middle" x="595.00" y="402.58">200</text>
<text class="t1" text-anchor="middle" x="334.50" y="429.18">Days since peak</text>
<text class="t0" text-anchor="end" x="68.60" y="66.09">18.0</text>
<text class="t0" text-anchor="end" x="68.60" y="120.09">18.5</text>
<text class="t0" text-anchor="end" x="68.60" y="174.09">19.0</text>
<text class="t0" text-anchor="end" x="68.60" y="228.09">19.5</text>
<text class="t0" text-anchor="end" x="68.60" y="282.09">20.0</text>
<text class="t0" text-anchor="end" x="68.60" y="336.09">20.5</text>
<text class="t0" text-anchor="end" x="68.60" y="390.09">21.0</text>
<text class="t1" text-anchor="middle" x="16.34" y="199.40" transform="rotate(-90 16.34 199.40)">Apparent magnitude</text>
<text class="t0" x="600.40" y="22.89">−14.0</text>
<text class="t0" x="600.40" y="76.89">−13.5</text>
<text class="t0" x="600.40" y="130.89">−13.0</text>
<text class="t0" x="600.40" y="184.89">−12.5</text>
<text class="t0" x="600.40" y="238.89">−12.0</text>
<text class="t0" x="600.40" y="292.89">−11.5</text>
<text class="t0" x="600.40" y="346.89">−11.0</text>
<text class="t1" text-anchor="middle" x="680.32" y="199.40" transform="rotate(-90 680.32 199.40)">Abs. mag</text>
<text class="t0" text-anchor="middle" x="766.60" y="402.58">−150</text>
<text class="t0" text-anchor="middle" x="863.08" y="402.58">−100</text>
<text class="t0" text-anchor="middle" x="959.56" y="402.58">−50</text>
<text class="t0" text-anchor="middle" x="1056.04" y="402.58">0</text>
<text class="t0" text-anchor="middle" x="1152.53" y="402.58">50</text>
<text class="t0" text-anchor="middle" x="1249.01" y="402.58">100</text>
<text class="t1" text-anchor="middle" x="1027.10" y="429.18">Days since peak</text>
<text class="t0" text-anchor="end" x="761.20" y="22.89">15</text>
<text class="t0" text-anchor="end" x="761.20" y="76.11">16</text>
<text class="t0" text-anchor="end" x="761.20" y="129.33">17</text>
<text class="t0" text-anchor="end" x="761.20" y="182.54">18</text>
<text class="t0" text-anchor="end" x="761.20" y="235.76">19</text>
<text class="t0" text-anchor="end" x="761.20" y="288.98">20</text>
<text class="t0" text-anchor="end" x="761.20" y="342.20">21</text>
<text class="t1" text-anchor="middle" x="726.75" y="199.40" transform="rotate(-90 726.75 199.40)">Apparent magnitude</text>
<text class="t0" x="1293.00" y="46.84">−9</text>
<text class="t0" x="1293.00" y="100.06">−8</text>
<text class="t0" x="1293.00" y="153.27">−7</text>
<text class="t0" x="1293.00" y="206.49">−6</text>
<text class="t0" x="1293.00" y="259.71">−5</text>
<text class="t0" x="1293.00" y="312.93">−4</text>
<text class="t0" x="1293.00" y="366.14">−3</text>
<text class="t1" text-anchor="middle" x="1343.24" y="199.40" transform="rotate(-90 1343.24 199.40)">Abs. mag</text>
<text class="t0" text-anchor="middle" x="1506.46" y="402.58">−50</text>
<text class="t0" text-anchor="middle" x="1565.67" y="402.58">−25</text>
<text class="t0" text-anchor="middle" x="1624.87" y="402.58">0</text>
<text class="t0" text-anchor="middle" x="1684.08" y="402.58">25</text>
<text class="t0" text-anchor="middle" x="1743.28" y="402.58">50</text>
<text class="t0" text-anchor="middle" x="1802.49" y="402.58">75</text>
<text class="t0" text-anchor="middle" x="1861.69" y="402.58">100</text>
<text class="t0" text-anchor="middle" x="1920.90" y="402.58">125</text>
<text class="t0" text-anchor="middle" x="1980.10" y="402.58">150</text>
<text class="t1" text-anchor="middle" x="1719.60" y="429.18">Days since peak</text>
<text class="t0" text-anchor="end" x="1453.70" y="22.89">17</text>
<text class="t0" text-anchor="end" x="1453.70" y="97.83">18</text>
<text class="t0" text-anchor="end" x="1453.70" y="172.77">19</text>
<text class="t0" text-anchor="end" x="1453.70" y="247.71">20</text>
<text class="t0" text-anchor="end" x="1453.70" y="322.65">21</text>
<text class="t1" text-anchor="middle" x="1419.25" y="199.40" transform="rotate(-90 1419.25 199.40)">Apparent magnitude</text>
<text class="t0" x="1985.50" y="95.58">−11</text>
<text class="t0" x="1985.50" y="170.52">−10</text>
<text class="t0" x="1985.50" y="245.46">−9</text>
<text class="t0" x="1985.50" y="320.40">−8</text>
<text class="t1" text-anchor="middle" x="2047.61" y="199.40" transform="rotate(-90 2047.61 199.40)">Abs. mag</text>
<text class="t0" text-anchor="middle" x="74.00" y="842.98">−100</text>
<text class="t0" text-anchor="middle" x="174.19" y="842.98">0</text>
<text class="t0" text-anchor="middle" x="274.38" y="842.98">100</text>
<text class="t0" text-anchor="middle" x="374.58" y="842.98">200</text>
<text class="t0" text-anchor="middle" x="474.77" y="842.98">300</text>
<text class="t0" text-anchor="middle" x="574.96" y="842.98">400</text>
<text class="t1" text-anchor="middle" x="334.50" y="869.58">Days since peak</text>
<text class="t0" text-anchor="end" x="68.60" y="500.95">14</text>
<text class="t0" text-anchor="end" x="68.60" y="548.03">15</text>
<text class="t0" text-anchor="end" x="68.60" y="595.11">16</text>
<text class="t0" text-anchor="end" x="68.60" y="642.18">17</text>
<text class="t0" text-anchor="end" x="68.60" y="689.26">18</text>
<text class="t0" text-anchor="end" x="68.60" y="736.34">19</text>
<text class="t0" text-anchor="end" x="68.60" y="783.42">20</text>
<text class="t0" text-anchor="end" x="68.60" y="830.49">21</text>
<text class="t1" text-anchor="middle" x="34.15" y="639.80" transform="rotate(-90 34.15 639.80)">Apparent magnitude</text>
<text class="t0" x="600.40" y="474.59">−16</text>
<text class="t0" x="600.40" y="521.67">−15</text>
<text class="t0" x="600.40" y="568.74">−14</text>
<text class="t0" x="600.40" y="615.82">−13</text>
<text class="t0" x="600.40" y="662.90">−12</text>
<text class="t0" x="600.40" y="709.98">−11</text>
<text class="t0" x="600.40" y="757.05">−10</text>
<text class="t0" x="600.40" y="804.13">−9</text>
<text class="t1" text-anchor="middle" x="662.51" y="639.80" transform="rotate(-90 662.51 639.80)">Abs. mag</text>
<text class="t0" text-anchor="middle" x="766.60" y="842.98">−100</text>
<text class="t0" text-anchor="middle" x="868.76" y="842.98">0</text>
<text class="t0" text-anchor="middle" x="970.91" y="842.98">100</text>
<text class="t0" text-anchor="middle" x="1073.07" y="842.98">200</text>
<text class="t0" text-anchor="middle" x="1175.23" y="842.98">300</text>
<text class="t0" text-anchor="middle" x="1277.38" y="842.98">400</text>
<text class="t1" text-anchor="middle" x="1027.10" y="869.58">Days since peak</text>
<text class="t0" text-anchor="end" x="761.20" y="491.98">16</text>
<text class="t0" text-anchor="end" x="761.20" y="549.35">17</text>
<text class="t0" text-anchor="end" x="761.20" y="606.73">18</text>
<text class="t0" text-anchor="end" x="761.20" y="664.10">19</text>
<text class="t0" text-anchor="end" x="761.20" y="721.48">20</text>
<text class="t0" text-anchor="end" x="761.20" y="778.85">21</text>
<text class="t1" text-anchor="middle" x="726.75" y="639.80" transform="rotate(-90 726.75 639.80)">Apparent magnitude</text>
<text class="t0" x="1293.00" y="486.24">−14</text>
<text class="t0" x="1293.00" y="543.62">−13</text>
<text class="t0" x="1293.00" y="600.99">−12</text>
<text class="t0" x="1293.00" y="658.37">−11</text>
<text class="t0" x="1293.00" y="715.74">−10</text>
<text class="t0" x="1293.00" y="773.12">−9</text>
<text class="t0" x="1293.00" y="830.49">−8</text>
<text class="t1" text-anchor="middle" x="1355.11" y="639.80" transform="rotate(-90 1355.11 639.80)">Abs. mag</text>
<text class="t0" text-anchor="middle" x="1493.83" y="842.98">−40</text>
<text class="t0" text-anchor="middle" x="1563.30" y="842.98">−20</text>
<text class="t0" text-anchor="middle" x="1632.77" y="842.98">0</text>
<text class="t0" text-anchor="middle" x="1702.23" y="842.98">20</text>
<text class="t0" text-anchor="middle" x="1771.70" y="842.98">40</text>
<text class="t0" text-anchor="middle" x="1841.17" y="842.98">60</text>
<text class="t0" text-anchor="middle" x="1910.63" y="842.98">80</text>
<text class="t0" text-anchor="middle" x="1980.10" y="842.98">100</text>
<text class="t1" text-anchor="middle" x="1719.60" y="869.58">Days since peak</text>
<text class="t0" text-anchor="end" x="1453.70" y="491.98">16</text>
<text class="t0" text-anchor="end" x="1453.70" y="549.35">17</text>
<text class="t0" text-anchor="end" x="1453.70" y="606.73">18</text>
<text class="t0" text-anchor="end" x="1453.70" y="664.10">19</text>
<text class="t0" text-anchor="end" x="1453.70" y="721.48">20</text>
<text class="t0" text-anchor="end" x="1453.70" y="778.85">21</text>
<text class="t1" text-anchor="middle" x="1419.25" y="639.80" transform="rotate(-90 1419.25 639.80)">Apparent magnitude</text>
<text class="t0" x="1985.50" y="497.72">−16</text>
<text class="t0" x="1985.50" y="555.09">−15</text>
<text class="t0" x="1985.50" y="612.47">−14</text>
<text class="t0" x="1985.50" y="669.84">−13</text>
<text class="t0" x="1985.50" y="727.22">−12</text>
<text class="t0" x="1985.50" y="784.59">−11</text>
<text class="t1" text-anchor="middle" x="2047.61" y="639.80" transform="rotate(-90 2047.61 639.80)">Abs. mag</text>
<text class="t0" text-anchor="middle" x="74.00" y="1283.38">−50</text>
<text class="t0" text-anchor="middle" x="139.12" y="1283.38">−25</text>
<text class="t0" text-anchor="middle" x="204.25" y="1283.38">0</text>
<text class="t0" text-anchor="middle" x="269.38" y="1283.38">25</text>
<text class="t0" text-anchor="middle" x="334.50" y="1283.38">50</text>
<text class="t0" text-anchor="middle" x="399.62" y="1283.38">75</text>
<text class="t0" text-anchor="middle" x="464.75" y="1283.38">100</text>
<text class="t0" text-anchor="middle" x="529.88" y="1283.38">125</text>
<text class="t0" text-anchor="middle" x="595.00" y="1283.38">150</text>
<text class="t1" text-anchor="middle" x="334.50" y="1309.98">Days since peak</text>
<text class="t0" text-anchor="end" x="68.60" y="903.69">18.5</text>
<text class="t0" text-anchor="end" x="68.60" y="957.69">19.0</text>
<text class="t0" text-anchor="end" x="68.60" y="1011.69">19.5</text>
<text class="t0" text-anchor="end" x="68.60" y="1065.69">20.0</text>
<text class="t0" text-anchor="end" x="68.60" y="1119.69">20.5</text>
<text class="t0" text-anchor="end" x="68.60" y="1173.69">21.0</text>
<text class="t0" text-anchor="end" x="68.60" y="1227.69">21.5</text>
<text class="t1" text-anchor="middle" x="16.34" y="1080.20" transform="rotate(-90 16.34 1080.20)">Apparent magnitude</text>
<text class="t0" x="600.40" y="925.29">−15.0</text>
<text class="t0" x="600.40" y="979.29">−14.5</text>
<text class="t0" x="600.40" y="1033.29">−14.0</text>
<text class="t0" x="600.40" y="1087.29">−13.5</text>
<text class="t0" x="600.40" y="1141.29">−13.0</text>
<text class="t0" x="600.40" y="1195.29">−12.5</text>
<text class="t0" x="600.40" y="1249.29">−12.0</text>
<text class="t1" text-anchor="middle" x="680.32" y="1080.20" transform="rotate(-90 680.32 1080.20)">Abs. mag</text>
<text class="t0" text-anchor="middle" x="766.60" y="1283.38">−40</text>
<text class="t0" text-anchor="middle" x="827.89" y="1283.38">−20</text>
<text class="t0" text-anchor="middle" x="889.19" y="1283.38">0</text>
<text class="t0" text-anchor="middle" x="950.48" y="1283.38">20</text>
<text class="t0" text-anchor="middle" x="1011.78" y="1283.38">40</text>
<text class="t0" text-anchor="middle" x="1073.07" y="1283.38">60</text>
<text class="t0" text-anchor="middle" x="1134.36" y="1283.38">80</text>
<text class="t0" text-anchor="middle" x="1195.66" y="1283.38">100</text>
<text class="t0" text-anchor="middle" x="1256.95" y="1283.38">120</text>
<text class="t1" text-anchor="middle" x="1027.10" y="1309.98">Days since peak</text>
<text class="t0" text-anchor="end" x="761.20" y="951.59">18.5</text>
<text class="t0" text-anchor="end" x="761.20" y="1031.41">19.0</text>
<text class="t0" text-anchor="end" x="761.20" y="1111.24">19.5</text>
<text class="t0" text-anchor="end" x="761.20" y="1191.07">20.0</text>
<text class="t0" text-anchor="end" x="761.20" y="1270.89">20.5</text>
<text class="t1" text-anchor="middle" x="708.94" y="1080.20" transform="rotate(-90 708.94 1080.20)">Apparent magnitude</text>
<text class="t0" x="1293.00" y="930.83">−14.5</text>
<text class="t0" x="1293.00" y="1010.66">−14.0</text>
<text class="t0" x="1293.00" y="1090.49">−13.5</text>
<text class="t0" x="1293.00" y="1170.31">−13.0</text>
<text class="t0" x="1293.00" y="1250.14">−12.5</text>
<text class="t1" text-anchor="middle" x="1372.92" y="1080.20" transform="rotate(-90 1372.92 1080.20)">Abs. mag</text>
<text class="t0" text-anchor="middle" x="1493.83" y="1283.38">−40</text>
<text class="t0" text-anchor="middle" x="1563.30" y="1283.38">−20</text>
<text class="t0" text-anchor="middle" x="1632.77" y="1283.38">0</text>
<text class="t0" text-anchor="middle" x="1702.23" y="1283.38">20</text>
<text class="t0" text-anchor="middle" x="1771.70" y="1283.38">40</text>
<text class="t0" text-anchor="middle" x="1841.17" y="1283.38">60</text>
<text class="t0" text-anchor="middle" x="1910.63" y="1283.38">80</text>
<text class="t0" text-anchor="middle" x="1980.10" y="1283.38">100</text>
<text class="t1" text-anchor="middle" x="1719.60" y="1309.98">Days since peak</text>
<text class="t0" text-anchor="end" x="1453.70" y="903.69">19.0</text>
<text class="t0" text-anchor="end" x="1453.70" y="967.00">19.5</text>
<text class="t0" text-anchor="end" x="1453.70" y="1030.31">20.0</text>
<text class="t0" text-anchor="end" x="1453.70" y="1093.62">20.5</text>
<text class="t0" text-anchor="end" x="1453.70" y="1156.93">21.0</text>
<text class="t0" text-anchor="end" x="1453.70" y="1220.24">21.5</text>
<text class="t1" text-anchor="middle" x="1401.44" y="1080.20" transform="rotate(-90 1401.44 1080.20)">Apparent magnitude</text>
<text class="t0" x="1985.50" y="903.69">−16.0</text>
<text class="t0" x="1985.50" y="967.00">−15.5</text>
<text class="t0" x="1985.50" y="1030.31">−15.0</text>
<text class="t0" x="1985.50" y="1093.62">−14.5</text>
<text class="t0" x="1985.50" y="1156.93">−14.0</text>
<text class="t0" x="1985.50" y="1220.24">−13.5</text>
<text class="t1" text-anchor="middle" x="2065.42" y="1080.20" transform="rotate(-90 2065.42 1080.20)">Abs. mag</text>
<text class="t0" text-anchor="middle" x="108.73" y="1723.78">−40</text>
<text class="t0" text-anchor="middle" x="178.20" y="1723.78">−20</text>
<text class="t0" text-anchor="middle" x="247.67" y="1723.78">0</text>
<text class="t0" text-anchor="middle" x="317.13" y="1723.78">20</text>
<text class="t0" text-anchor="middle" x="386.60" y="1723.78">40</text>
<text class="t0" text-anchor="middle" x="456.07" y="1723.78">60</text>
<text class="t0" text-anchor="middle" x="525.53" y="1723.78">80</text>
<text class="t0" text-anchor="middle" x="595.00" y="1723.78">100</text>
<text class="t1" text-anchor="middle" x="334.50" y="1750.38">Days since peak</text>
<text class="t0" text-anchor="end" x="68.60" y="1344.09">19.0</text>
<text class="t0" text-anchor="end" x="68.60" y="1420.59">19.5</text>
<text class="t0" text-anchor="end" x="68.60" y="1497.09">20.0</text>
<text class="t0" text-anchor="end" x="68.60" y="1573.59">20.5</text>
<text class="t0" text-anchor="end" x="68.60" y="1650.09">21.0</text>
<text class="t1" text-anchor="middle" x="16.34" y="1520.60" transform="rotate(-90 16.34 1520.60)">Apparent magnitude</text>
<text class="t0" x="600.40" y="1386.93">−14.5</text>
<text class="t0" x="600.40" y="1463.43">−14.0</text>
<text class="t0" x="600.40" y="1539.93">−13.5</text>
<text class="t0" x="600.40" y="1616.43">−13.0</text>
<text class="t0" x="600.40" y="1692.93">−12.5</text>
<text class="t1" text-anchor="middle" x="680.32" y="1520.60" transform="rotate(-90 680.32 1520.60)">Abs. mag</text>
<text class="t0" text-anchor="middle" x="801.33" y="1723.78">−40</text>
<text class="t0" text-anchor="middle" x="870.80" y="1723.78">−20</text>
<text class="t0" text-anchor="middle" x="940.27" y="1723.78">0</text>
<text class="t0" text-anchor="middle" x="1009.73" y="1723.78">20</text>
<text class="t0" text-anchor="middle" x="1079.20" y="1723.78">40</text>
<text class="t0" text-anchor="middle" x="1148.67" y="1723.78">60</text>
<text class="t0" text-anchor="middle" x="1218.13" y="1723.78">80</text>
<text class="t0" text-anchor="middle" x="1287.60" y="1723.78">100</text>
<text class="t1" text-anchor="middle" x="1027.10" y="1750.38">Days since peak</text>
<text class="t0" text-anchor="end" x="761.20" y="1378.52">18.0</text>
<text class="t0" text-anchor="end" x="761.20" y="1435.89">18.5</text>
<text class="t0" text-anchor="end" x="761.20" y="1493.27">19.0</text>
<text class="t0" text-anchor="end" x="761.20" y="1550.64">19.5</text>
<text class="t0" text-anchor="end" x="761.20" y="1608.02">20.0</text>
<text class="t0" text-anchor="end" x="761.20" y="1665.39">20.5</text>
<text class="t1" text-anchor="middle" x="708.94" y="1520.60" transform="rotate(-90 708.94 1520.60)">Apparent magnitude</text>
<text class="t0" x="1293.00" y="1376.80">−16.0</text>
<text class="t0" x="1293.00" y="1434.17">−15.5</text>
<text class="t0" x="1293.00" y="1491.55">−15.0</text>
<text class="t0" x="1293.00" y="1548.92">−14.5</text>
<text class="t0" x="1293.00" y="1606.30">−14.0</text>
<text class="t0" x="1293.00" y="1663.67">−13.5</text>
<text class="t1" text-anchor="middle" x="1372.92" y="1520.60" transform="rotate(-90 1372.92 1520.60)">Abs. mag</text>
<text class="t2" x="282.30" y="54.10">ZTF18acbwfza (g)</text>
<text class="t2" x="282.30" y="91.80">AT2018hso</text>
<text class="t2" x="805.07" y="69.09">ZTF19adakuot (g)</text>
<text class="t2" x="805.07" y="106.77">AT2019zhd</text>
<text class="t2" x="1648.80" y="293.36">ZTF20aawdwch (g)</text>
<text class="t2" x="1648.80" y="330.67">AT2020hat</text>
<text class="t2" x="254.45" y="729.85">ZTF21aancgbm (g)</text>
<text class="t2" x="254.45" y="776.45">AT2021biy</text>
<text class="t2" x="869.10" y="732.10">ZTF21aagppzg (g)</text>
<text class="t2" x="869.10" y="772.30">AT2021blu</text>
<text class="t2" x="1632.95" y="732.10">ZTF21acpkzcc (g)</text>
<text class="t2" x="1632.95" y="772.30">AT2021aess</text>
<text class="t2" x="256.20" y="951.10">ZTF18abwxrhi (s)</text>
<text class="t2" x="256.20" y="993.95">AT2018gzz</text>
<text class="t2" x="827.95" y="1184.00">ZTF21aaekeqd (s)</text>
<text class="t2" x="827.95" y="1216.00">AT2021afy</text>
<text class="t2" x="1494.20" y="935.00">ZTF18aajgqmr (b)</text>
<text class="t2" x="1494.20" y="972.95">AT2020ifb</text>
<text class="t2" x="109.20" y="1613.00">ZTF20abjgdec (b)</text>
<text class="t2" x="109.20" y="1643.15">AT2020afdb</text>
<text class="t2" x="905.80" y="1624.00">ZTF21aabfwwl (b)</text>
<text class="t2" x="905.80" y="1658.55">AT2021iy</text>
<text class="t3" x="1616.50" y="1384.10">ZTF-r</text>
<text class="t3" x="1616.50" y="1425.10">ZTF-g</text>
<text class="t3" x="1616.50" y="1466.10">ZTF-i</text>
<text class="t3" x="1616.50" y="1507.10">ATLAS-c</text>
<text class="t3" x="1616.50" y="1548.10">ATLAS-o</text>
<text class="t3" x="1616.50" y="1589.10">J</text>
<text class="t3" x="1616.50" y="1630.10">H</text>
<text class="t3" x="1616.50" y="1671.10">Ks</text>
</g>
</svg>
</body></html>
